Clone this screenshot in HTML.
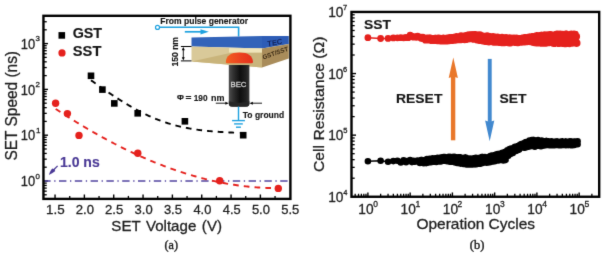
<!DOCTYPE html>
<html><head><meta charset="utf-8"><title>Figure</title>
<style>html,body{margin:0;padding:0;background:#fff;} body{width:603px;height:254px;overflow:hidden;} svg{display:block;will-change:transform;}</style>
</head><body><svg width="603" height="254" viewBox="0 0 603 254"><defs><filter id="soft" x="0" y="0" width="1" height="1" filterUnits="objectBoundingBox" color-interpolation-filters="sRGB"><feConvolveMatrix order="3" kernelMatrix="0.0144 0.1200 0.0144 0.1200 1.0000 0.1200 0.0144 0.1200 0.0144" divisor="1.5376" edgeMode="duplicate"/></filter></defs><g filter="url(#soft)"><rect x="0" y="0" width="603" height="254" fill="#fff"/><line x1="55.05" y1="198.4" x2="55.05" y2="194.5" stroke="#000" stroke-width="1.4" />
<line x1="84.38" y1="198.4" x2="84.38" y2="194.5" stroke="#000" stroke-width="1.4" />
<line x1="113.72" y1="198.4" x2="113.72" y2="194.5" stroke="#000" stroke-width="1.4" />
<line x1="143.06" y1="198.4" x2="143.06" y2="194.5" stroke="#000" stroke-width="1.4" />
<line x1="172.39" y1="198.4" x2="172.39" y2="194.5" stroke="#000" stroke-width="1.4" />
<line x1="201.73" y1="198.4" x2="201.73" y2="194.5" stroke="#000" stroke-width="1.4" />
<line x1="231.06" y1="198.4" x2="231.06" y2="194.5" stroke="#000" stroke-width="1.4" />
<line x1="260.39" y1="198.4" x2="260.39" y2="194.5" stroke="#000" stroke-width="1.4" />
<line x1="69.72" y1="198.4" x2="69.72" y2="195.9" stroke="#000" stroke-width="1.3" />
<line x1="99.05" y1="198.4" x2="99.05" y2="195.9" stroke="#000" stroke-width="1.3" />
<line x1="128.39" y1="198.4" x2="128.39" y2="195.9" stroke="#000" stroke-width="1.3" />
<line x1="157.72" y1="198.4" x2="157.72" y2="195.9" stroke="#000" stroke-width="1.3" />
<line x1="187.06" y1="198.4" x2="187.06" y2="195.9" stroke="#000" stroke-width="1.3" />
<line x1="216.39" y1="198.4" x2="216.39" y2="195.9" stroke="#000" stroke-width="1.3" />
<line x1="245.73" y1="198.4" x2="245.73" y2="195.9" stroke="#000" stroke-width="1.3" />
<line x1="275.06" y1="198.4" x2="275.06" y2="195.9" stroke="#000" stroke-width="1.3" />
<line x1="43.95" y1="194.79" x2="46.75" y2="194.79" stroke="#000" stroke-width="1.3" />
<line x1="43.95" y1="191.16" x2="46.75" y2="191.16" stroke="#000" stroke-width="1.3" />
<line x1="43.95" y1="188.09" x2="46.75" y2="188.09" stroke="#000" stroke-width="1.3" />
<line x1="43.95" y1="185.44" x2="46.75" y2="185.44" stroke="#000" stroke-width="1.3" />
<line x1="43.95" y1="183.1" x2="46.75" y2="183.1" stroke="#000" stroke-width="1.3" />
<line x1="43.95" y1="181" x2="47.95" y2="181" stroke="#000" stroke-width="1.4" />
<line x1="43.95" y1="167.21" x2="46.75" y2="167.21" stroke="#000" stroke-width="1.3" />
<line x1="43.95" y1="159.15" x2="46.75" y2="159.15" stroke="#000" stroke-width="1.3" />
<line x1="43.95" y1="153.43" x2="46.75" y2="153.43" stroke="#000" stroke-width="1.3" />
<line x1="43.95" y1="148.99" x2="46.75" y2="148.99" stroke="#000" stroke-width="1.3" />
<line x1="43.95" y1="145.36" x2="46.75" y2="145.36" stroke="#000" stroke-width="1.3" />
<line x1="43.95" y1="142.29" x2="46.75" y2="142.29" stroke="#000" stroke-width="1.3" />
<line x1="43.95" y1="139.64" x2="46.75" y2="139.64" stroke="#000" stroke-width="1.3" />
<line x1="43.95" y1="137.3" x2="46.75" y2="137.3" stroke="#000" stroke-width="1.3" />
<line x1="43.95" y1="135.2" x2="47.95" y2="135.2" stroke="#000" stroke-width="1.4" />
<line x1="43.95" y1="121.41" x2="46.75" y2="121.41" stroke="#000" stroke-width="1.3" />
<line x1="43.95" y1="113.35" x2="46.75" y2="113.35" stroke="#000" stroke-width="1.3" />
<line x1="43.95" y1="107.63" x2="46.75" y2="107.63" stroke="#000" stroke-width="1.3" />
<line x1="43.95" y1="103.19" x2="46.75" y2="103.19" stroke="#000" stroke-width="1.3" />
<line x1="43.95" y1="99.56" x2="46.75" y2="99.56" stroke="#000" stroke-width="1.3" />
<line x1="43.95" y1="96.49" x2="46.75" y2="96.49" stroke="#000" stroke-width="1.3" />
<line x1="43.95" y1="93.84" x2="46.75" y2="93.84" stroke="#000" stroke-width="1.3" />
<line x1="43.95" y1="91.5" x2="46.75" y2="91.5" stroke="#000" stroke-width="1.3" />
<line x1="43.95" y1="89.4" x2="47.95" y2="89.4" stroke="#000" stroke-width="1.4" />
<line x1="43.95" y1="75.61" x2="46.75" y2="75.61" stroke="#000" stroke-width="1.3" />
<line x1="43.95" y1="67.55" x2="46.75" y2="67.55" stroke="#000" stroke-width="1.3" />
<line x1="43.95" y1="61.83" x2="46.75" y2="61.83" stroke="#000" stroke-width="1.3" />
<line x1="43.95" y1="57.39" x2="46.75" y2="57.39" stroke="#000" stroke-width="1.3" />
<line x1="43.95" y1="53.76" x2="46.75" y2="53.76" stroke="#000" stroke-width="1.3" />
<line x1="43.95" y1="50.69" x2="46.75" y2="50.69" stroke="#000" stroke-width="1.3" />
<line x1="43.95" y1="48.04" x2="46.75" y2="48.04" stroke="#000" stroke-width="1.3" />
<line x1="43.95" y1="45.7" x2="46.75" y2="45.7" stroke="#000" stroke-width="1.3" />
<line x1="43.95" y1="43.6" x2="47.95" y2="43.6" stroke="#000" stroke-width="1.4" />
<line x1="43.95" y1="29.81" x2="46.75" y2="29.81" stroke="#000" stroke-width="1.3" />
<line x1="43.95" y1="21.75" x2="46.75" y2="21.75" stroke="#000" stroke-width="1.3" />
<line x1="43.2" y1="181" x2="289.5" y2="181" stroke="#5244a0" stroke-width="1.45" stroke-dasharray="7.4 3.6 1.3 3.5"/>
<path d="M90.2 79.7 L91.2 80.42 L92.2 81.14 L93.2 81.85 L94.2 82.57 L95.2 83.28 L96.2 83.99 L97.2 84.69 L98.2 85.4 L99.2 86.1 L100.2 86.8 L101.2 87.49 L102.2 88.19 L103.2 88.88 L104.2 89.57 L105.2 90.25 L106.2 90.94 L107.2 91.62 L108.2 92.29 L109.2 92.97 L110.2 93.64 L111.2 94.3 L112.2 94.96 L113.2 95.62 L114.2 96.28 L115.2 96.93 L116.2 97.58 L117.2 98.22 L118.2 98.86 L119.2 99.5 L120.2 100.13 L121.2 100.75 L122.2 101.37 L123.2 101.99 L124.2 102.6 L125.2 103.21 L126.2 103.81 L127.2 104.41 L128.2 105 L129.2 105.59 L130.2 106.17 L131.2 106.74 L132.2 107.31 L133.2 107.87 L134.2 108.43 L135.2 108.98 L136.2 109.53 L137.2 110.07 L138.2 110.6 L139.2 111.13 L140.2 111.64 L141.2 112.16 L142.2 112.66 L143.2 113.16 L144.2 113.66 L145.2 114.14 L146.2 114.62 L147.2 115.09 L148.2 115.56 L149.2 116.02 L150.2 116.47 L151.2 116.91 L152.2 117.34 L153.2 117.77 L154.2 118.19 L155.2 118.61 L156.2 119.01 L157.2 119.41 L158.2 119.8 L159.2 120.19 L160.2 120.56 L161.2 120.93 L162.2 121.29 L163.2 121.65 L164.2 121.99 L165.2 122.33 L166.2 122.66 L167.2 122.99 L168.2 123.3 L169.2 123.61 L170.2 123.92 L171.2 124.21 L172.2 124.5 L173.2 124.78 L174.2 125.06 L175.2 125.32 L176.2 125.59 L177.2 125.84 L178.2 126.09 L179.2 126.33 L180.2 126.56 L181.2 126.79 L182.2 127.02 L183.2 127.23 L184.2 127.44 L185.2 127.65 L186.2 127.85 L187.2 128.04 L188.2 128.23 L189.2 128.41 L190.2 128.59 L191.2 128.76 L192.2 128.93 L193.2 129.09 L194.2 129.24 L195.2 129.4 L196.2 129.54 L197.2 129.68 L198.2 129.82 L199.2 129.96 L200.2 130.09 L201.2 130.21 L202.2 130.33 L203.2 130.45 L204.2 130.56 L205.2 130.67 L206.2 130.78 L207.2 130.88 L208.2 130.98 L209.2 131.08 L210.2 131.17 L211.2 131.26 L212.2 131.35 L213.2 131.43 L214.2 131.51 L215.2 131.59 L216.2 131.67 L217.2 131.74 L218.2 131.81 L219.2 131.88 L220.2 131.95 L221.2 132.01 L222.2 132.07 L223.2 132.13 L224.2 132.19 L225.2 132.24 L226.2 132.29 L227.2 132.34 L228.2 132.39 L229.2 132.44 L230.2 132.49 L231.2 132.53 L232.2 132.57 L233.2 132.61 L234.2 132.65 L235.2 132.69 L236.2 132.73 L237.2 132.76 L238.2 132.8 L239.2 132.83" fill="none" stroke="#000" stroke-width="1.9" stroke-dasharray="5.7 5.0" stroke-dashoffset="-1"/>
<path d="M54 107.81 L55.5 108.81 L57 109.8 L58.5 110.78 L60 111.76 L61.5 112.74 L63 113.71 L64.5 114.67 L66 115.63 L67.5 116.59 L69 117.54 L70.5 118.48 L72 119.42 L73.5 120.35 L75 121.28 L76.5 122.2 L78 123.12 L79.5 124.03 L81 124.94 L82.5 125.84 L84 126.74 L85.5 127.63 L87 128.51 L88.5 129.39 L90 130.27 L91.5 131.13 L93 132 L94.5 132.85 L96 133.7 L97.5 134.55 L99 135.39 L100.5 136.22 L102 137.05 L103.5 137.88 L105 138.69 L106.5 139.5 L108 140.31 L109.5 141.11 L111 141.9 L112.5 142.69 L114 143.47 L115.5 144.25 L117 145.02 L118.5 145.78 L120 146.54 L121.5 147.29 L123 148.04 L124.5 148.78 L126 149.51 L127.5 150.24 L129 150.96 L130.5 151.68 L132 152.38 L133.5 153.09 L135 153.78 L136.5 154.47 L138 155.16 L139.5 155.84 L141 156.51 L142.5 157.17 L144 157.83 L145.5 158.48 L147 159.13 L148.5 159.77 L150 160.4 L151.5 161.03 L153 161.65 L154.5 162.26 L156 162.87 L157.5 163.47 L159 164.06 L160.5 164.65 L162 165.23 L163.5 165.8 L165 166.37 L166.5 166.93 L168 167.49 L169.5 168.03 L171 168.57 L172.5 169.11 L174 169.63 L175.5 170.15 L177 170.66 L178.5 171.17 L180 171.67 L181.5 172.16 L183 172.65 L184.5 173.12 L186 173.59 L187.5 174.06 L189 174.51 L190.5 174.96 L192 175.41 L193.5 175.84 L195 176.27 L196.5 176.69 L198 177.1 L199.5 177.51 L201 177.91 L202.5 178.3 L204 178.69 L205.5 179.06 L207 179.43 L208.5 179.8 L210 180.15 L211.5 180.5 L213 180.84 L214.5 181.17 L216 181.5 L217.5 181.82 L219 182.13 L220.5 182.43 L222 182.72 L223.5 183.01 L225 183.29 L226.5 183.56 L228 183.83 L229.5 184.09 L231 184.34 L232.5 184.58 L234 184.81 L235.5 185.04 L237 185.25 L238.5 185.46 L240 185.67 L241.5 185.86 L243 186.05 L244.5 186.23 L246 186.4 L247.5 186.56 L249 186.71 L250.5 186.86 L252 187 L253.5 187.13 L255 187.25 L256.5 187.37 L258 187.47 L259.5 187.57 L261 187.66 L262.5 187.74 L264 187.82 L265.5 187.88 L267 187.94 L268.5 187.99 L270 188.03 L271.5 188.06 L273 188.08 L274.5 188.1 L276 188.11 L277.5 188.1" fill="none" stroke="#e5211d" stroke-width="1.9" stroke-dasharray="5.7 5.1" stroke-dashoffset="-2"/>
<rect x="87.7" y="72.5" width="6.6" height="6.6" fill="#000"/>
<rect x="99.1" y="86.3" width="6.6" height="6.6" fill="#000"/>
<rect x="111" y="100.1" width="6.6" height="6.6" fill="#000"/>
<rect x="134.4" y="110" width="6.6" height="6.6" fill="#000"/>
<rect x="181.6" y="118" width="6.6" height="6.6" fill="#000"/>
<rect x="239.9" y="131.9" width="6.6" height="6.6" fill="#000"/>
<circle cx="55.6" cy="103.2" r="3.7" fill="#e5211d"/>
<circle cx="67.4" cy="113.6" r="3.7" fill="#e5211d"/>
<circle cx="79" cy="135.4" r="3.7" fill="#e5211d"/>
<circle cx="137.8" cy="153.2" r="3.7" fill="#e5211d"/>
<circle cx="219.7" cy="180.8" r="3.7" fill="#e5211d"/>
<circle cx="278.3" cy="188.4" r="3.7" fill="#e5211d"/>
<rect x="58.5" y="32.1" width="6.6" height="6.6" fill="#000"/>
<circle cx="62" cy="52.9" r="3.6" fill="#e5211d"/>
<text transform="translate(72.66 37.87) scale(1.04 1)" font-family="&quot;Liberation Sans&quot;, sans-serif" font-size="13.77" font-weight="bold" fill="#161616" stroke="#161616" stroke-width="0.15" stroke-linejoin="round" >GST</text>
<text transform="translate(72.83 55.76) scale(1.06 1)" font-family="&quot;Liberation Sans&quot;, sans-serif" font-size="13.84" font-weight="bold" fill="#161616" stroke="#161616" stroke-width="0.15" stroke-linejoin="round" >SST</text>
<line x1="57.6" y1="165.9" x2="53.8" y2="169.8" stroke="#4b3a96" stroke-width="1.3"/>
<path d="M48.9 174.9 Q50.6 169.6 52.5 168.5 Q54.6 168.6 55.3 171.1 Q52.7 173.4 48.9 174.9 Z" fill="#4b3a96"/>
<text transform="translate(59.91 167.05) scale(0.94 1)" font-family="&quot;Liberation Sans&quot;, sans-serif" font-size="14.97" font-weight="bold" fill="#4b3a96" stroke="#4b3a96" stroke-width="0.15" stroke-linejoin="round" >1.0 ns</text>
<rect x="43.45" y="15.8" width="246.95" height="183.1" fill="none" stroke="#000" stroke-width="2.4"/>
<text transform="translate(46.03 213.75) scale(1 1)" font-family="&quot;Liberation Sans&quot;, sans-serif" font-size="13.4" font-weight="normal" fill="#1e1e1e" stroke="#1e1e1e" stroke-width="0.3" stroke-linejoin="round" >1.5</text>
<text transform="translate(75.73 213.75) scale(0.98 1)" font-family="&quot;Liberation Sans&quot;, sans-serif" font-size="13.4" font-weight="normal" fill="#1e1e1e" stroke="#1e1e1e" stroke-width="0.3" stroke-linejoin="round" >2.0</text>
<text transform="translate(105.06 213.75) scale(0.98 1)" font-family="&quot;Liberation Sans&quot;, sans-serif" font-size="13.4" font-weight="normal" fill="#1e1e1e" stroke="#1e1e1e" stroke-width="0.3" stroke-linejoin="round" >2.5</text>
<text transform="translate(134.56 213.75) scale(0.97 1)" font-family="&quot;Liberation Sans&quot;, sans-serif" font-size="13.4" font-weight="normal" fill="#1e1e1e" stroke="#1e1e1e" stroke-width="0.3" stroke-linejoin="round" >3.0</text>
<text transform="translate(163.9 213.75) scale(0.97 1)" font-family="&quot;Liberation Sans&quot;, sans-serif" font-size="13.4" font-weight="normal" fill="#1e1e1e" stroke="#1e1e1e" stroke-width="0.3" stroke-linejoin="round" >3.5</text>
<text transform="translate(193.43 213.75) scale(0.96 1)" font-family="&quot;Liberation Sans&quot;, sans-serif" font-size="13.4" font-weight="normal" fill="#1e1e1e" stroke="#1e1e1e" stroke-width="0.3" stroke-linejoin="round" >4.0</text>
<text transform="translate(222.77 213.75) scale(0.96 1)" font-family="&quot;Liberation Sans&quot;, sans-serif" font-size="13.4" font-weight="normal" fill="#1e1e1e" stroke="#1e1e1e" stroke-width="0.3" stroke-linejoin="round" >4.5</text>
<text transform="translate(251.88 213.75) scale(0.97 1)" font-family="&quot;Liberation Sans&quot;, sans-serif" font-size="13.4" font-weight="normal" fill="#1e1e1e" stroke="#1e1e1e" stroke-width="0.3" stroke-linejoin="round" >5.0</text>
<text transform="translate(281.21 213.75) scale(0.97 1)" font-family="&quot;Liberation Sans&quot;, sans-serif" font-size="13.4" font-weight="normal" fill="#1e1e1e" stroke="#1e1e1e" stroke-width="0.3" stroke-linejoin="round" >5.5</text>
<text transform="translate(20.71 186.22) scale(0.94 1)" font-family="&quot;Liberation Sans&quot;, sans-serif" font-size="13.77" font-weight="normal" fill="#1e1e1e" stroke="#1e1e1e" stroke-width="0.3" stroke-linejoin="round" >10</text>
<text transform="translate(35.49 178.75) scale(1 1)" font-family="&quot;Liberation Sans&quot;, sans-serif" font-size="7.95" font-weight="normal" fill="#1e1e1e" stroke="#1e1e1e" stroke-width="0.3" stroke-linejoin="round" >0</text>
<text transform="translate(20.71 140.42) scale(0.94 1)" font-family="&quot;Liberation Sans&quot;, sans-serif" font-size="13.77" font-weight="normal" fill="#1e1e1e" stroke="#1e1e1e" stroke-width="0.3" stroke-linejoin="round" >10</text>
<text transform="translate(35.89 132.95) scale(1 1)" font-family="&quot;Liberation Sans&quot;, sans-serif" font-size="8.07" font-weight="normal" fill="#1e1e1e" stroke="#1e1e1e" stroke-width="0.3" stroke-linejoin="round" >1</text>
<text transform="translate(20.71 94.62) scale(0.94 1)" font-family="&quot;Liberation Sans&quot;, sans-serif" font-size="13.77" font-weight="normal" fill="#1e1e1e" stroke="#1e1e1e" stroke-width="0.3" stroke-linejoin="round" >10</text>
<text transform="translate(35.4 87.15) scale(1 1)" font-family="&quot;Liberation Sans&quot;, sans-serif" font-size="7.95" font-weight="normal" fill="#1e1e1e" stroke="#1e1e1e" stroke-width="0.3" stroke-linejoin="round" >2</text>
<text transform="translate(20.71 48.82) scale(0.94 1)" font-family="&quot;Liberation Sans&quot;, sans-serif" font-size="13.77" font-weight="normal" fill="#1e1e1e" stroke="#1e1e1e" stroke-width="0.3" stroke-linejoin="round" >10</text>
<text transform="translate(35.5 41.35) scale(1 1)" font-family="&quot;Liberation Sans&quot;, sans-serif" font-size="7.95" font-weight="normal" fill="#1e1e1e" stroke="#1e1e1e" stroke-width="0.3" stroke-linejoin="round" >3</text>
<text transform="translate(111.32 230.75) scale(0.98 1)" font-family="&quot;Liberation Sans&quot;, sans-serif" font-size="15.4" font-weight="normal" fill="#1e1e1e" stroke="#1e1e1e" stroke-width="0.3" stroke-linejoin="round" word-spacing="1.43" >SET Voltage (V)</text>
<text transform="translate(16.55 160.5) rotate(-90) scale(0.97 1)" font-family="&quot;Liberation Sans&quot;, sans-serif" font-size="15.92" font-weight="normal" fill="#1e1e1e" stroke="#1e1e1e" stroke-width="0.3" stroke-linejoin="round">SET Speed (ns)</text>
<text transform="translate(164.57 248.64) scale(1.01 1)" font-family="&quot;Liberation Serif&quot;, serif" font-size="12.02" font-weight="normal" fill="#1e1e1e" stroke="#1e1e1e" stroke-width="0.4" stroke-linejoin="round" >(a)</text>
<text transform="translate(160.33 23.8) scale(1.03 1)" font-family="&quot;Liberation Sans&quot;, sans-serif" font-size="8.29" font-weight="bold" fill="#161616" stroke="#161616" stroke-width="0.15" stroke-linejoin="round" >From pulse generator</text>
<polyline points="159.6,27.3 238.6,27.3 238.6,36.4" fill="none" stroke="#1ea1df" stroke-width="1.6"/>
<circle cx="157.5" cy="27.4" r="2.0" fill="#fff" stroke="#1ea1df" stroke-width="1.2"/>
<line x1="184.8" y1="31.8" x2="202" y2="31.8" stroke="#1ea1df" stroke-width="1.7"/>
<polygon points="208.8,31.8 200.5,29.2 200.5,34.4" fill="#1ea1df"/>
<polygon points="191.5,37.6 262,36.0 262,48.4 191.5,46.5" fill="#3263b9"/>
<polygon points="191.5,46.5 262,48.4 262,67.6 191.5,61.5" fill="#d9c999"/>
<polygon points="191.5,61.5 229,53.2 262,52.5 262,67.6" fill="#c9b47b"/>
<polygon points="229,48.0 262,48.4 262,52.4 229,52.4" fill="#efe5ba"/>
<polygon points="262,36.0 288.8,36.0 288.8,44.0 262,48.6" fill="#2d5cb6"/>
<polygon points="262,48.6 288.8,44.0 288.8,58.4 262,67.4" fill="#a98c5a"/>
<text transform="translate(267.6 46.6) rotate(-11) skewX(-6)" font-family="&quot;Liberation Sans&quot;, sans-serif" font-size="7.6" font-weight="bold" fill="#15245c">TEC</text>
<text transform="translate(263.2 59.6) rotate(-19.5) skewX(-4)" font-family="&quot;Liberation Sans&quot;, sans-serif" font-size="6.3" font-weight="bold" fill="#3a2a14">GST/SST</text>
<line x1="180.9" y1="46.5" x2="191.5" y2="46.5" stroke="#000" stroke-width="1" />
<line x1="180.9" y1="60.9" x2="191.5" y2="60.9" stroke="#000" stroke-width="1" />
<line x1="183.3" y1="48.5" x2="183.3" y2="58.9" stroke="#000" stroke-width="0.9" />
<polygon points="183.3,47 181.8,50.2 184.8,50.2" fill="#000"/>
<polygon points="183.3,60.4 181.8,57.2 184.8,57.2" fill="#000"/>
<text transform="translate(178 66.44) rotate(-90) scale(1.05 1)" font-family="&quot;Liberation Sans&quot;, sans-serif" font-size="8.14" font-weight="bold" fill="#161616" stroke="#161616" stroke-width="0.15" stroke-linejoin="round">150 nm</text>
<defs><linearGradient id="pg" x1="0" x2="1" y1="0" y2="0"><stop offset="0" stop-color="#505050"/><stop offset="0.2" stop-color="#333"/><stop offset="0.55" stop-color="#0e0e0e"/><stop offset="0.85" stop-color="#222"/><stop offset="1" stop-color="#3a3a3a"/></linearGradient><linearGradient id="dg" x1="0" x2="1" y1="0" y2="0"><stop offset="0" stop-color="#f2601f"/><stop offset="0.5" stop-color="#ec4420"/><stop offset="1" stop-color="#e5301c"/></linearGradient></defs>
<path d="M228.8 65.1 L249.4 65.1 L249.4 103.5 Q249.4 106.6 246 106.6 L232.2 106.6 Q228.8 106.6 228.8 103.5 Z" fill="url(#pg)"/>
<path d="M228.8 101.3 Q239.1 104.2 249.4 101.3 L249.4 103.6 Q249.4 106.8 245.6 106.8 L232.6 106.8 Q228.8 106.8 228.8 103.6 Z" fill="#262626"/>
<path d="M225.8 62 Q226.3 52.4 239.4 52.4 Q252.5 52.4 253 62 Q253 63.2 251.6 63.2 L227.2 63.2 Q225.8 63.2 225.8 62 Z" fill="url(#dg)"/>
<text transform="translate(230.46 87.2) scale(1.01 1)" font-family="&quot;Liberation Sans&quot;, sans-serif" font-size="7.7" font-weight="normal" fill="#cfcfcf" stroke="#cfcfcf" stroke-width="0.3" stroke-linejoin="round" >BEC</text>
<line x1="215.8" y1="103.2" x2="226.2" y2="103.2" stroke="#000" stroke-width="0.9" />
<polygon points="228.7,103.2 225.4,101.7 225.4,104.7" fill="#000"/>
<line x1="252" y1="103.2" x2="262" y2="103.2" stroke="#000" stroke-width="0.9" />
<polygon points="249.5,103.2 252.8,101.7 252.8,104.7" fill="#000"/>
<text transform="translate(177.04 100.46) scale(1.15 1)" font-family="&quot;Liberation Sans&quot;, sans-serif" font-size="7.3" font-weight="bold" fill="#161616" stroke="#161616" stroke-width="0.15" stroke-linejoin="round" >Φ</text>
<text transform="translate(185.58 100.8) scale(1.2 1)" font-family="&quot;Liberation Sans&quot;, sans-serif" font-size="8.5" font-weight="bold" fill="#161616" stroke="#161616" stroke-width="0.15" stroke-linejoin="round" >=</text>
<text transform="translate(193.78 100.8) scale(0.98 1)" font-family="&quot;Liberation Sans&quot;, sans-serif" font-size="8.43" font-weight="bold" fill="#161616" stroke="#161616" stroke-width="0.15" stroke-linejoin="round" >190</text>
<text transform="translate(211.1 100.8) scale(1.06 1)" font-family="&quot;Liberation Sans&quot;, sans-serif" font-size="8.5" font-weight="bold" fill="#161616" stroke="#161616" stroke-width="0.15" stroke-linejoin="round" >nm</text>
<line x1="238.5" y1="106.6" x2="238.5" y2="120.6" stroke="#1ea1df" stroke-width="1.4"/>
<line x1="232.1" y1="120.6" x2="244.9" y2="120.6" stroke="#1ea1df" stroke-width="1.4" />
<line x1="234.1" y1="123.9" x2="242.8" y2="123.9" stroke="#1ea1df" stroke-width="1.4" />
<line x1="236" y1="127.2" x2="240.9" y2="127.2" stroke="#1ea1df" stroke-width="1.4" />
<text transform="translate(242.8 118.3) scale(0.93 1)" font-family="&quot;Liberation Sans&quot;, sans-serif" font-size="9.16" font-weight="bold" fill="#161616" stroke="#161616" stroke-width="0.15" stroke-linejoin="round" >To ground</text>
<line x1="355.18" y1="196.25" x2="355.18" y2="193.75" stroke="#000" stroke-width="1.3" />
<line x1="358.53" y1="196.25" x2="358.53" y2="193.75" stroke="#000" stroke-width="1.3" />
<line x1="361.36" y1="196.25" x2="361.36" y2="193.75" stroke="#000" stroke-width="1.3" />
<line x1="363.81" y1="196.25" x2="363.81" y2="193.75" stroke="#000" stroke-width="1.3" />
<line x1="365.97" y1="196.25" x2="365.97" y2="193.75" stroke="#000" stroke-width="1.3" />
<line x1="367.9" y1="196.25" x2="367.9" y2="192.45" stroke="#000" stroke-width="1.4" />
<line x1="380.62" y1="196.25" x2="380.62" y2="193.75" stroke="#000" stroke-width="1.3" />
<line x1="388.06" y1="196.25" x2="388.06" y2="193.75" stroke="#000" stroke-width="1.3" />
<line x1="393.34" y1="196.25" x2="393.34" y2="193.75" stroke="#000" stroke-width="1.3" />
<line x1="397.43" y1="196.25" x2="397.43" y2="193.75" stroke="#000" stroke-width="1.3" />
<line x1="400.78" y1="196.25" x2="400.78" y2="193.75" stroke="#000" stroke-width="1.3" />
<line x1="403.61" y1="196.25" x2="403.61" y2="193.75" stroke="#000" stroke-width="1.3" />
<line x1="406.06" y1="196.25" x2="406.06" y2="193.75" stroke="#000" stroke-width="1.3" />
<line x1="408.22" y1="196.25" x2="408.22" y2="193.75" stroke="#000" stroke-width="1.3" />
<line x1="410.15" y1="196.25" x2="410.15" y2="192.45" stroke="#000" stroke-width="1.4" />
<line x1="422.87" y1="196.25" x2="422.87" y2="193.75" stroke="#000" stroke-width="1.3" />
<line x1="430.31" y1="196.25" x2="430.31" y2="193.75" stroke="#000" stroke-width="1.3" />
<line x1="435.59" y1="196.25" x2="435.59" y2="193.75" stroke="#000" stroke-width="1.3" />
<line x1="439.68" y1="196.25" x2="439.68" y2="193.75" stroke="#000" stroke-width="1.3" />
<line x1="443.03" y1="196.25" x2="443.03" y2="193.75" stroke="#000" stroke-width="1.3" />
<line x1="445.86" y1="196.25" x2="445.86" y2="193.75" stroke="#000" stroke-width="1.3" />
<line x1="448.31" y1="196.25" x2="448.31" y2="193.75" stroke="#000" stroke-width="1.3" />
<line x1="450.47" y1="196.25" x2="450.47" y2="193.75" stroke="#000" stroke-width="1.3" />
<line x1="452.4" y1="196.25" x2="452.4" y2="192.45" stroke="#000" stroke-width="1.4" />
<line x1="465.12" y1="196.25" x2="465.12" y2="193.75" stroke="#000" stroke-width="1.3" />
<line x1="472.56" y1="196.25" x2="472.56" y2="193.75" stroke="#000" stroke-width="1.3" />
<line x1="477.84" y1="196.25" x2="477.84" y2="193.75" stroke="#000" stroke-width="1.3" />
<line x1="481.93" y1="196.25" x2="481.93" y2="193.75" stroke="#000" stroke-width="1.3" />
<line x1="485.28" y1="196.25" x2="485.28" y2="193.75" stroke="#000" stroke-width="1.3" />
<line x1="488.11" y1="196.25" x2="488.11" y2="193.75" stroke="#000" stroke-width="1.3" />
<line x1="490.56" y1="196.25" x2="490.56" y2="193.75" stroke="#000" stroke-width="1.3" />
<line x1="492.72" y1="196.25" x2="492.72" y2="193.75" stroke="#000" stroke-width="1.3" />
<line x1="494.65" y1="196.25" x2="494.65" y2="192.45" stroke="#000" stroke-width="1.4" />
<line x1="507.37" y1="196.25" x2="507.37" y2="193.75" stroke="#000" stroke-width="1.3" />
<line x1="514.81" y1="196.25" x2="514.81" y2="193.75" stroke="#000" stroke-width="1.3" />
<line x1="520.09" y1="196.25" x2="520.09" y2="193.75" stroke="#000" stroke-width="1.3" />
<line x1="524.18" y1="196.25" x2="524.18" y2="193.75" stroke="#000" stroke-width="1.3" />
<line x1="527.53" y1="196.25" x2="527.53" y2="193.75" stroke="#000" stroke-width="1.3" />
<line x1="530.36" y1="196.25" x2="530.36" y2="193.75" stroke="#000" stroke-width="1.3" />
<line x1="532.81" y1="196.25" x2="532.81" y2="193.75" stroke="#000" stroke-width="1.3" />
<line x1="534.97" y1="196.25" x2="534.97" y2="193.75" stroke="#000" stroke-width="1.3" />
<line x1="536.9" y1="196.25" x2="536.9" y2="192.45" stroke="#000" stroke-width="1.4" />
<line x1="549.62" y1="196.25" x2="549.62" y2="193.75" stroke="#000" stroke-width="1.3" />
<line x1="557.06" y1="196.25" x2="557.06" y2="193.75" stroke="#000" stroke-width="1.3" />
<line x1="562.34" y1="196.25" x2="562.34" y2="193.75" stroke="#000" stroke-width="1.3" />
<line x1="566.43" y1="196.25" x2="566.43" y2="193.75" stroke="#000" stroke-width="1.3" />
<line x1="569.78" y1="196.25" x2="569.78" y2="193.75" stroke="#000" stroke-width="1.3" />
<line x1="572.61" y1="196.25" x2="572.61" y2="193.75" stroke="#000" stroke-width="1.3" />
<line x1="575.06" y1="196.25" x2="575.06" y2="193.75" stroke="#000" stroke-width="1.3" />
<line x1="577.22" y1="196.25" x2="577.22" y2="193.75" stroke="#000" stroke-width="1.3" />
<line x1="579.15" y1="196.25" x2="579.15" y2="192.45" stroke="#000" stroke-width="1.4" />
<line x1="591.87" y1="196.25" x2="591.87" y2="193.75" stroke="#000" stroke-width="1.3" />
<line x1="352" y1="178.21" x2="354.7" y2="178.21" stroke="#000" stroke-width="1.3" />
<line x1="352" y1="167.36" x2="354.7" y2="167.36" stroke="#000" stroke-width="1.3" />
<line x1="352" y1="159.66" x2="354.7" y2="159.66" stroke="#000" stroke-width="1.3" />
<line x1="352" y1="153.69" x2="354.7" y2="153.69" stroke="#000" stroke-width="1.3" />
<line x1="352" y1="148.82" x2="354.7" y2="148.82" stroke="#000" stroke-width="1.3" />
<line x1="352" y1="144.69" x2="354.7" y2="144.69" stroke="#000" stroke-width="1.3" />
<line x1="352" y1="141.12" x2="354.7" y2="141.12" stroke="#000" stroke-width="1.3" />
<line x1="352" y1="137.97" x2="354.7" y2="137.97" stroke="#000" stroke-width="1.3" />
<line x1="352" y1="135.15" x2="356" y2="135.15" stroke="#000" stroke-width="1.4" />
<line x1="352" y1="116.61" x2="354.7" y2="116.61" stroke="#000" stroke-width="1.3" />
<line x1="352" y1="105.76" x2="354.7" y2="105.76" stroke="#000" stroke-width="1.3" />
<line x1="352" y1="98.06" x2="354.7" y2="98.06" stroke="#000" stroke-width="1.3" />
<line x1="352" y1="92.09" x2="354.7" y2="92.09" stroke="#000" stroke-width="1.3" />
<line x1="352" y1="87.22" x2="354.7" y2="87.22" stroke="#000" stroke-width="1.3" />
<line x1="352" y1="83.09" x2="354.7" y2="83.09" stroke="#000" stroke-width="1.3" />
<line x1="352" y1="79.52" x2="354.7" y2="79.52" stroke="#000" stroke-width="1.3" />
<line x1="352" y1="76.37" x2="354.7" y2="76.37" stroke="#000" stroke-width="1.3" />
<line x1="352" y1="73.55" x2="356" y2="73.55" stroke="#000" stroke-width="1.4" />
<line x1="352" y1="55.01" x2="354.7" y2="55.01" stroke="#000" stroke-width="1.3" />
<line x1="352" y1="44.16" x2="354.7" y2="44.16" stroke="#000" stroke-width="1.3" />
<line x1="352" y1="36.46" x2="354.7" y2="36.46" stroke="#000" stroke-width="1.3" />
<line x1="352" y1="30.49" x2="354.7" y2="30.49" stroke="#000" stroke-width="1.3" />
<line x1="352" y1="25.62" x2="354.7" y2="25.62" stroke="#000" stroke-width="1.3" />
<line x1="352" y1="21.49" x2="354.7" y2="21.49" stroke="#000" stroke-width="1.3" />
<line x1="352" y1="17.92" x2="354.7" y2="17.92" stroke="#000" stroke-width="1.3" />
<line x1="352" y1="14.77" x2="354.7" y2="14.77" stroke="#000" stroke-width="1.3" />
<polyline points="367.9,37.7 380.62,38.5 388.06,38.4" fill="none" stroke="#e5211d" stroke-width="1.5"/>
<path d="M364.5 37.7a3.4 3.4 0 1 0 6.8 0a3.4 3.4 0 1 0 -6.8 0M377.22 38.5a3.4 3.4 0 1 0 6.8 0a3.4 3.4 0 1 0 -6.8 0M384.66 38.4a3.4 3.4 0 1 0 6.8 0a3.4 3.4 0 1 0 -6.8 0M389.94 37.88a3.4 3.4 0 1 0 6.8 0a3.4 3.4 0 1 0 -6.8 0M394.03 37.78a3.4 3.4 0 1 0 6.8 0a3.4 3.4 0 1 0 -6.8 0M397.38 37.69a3.4 3.4 0 1 0 6.8 0a3.4 3.4 0 1 0 -6.8 0M400.21 37.81a3.4 3.4 0 1 0 6.8 0a3.4 3.4 0 1 0 -6.8 0M402.66 37.51a3.4 3.4 0 1 0 6.8 0a3.4 3.4 0 1 0 -6.8 0M404.82 37.72a3.4 3.4 0 1 0 6.8 0a3.4 3.4 0 1 0 -6.8 0M406.75 35.15a3.4 3.4 0 1 0 6.8 0a3.4 3.4 0 1 0 -6.8 0M408.5 36.05a3.4 3.4 0 1 0 6.8 0a3.4 3.4 0 1 0 -6.8 0M410.1 37.13a3.4 3.4 0 1 0 6.8 0a3.4 3.4 0 1 0 -6.8 0M411.56 36.63a3.4 3.4 0 1 0 6.8 0a3.4 3.4 0 1 0 -6.8 0M412.92 37.28a3.4 3.4 0 1 0 6.8 0a3.4 3.4 0 1 0 -6.8 0M414.19 36.21a3.4 3.4 0 1 0 6.8 0a3.4 3.4 0 1 0 -6.8 0M415.37 37.01a3.4 3.4 0 1 0 6.8 0a3.4 3.4 0 1 0 -6.8 0M416.49 36.84a3.4 3.4 0 1 0 6.8 0a3.4 3.4 0 1 0 -6.8 0M417.54 38.21a3.4 3.4 0 1 0 6.8 0a3.4 3.4 0 1 0 -6.8 0M418.53 38.6a3.4 3.4 0 1 0 6.8 0a3.4 3.4 0 1 0 -6.8 0M419.47 37.19a3.4 3.4 0 1 0 6.8 0a3.4 3.4 0 1 0 -6.8 0M420.36 37.64a3.4 3.4 0 1 0 6.8 0a3.4 3.4 0 1 0 -6.8 0M421.22 37.93a3.4 3.4 0 1 0 6.8 0a3.4 3.4 0 1 0 -6.8 0M422.03 40.21a3.4 3.4 0 1 0 6.8 0a3.4 3.4 0 1 0 -6.8 0M422.81 40.03a3.4 3.4 0 1 0 6.8 0a3.4 3.4 0 1 0 -6.8 0M423.56 37.91a3.4 3.4 0 1 0 6.8 0a3.4 3.4 0 1 0 -6.8 0M424.28 40.15a3.4 3.4 0 1 0 6.8 0a3.4 3.4 0 1 0 -6.8 0M424.98 37.95a3.4 3.4 0 1 0 6.8 0a3.4 3.4 0 1 0 -6.8 0M425.64 39.86a3.4 3.4 0 1 0 6.8 0a3.4 3.4 0 1 0 -6.8 0M426.29 38a3.4 3.4 0 1 0 6.8 0a3.4 3.4 0 1 0 -6.8 0M426.91 37.87a3.4 3.4 0 1 0 6.8 0a3.4 3.4 0 1 0 -6.8 0M427.51 40.43a3.4 3.4 0 1 0 6.8 0a3.4 3.4 0 1 0 -6.8 0M427.96 38.21a3.4 3.4 0 1 0 6.8 0a3.4 3.4 0 1 0 -6.8 0M427.96 38.22a3.4 3.4 0 1 0 6.8 0a3.4 3.4 0 1 0 -6.8 0M428.41 40.62a3.4 3.4 0 1 0 6.8 0a3.4 3.4 0 1 0 -6.8 0M428.41 40.47a3.4 3.4 0 1 0 6.8 0a3.4 3.4 0 1 0 -6.8 0M428.86 38.4a3.4 3.4 0 1 0 6.8 0a3.4 3.4 0 1 0 -6.8 0M428.86 40.62a3.4 3.4 0 1 0 6.8 0a3.4 3.4 0 1 0 -6.8 0M429.31 39.76a3.4 3.4 0 1 0 6.8 0a3.4 3.4 0 1 0 -6.8 0M429.31 40.18a3.4 3.4 0 1 0 6.8 0a3.4 3.4 0 1 0 -6.8 0M429.76 38.29a3.4 3.4 0 1 0 6.8 0a3.4 3.4 0 1 0 -6.8 0M429.76 40.63a3.4 3.4 0 1 0 6.8 0a3.4 3.4 0 1 0 -6.8 0M430.21 40.26a3.4 3.4 0 1 0 6.8 0a3.4 3.4 0 1 0 -6.8 0M430.21 40.69a3.4 3.4 0 1 0 6.8 0a3.4 3.4 0 1 0 -6.8 0M430.66 40.62a3.4 3.4 0 1 0 6.8 0a3.4 3.4 0 1 0 -6.8 0M430.66 38.51a3.4 3.4 0 1 0 6.8 0a3.4 3.4 0 1 0 -6.8 0M431.11 38.67a3.4 3.4 0 1 0 6.8 0a3.4 3.4 0 1 0 -6.8 0M431.11 38.3a3.4 3.4 0 1 0 6.8 0a3.4 3.4 0 1 0 -6.8 0M431.56 38.29a3.4 3.4 0 1 0 6.8 0a3.4 3.4 0 1 0 -6.8 0M431.56 38.18a3.4 3.4 0 1 0 6.8 0a3.4 3.4 0 1 0 -6.8 0M432.01 38.56a3.4 3.4 0 1 0 6.8 0a3.4 3.4 0 1 0 -6.8 0M432.01 40.13a3.4 3.4 0 1 0 6.8 0a3.4 3.4 0 1 0 -6.8 0M432.46 38.1a3.4 3.4 0 1 0 6.8 0a3.4 3.4 0 1 0 -6.8 0M432.46 40.33a3.4 3.4 0 1 0 6.8 0a3.4 3.4 0 1 0 -6.8 0M432.91 38.65a3.4 3.4 0 1 0 6.8 0a3.4 3.4 0 1 0 -6.8 0M432.91 38.59a3.4 3.4 0 1 0 6.8 0a3.4 3.4 0 1 0 -6.8 0M433.36 40.63a3.4 3.4 0 1 0 6.8 0a3.4 3.4 0 1 0 -6.8 0M433.36 39.17a3.4 3.4 0 1 0 6.8 0a3.4 3.4 0 1 0 -6.8 0M433.81 38.61a3.4 3.4 0 1 0 6.8 0a3.4 3.4 0 1 0 -6.8 0M433.81 39.18a3.4 3.4 0 1 0 6.8 0a3.4 3.4 0 1 0 -6.8 0M434.26 40.46a3.4 3.4 0 1 0 6.8 0a3.4 3.4 0 1 0 -6.8 0M434.26 38.18a3.4 3.4 0 1 0 6.8 0a3.4 3.4 0 1 0 -6.8 0M434.71 40.92a3.4 3.4 0 1 0 6.8 0a3.4 3.4 0 1 0 -6.8 0M434.71 38.13a3.4 3.4 0 1 0 6.8 0a3.4 3.4 0 1 0 -6.8 0M435.16 40.59a3.4 3.4 0 1 0 6.8 0a3.4 3.4 0 1 0 -6.8 0M435.16 40.76a3.4 3.4 0 1 0 6.8 0a3.4 3.4 0 1 0 -6.8 0M435.61 38.12a3.4 3.4 0 1 0 6.8 0a3.4 3.4 0 1 0 -6.8 0M435.61 40.68a3.4 3.4 0 1 0 6.8 0a3.4 3.4 0 1 0 -6.8 0M436.06 38.75a3.4 3.4 0 1 0 6.8 0a3.4 3.4 0 1 0 -6.8 0M436.06 40.2a3.4 3.4 0 1 0 6.8 0a3.4 3.4 0 1 0 -6.8 0M436.51 38.11a3.4 3.4 0 1 0 6.8 0a3.4 3.4 0 1 0 -6.8 0M436.51 38.16a3.4 3.4 0 1 0 6.8 0a3.4 3.4 0 1 0 -6.8 0M436.96 38.37a3.4 3.4 0 1 0 6.8 0a3.4 3.4 0 1 0 -6.8 0M436.96 41.01a3.4 3.4 0 1 0 6.8 0a3.4 3.4 0 1 0 -6.8 0M437.41 38.4a3.4 3.4 0 1 0 6.8 0a3.4 3.4 0 1 0 -6.8 0M437.41 40.7a3.4 3.4 0 1 0 6.8 0a3.4 3.4 0 1 0 -6.8 0M437.86 41.01a3.4 3.4 0 1 0 6.8 0a3.4 3.4 0 1 0 -6.8 0M437.86 41.03a3.4 3.4 0 1 0 6.8 0a3.4 3.4 0 1 0 -6.8 0M438.31 38.72a3.4 3.4 0 1 0 6.8 0a3.4 3.4 0 1 0 -6.8 0M438.31 38.75a3.4 3.4 0 1 0 6.8 0a3.4 3.4 0 1 0 -6.8 0M438.76 40.02a3.4 3.4 0 1 0 6.8 0a3.4 3.4 0 1 0 -6.8 0M438.76 40.8a3.4 3.4 0 1 0 6.8 0a3.4 3.4 0 1 0 -6.8 0M439.21 38.26a3.4 3.4 0 1 0 6.8 0a3.4 3.4 0 1 0 -6.8 0M439.21 40.76a3.4 3.4 0 1 0 6.8 0a3.4 3.4 0 1 0 -6.8 0M439.66 40.88a3.4 3.4 0 1 0 6.8 0a3.4 3.4 0 1 0 -6.8 0M439.66 40.99a3.4 3.4 0 1 0 6.8 0a3.4 3.4 0 1 0 -6.8 0M440.11 38.15a3.4 3.4 0 1 0 6.8 0a3.4 3.4 0 1 0 -6.8 0M440.11 41.15a3.4 3.4 0 1 0 6.8 0a3.4 3.4 0 1 0 -6.8 0M440.56 38.24a3.4 3.4 0 1 0 6.8 0a3.4 3.4 0 1 0 -6.8 0M440.56 38.73a3.4 3.4 0 1 0 6.8 0a3.4 3.4 0 1 0 -6.8 0M441.01 40.49a3.4 3.4 0 1 0 6.8 0a3.4 3.4 0 1 0 -6.8 0M441.01 41.15a3.4 3.4 0 1 0 6.8 0a3.4 3.4 0 1 0 -6.8 0M441.46 38.74a3.4 3.4 0 1 0 6.8 0a3.4 3.4 0 1 0 -6.8 0M441.46 41.18a3.4 3.4 0 1 0 6.8 0a3.4 3.4 0 1 0 -6.8 0M441.91 40.21a3.4 3.4 0 1 0 6.8 0a3.4 3.4 0 1 0 -6.8 0M441.91 38.63a3.4 3.4 0 1 0 6.8 0a3.4 3.4 0 1 0 -6.8 0M442.36 38.57a3.4 3.4 0 1 0 6.8 0a3.4 3.4 0 1 0 -6.8 0M442.36 38.28a3.4 3.4 0 1 0 6.8 0a3.4 3.4 0 1 0 -6.8 0M442.81 38.04a3.4 3.4 0 1 0 6.8 0a3.4 3.4 0 1 0 -6.8 0M442.81 38.16a3.4 3.4 0 1 0 6.8 0a3.4 3.4 0 1 0 -6.8 0M443.26 40.55a3.4 3.4 0 1 0 6.8 0a3.4 3.4 0 1 0 -6.8 0M443.26 41.13a3.4 3.4 0 1 0 6.8 0a3.4 3.4 0 1 0 -6.8 0M443.71 38.05a3.4 3.4 0 1 0 6.8 0a3.4 3.4 0 1 0 -6.8 0M443.71 37.86a3.4 3.4 0 1 0 6.8 0a3.4 3.4 0 1 0 -6.8 0M444.16 41.02a3.4 3.4 0 1 0 6.8 0a3.4 3.4 0 1 0 -6.8 0M444.16 39.87a3.4 3.4 0 1 0 6.8 0a3.4 3.4 0 1 0 -6.8 0M444.61 38.53a3.4 3.4 0 1 0 6.8 0a3.4 3.4 0 1 0 -6.8 0M444.61 38.07a3.4 3.4 0 1 0 6.8 0a3.4 3.4 0 1 0 -6.8 0M445.06 40.06a3.4 3.4 0 1 0 6.8 0a3.4 3.4 0 1 0 -6.8 0M445.06 40.66a3.4 3.4 0 1 0 6.8 0a3.4 3.4 0 1 0 -6.8 0M445.51 38.64a3.4 3.4 0 1 0 6.8 0a3.4 3.4 0 1 0 -6.8 0M445.51 38.47a3.4 3.4 0 1 0 6.8 0a3.4 3.4 0 1 0 -6.8 0M445.96 37.53a3.4 3.4 0 1 0 6.8 0a3.4 3.4 0 1 0 -6.8 0M445.96 40.73a3.4 3.4 0 1 0 6.8 0a3.4 3.4 0 1 0 -6.8 0M446.41 37.43a3.4 3.4 0 1 0 6.8 0a3.4 3.4 0 1 0 -6.8 0M446.41 38.86a3.4 3.4 0 1 0 6.8 0a3.4 3.4 0 1 0 -6.8 0M446.86 40.5a3.4 3.4 0 1 0 6.8 0a3.4 3.4 0 1 0 -6.8 0M446.86 37.53a3.4 3.4 0 1 0 6.8 0a3.4 3.4 0 1 0 -6.8 0M447.31 40.22a3.4 3.4 0 1 0 6.8 0a3.4 3.4 0 1 0 -6.8 0M447.31 40.65a3.4 3.4 0 1 0 6.8 0a3.4 3.4 0 1 0 -6.8 0M447.76 39.89a3.4 3.4 0 1 0 6.8 0a3.4 3.4 0 1 0 -6.8 0M447.76 40.3a3.4 3.4 0 1 0 6.8 0a3.4 3.4 0 1 0 -6.8 0M448.21 37.29a3.4 3.4 0 1 0 6.8 0a3.4 3.4 0 1 0 -6.8 0M448.21 38.17a3.4 3.4 0 1 0 6.8 0a3.4 3.4 0 1 0 -6.8 0M448.66 37.3a3.4 3.4 0 1 0 6.8 0a3.4 3.4 0 1 0 -6.8 0M448.66 40.32a3.4 3.4 0 1 0 6.8 0a3.4 3.4 0 1 0 -6.8 0M449.11 37.56a3.4 3.4 0 1 0 6.8 0a3.4 3.4 0 1 0 -6.8 0M449.11 38.15a3.4 3.4 0 1 0 6.8 0a3.4 3.4 0 1 0 -6.8 0M449.56 40.5a3.4 3.4 0 1 0 6.8 0a3.4 3.4 0 1 0 -6.8 0M449.56 40.24a3.4 3.4 0 1 0 6.8 0a3.4 3.4 0 1 0 -6.8 0M450.01 40.42a3.4 3.4 0 1 0 6.8 0a3.4 3.4 0 1 0 -6.8 0M450.01 38.03a3.4 3.4 0 1 0 6.8 0a3.4 3.4 0 1 0 -6.8 0M450.46 38.25a3.4 3.4 0 1 0 6.8 0a3.4 3.4 0 1 0 -6.8 0M450.46 39.88a3.4 3.4 0 1 0 6.8 0a3.4 3.4 0 1 0 -6.8 0M450.91 38.1a3.4 3.4 0 1 0 6.8 0a3.4 3.4 0 1 0 -6.8 0M450.91 37.3a3.4 3.4 0 1 0 6.8 0a3.4 3.4 0 1 0 -6.8 0M451.36 37.6a3.4 3.4 0 1 0 6.8 0a3.4 3.4 0 1 0 -6.8 0M451.36 36.9a3.4 3.4 0 1 0 6.8 0a3.4 3.4 0 1 0 -6.8 0M451.81 37.44a3.4 3.4 0 1 0 6.8 0a3.4 3.4 0 1 0 -6.8 0M451.81 40.27a3.4 3.4 0 1 0 6.8 0a3.4 3.4 0 1 0 -6.8 0M452.26 40.2a3.4 3.4 0 1 0 6.8 0a3.4 3.4 0 1 0 -6.8 0M452.26 39.4a3.4 3.4 0 1 0 6.8 0a3.4 3.4 0 1 0 -6.8 0M452.71 38.23a3.4 3.4 0 1 0 6.8 0a3.4 3.4 0 1 0 -6.8 0M452.71 37.18a3.4 3.4 0 1 0 6.8 0a3.4 3.4 0 1 0 -6.8 0M453.16 36.5a3.4 3.4 0 1 0 6.8 0a3.4 3.4 0 1 0 -6.8 0M453.16 36.91a3.4 3.4 0 1 0 6.8 0a3.4 3.4 0 1 0 -6.8 0M453.61 39.75a3.4 3.4 0 1 0 6.8 0a3.4 3.4 0 1 0 -6.8 0M453.61 39.94a3.4 3.4 0 1 0 6.8 0a3.4 3.4 0 1 0 -6.8 0M454.06 37.06a3.4 3.4 0 1 0 6.8 0a3.4 3.4 0 1 0 -6.8 0M454.06 39.73a3.4 3.4 0 1 0 6.8 0a3.4 3.4 0 1 0 -6.8 0M454.51 39.68a3.4 3.4 0 1 0 6.8 0a3.4 3.4 0 1 0 -6.8 0M454.51 39.45a3.4 3.4 0 1 0 6.8 0a3.4 3.4 0 1 0 -6.8 0M454.96 39.32a3.4 3.4 0 1 0 6.8 0a3.4 3.4 0 1 0 -6.8 0M454.96 39.61a3.4 3.4 0 1 0 6.8 0a3.4 3.4 0 1 0 -6.8 0M455.41 36.87a3.4 3.4 0 1 0 6.8 0a3.4 3.4 0 1 0 -6.8 0M455.41 39.42a3.4 3.4 0 1 0 6.8 0a3.4 3.4 0 1 0 -6.8 0M455.86 36.53a3.4 3.4 0 1 0 6.8 0a3.4 3.4 0 1 0 -6.8 0M455.86 37.56a3.4 3.4 0 1 0 6.8 0a3.4 3.4 0 1 0 -6.8 0M456.31 39.55a3.4 3.4 0 1 0 6.8 0a3.4 3.4 0 1 0 -6.8 0M456.31 39.31a3.4 3.4 0 1 0 6.8 0a3.4 3.4 0 1 0 -6.8 0M456.76 36.43a3.4 3.4 0 1 0 6.8 0a3.4 3.4 0 1 0 -6.8 0M456.76 39.93a3.4 3.4 0 1 0 6.8 0a3.4 3.4 0 1 0 -6.8 0M457.21 39.1a3.4 3.4 0 1 0 6.8 0a3.4 3.4 0 1 0 -6.8 0M457.21 38.8a3.4 3.4 0 1 0 6.8 0a3.4 3.4 0 1 0 -6.8 0M457.66 35.59a3.4 3.4 0 1 0 6.8 0a3.4 3.4 0 1 0 -6.8 0M457.66 38.55a3.4 3.4 0 1 0 6.8 0a3.4 3.4 0 1 0 -6.8 0M458.11 36.1a3.4 3.4 0 1 0 6.8 0a3.4 3.4 0 1 0 -6.8 0M458.11 39.12a3.4 3.4 0 1 0 6.8 0a3.4 3.4 0 1 0 -6.8 0M458.56 36.98a3.4 3.4 0 1 0 6.8 0a3.4 3.4 0 1 0 -6.8 0M458.56 39.53a3.4 3.4 0 1 0 6.8 0a3.4 3.4 0 1 0 -6.8 0M459.01 38.96a3.4 3.4 0 1 0 6.8 0a3.4 3.4 0 1 0 -6.8 0M459.01 39.45a3.4 3.4 0 1 0 6.8 0a3.4 3.4 0 1 0 -6.8 0M459.46 36.23a3.4 3.4 0 1 0 6.8 0a3.4 3.4 0 1 0 -6.8 0M459.46 38.91a3.4 3.4 0 1 0 6.8 0a3.4 3.4 0 1 0 -6.8 0M459.91 39.22a3.4 3.4 0 1 0 6.8 0a3.4 3.4 0 1 0 -6.8 0M459.91 39.48a3.4 3.4 0 1 0 6.8 0a3.4 3.4 0 1 0 -6.8 0M460.36 36.1a3.4 3.4 0 1 0 6.8 0a3.4 3.4 0 1 0 -6.8 0M460.36 39.49a3.4 3.4 0 1 0 6.8 0a3.4 3.4 0 1 0 -6.8 0M460.81 39.53a3.4 3.4 0 1 0 6.8 0a3.4 3.4 0 1 0 -6.8 0M460.81 38.99a3.4 3.4 0 1 0 6.8 0a3.4 3.4 0 1 0 -6.8 0M461.26 39.76a3.4 3.4 0 1 0 6.8 0a3.4 3.4 0 1 0 -6.8 0M461.26 39.72a3.4 3.4 0 1 0 6.8 0a3.4 3.4 0 1 0 -6.8 0M461.71 37.9a3.4 3.4 0 1 0 6.8 0a3.4 3.4 0 1 0 -6.8 0M461.71 38.03a3.4 3.4 0 1 0 6.8 0a3.4 3.4 0 1 0 -6.8 0M462.16 35.28a3.4 3.4 0 1 0 6.8 0a3.4 3.4 0 1 0 -6.8 0M462.16 39.39a3.4 3.4 0 1 0 6.8 0a3.4 3.4 0 1 0 -6.8 0M462.61 39.65a3.4 3.4 0 1 0 6.8 0a3.4 3.4 0 1 0 -6.8 0M462.61 36.7a3.4 3.4 0 1 0 6.8 0a3.4 3.4 0 1 0 -6.8 0M463.06 38.91a3.4 3.4 0 1 0 6.8 0a3.4 3.4 0 1 0 -6.8 0M463.06 39.02a3.4 3.4 0 1 0 6.8 0a3.4 3.4 0 1 0 -6.8 0M463.51 39.05a3.4 3.4 0 1 0 6.8 0a3.4 3.4 0 1 0 -6.8 0M463.51 35.22a3.4 3.4 0 1 0 6.8 0a3.4 3.4 0 1 0 -6.8 0M463.96 39.2a3.4 3.4 0 1 0 6.8 0a3.4 3.4 0 1 0 -6.8 0M463.96 38.37a3.4 3.4 0 1 0 6.8 0a3.4 3.4 0 1 0 -6.8 0M464.41 38.78a3.4 3.4 0 1 0 6.8 0a3.4 3.4 0 1 0 -6.8 0M464.41 36.15a3.4 3.4 0 1 0 6.8 0a3.4 3.4 0 1 0 -6.8 0M464.86 38.59a3.4 3.4 0 1 0 6.8 0a3.4 3.4 0 1 0 -6.8 0M464.86 39.17a3.4 3.4 0 1 0 6.8 0a3.4 3.4 0 1 0 -6.8 0M465.31 38.64a3.4 3.4 0 1 0 6.8 0a3.4 3.4 0 1 0 -6.8 0M465.31 38.98a3.4 3.4 0 1 0 6.8 0a3.4 3.4 0 1 0 -6.8 0M465.76 34.71a3.4 3.4 0 1 0 6.8 0a3.4 3.4 0 1 0 -6.8 0M465.76 35.06a3.4 3.4 0 1 0 6.8 0a3.4 3.4 0 1 0 -6.8 0M466.21 36.21a3.4 3.4 0 1 0 6.8 0a3.4 3.4 0 1 0 -6.8 0M466.21 38.68a3.4 3.4 0 1 0 6.8 0a3.4 3.4 0 1 0 -6.8 0M466.66 35.19a3.4 3.4 0 1 0 6.8 0a3.4 3.4 0 1 0 -6.8 0M466.66 38.82a3.4 3.4 0 1 0 6.8 0a3.4 3.4 0 1 0 -6.8 0M467.11 38.57a3.4 3.4 0 1 0 6.8 0a3.4 3.4 0 1 0 -6.8 0M467.11 34.67a3.4 3.4 0 1 0 6.8 0a3.4 3.4 0 1 0 -6.8 0M467.56 36.43a3.4 3.4 0 1 0 6.8 0a3.4 3.4 0 1 0 -6.8 0M467.56 35.16a3.4 3.4 0 1 0 6.8 0a3.4 3.4 0 1 0 -6.8 0M468.01 34.65a3.4 3.4 0 1 0 6.8 0a3.4 3.4 0 1 0 -6.8 0M468.01 34.86a3.4 3.4 0 1 0 6.8 0a3.4 3.4 0 1 0 -6.8 0M468.46 35.44a3.4 3.4 0 1 0 6.8 0a3.4 3.4 0 1 0 -6.8 0M468.46 34.97a3.4 3.4 0 1 0 6.8 0a3.4 3.4 0 1 0 -6.8 0M468.91 34.98a3.4 3.4 0 1 0 6.8 0a3.4 3.4 0 1 0 -6.8 0M468.91 34.55a3.4 3.4 0 1 0 6.8 0a3.4 3.4 0 1 0 -6.8 0M469.36 36.28a3.4 3.4 0 1 0 6.8 0a3.4 3.4 0 1 0 -6.8 0M469.36 35.69a3.4 3.4 0 1 0 6.8 0a3.4 3.4 0 1 0 -6.8 0M469.81 38.42a3.4 3.4 0 1 0 6.8 0a3.4 3.4 0 1 0 -6.8 0M469.81 38.29a3.4 3.4 0 1 0 6.8 0a3.4 3.4 0 1 0 -6.8 0M470.26 35.05a3.4 3.4 0 1 0 6.8 0a3.4 3.4 0 1 0 -6.8 0M470.26 39.47a3.4 3.4 0 1 0 6.8 0a3.4 3.4 0 1 0 -6.8 0M470.71 34.35a3.4 3.4 0 1 0 6.8 0a3.4 3.4 0 1 0 -6.8 0M470.71 35.77a3.4 3.4 0 1 0 6.8 0a3.4 3.4 0 1 0 -6.8 0M471.16 35.15a3.4 3.4 0 1 0 6.8 0a3.4 3.4 0 1 0 -6.8 0M471.16 35.77a3.4 3.4 0 1 0 6.8 0a3.4 3.4 0 1 0 -6.8 0M471.61 34.6a3.4 3.4 0 1 0 6.8 0a3.4 3.4 0 1 0 -6.8 0M471.61 39.25a3.4 3.4 0 1 0 6.8 0a3.4 3.4 0 1 0 -6.8 0M472.06 35.59a3.4 3.4 0 1 0 6.8 0a3.4 3.4 0 1 0 -6.8 0M472.06 34.42a3.4 3.4 0 1 0 6.8 0a3.4 3.4 0 1 0 -6.8 0M472.51 38.55a3.4 3.4 0 1 0 6.8 0a3.4 3.4 0 1 0 -6.8 0M472.51 34.6a3.4 3.4 0 1 0 6.8 0a3.4 3.4 0 1 0 -6.8 0M472.96 38.14a3.4 3.4 0 1 0 6.8 0a3.4 3.4 0 1 0 -6.8 0M472.96 35.51a3.4 3.4 0 1 0 6.8 0a3.4 3.4 0 1 0 -6.8 0M473.41 38.51a3.4 3.4 0 1 0 6.8 0a3.4 3.4 0 1 0 -6.8 0M473.41 39.99a3.4 3.4 0 1 0 6.8 0a3.4 3.4 0 1 0 -6.8 0M473.86 39.67a3.4 3.4 0 1 0 6.8 0a3.4 3.4 0 1 0 -6.8 0M473.86 36.05a3.4 3.4 0 1 0 6.8 0a3.4 3.4 0 1 0 -6.8 0M474.31 39.74a3.4 3.4 0 1 0 6.8 0a3.4 3.4 0 1 0 -6.8 0M474.31 39.04a3.4 3.4 0 1 0 6.8 0a3.4 3.4 0 1 0 -6.8 0M474.76 35.83a3.4 3.4 0 1 0 6.8 0a3.4 3.4 0 1 0 -6.8 0M474.76 34.9a3.4 3.4 0 1 0 6.8 0a3.4 3.4 0 1 0 -6.8 0M475.21 38.93a3.4 3.4 0 1 0 6.8 0a3.4 3.4 0 1 0 -6.8 0M475.21 38.69a3.4 3.4 0 1 0 6.8 0a3.4 3.4 0 1 0 -6.8 0M475.66 40.47a3.4 3.4 0 1 0 6.8 0a3.4 3.4 0 1 0 -6.8 0M475.66 40.5a3.4 3.4 0 1 0 6.8 0a3.4 3.4 0 1 0 -6.8 0M476.11 39.17a3.4 3.4 0 1 0 6.8 0a3.4 3.4 0 1 0 -6.8 0M476.11 35.86a3.4 3.4 0 1 0 6.8 0a3.4 3.4 0 1 0 -6.8 0M476.56 40.47a3.4 3.4 0 1 0 6.8 0a3.4 3.4 0 1 0 -6.8 0M476.56 34.6a3.4 3.4 0 1 0 6.8 0a3.4 3.4 0 1 0 -6.8 0M477.01 34.98a3.4 3.4 0 1 0 6.8 0a3.4 3.4 0 1 0 -6.8 0M477.01 39.01a3.4 3.4 0 1 0 6.8 0a3.4 3.4 0 1 0 -6.8 0M477.46 39.43a3.4 3.4 0 1 0 6.8 0a3.4 3.4 0 1 0 -6.8 0M477.46 35.16a3.4 3.4 0 1 0 6.8 0a3.4 3.4 0 1 0 -6.8 0M477.91 39.58a3.4 3.4 0 1 0 6.8 0a3.4 3.4 0 1 0 -6.8 0M477.91 40.67a3.4 3.4 0 1 0 6.8 0a3.4 3.4 0 1 0 -6.8 0M478.36 36.31a3.4 3.4 0 1 0 6.8 0a3.4 3.4 0 1 0 -6.8 0M478.36 36.7a3.4 3.4 0 1 0 6.8 0a3.4 3.4 0 1 0 -6.8 0M478.81 35.67a3.4 3.4 0 1 0 6.8 0a3.4 3.4 0 1 0 -6.8 0M478.81 35.94a3.4 3.4 0 1 0 6.8 0a3.4 3.4 0 1 0 -6.8 0M479.26 41.12a3.4 3.4 0 1 0 6.8 0a3.4 3.4 0 1 0 -6.8 0M479.26 36.47a3.4 3.4 0 1 0 6.8 0a3.4 3.4 0 1 0 -6.8 0M479.71 41.16a3.4 3.4 0 1 0 6.8 0a3.4 3.4 0 1 0 -6.8 0M479.71 41.01a3.4 3.4 0 1 0 6.8 0a3.4 3.4 0 1 0 -6.8 0M480.16 39.71a3.4 3.4 0 1 0 6.8 0a3.4 3.4 0 1 0 -6.8 0M480.16 36.01a3.4 3.4 0 1 0 6.8 0a3.4 3.4 0 1 0 -6.8 0M480.61 41.35a3.4 3.4 0 1 0 6.8 0a3.4 3.4 0 1 0 -6.8 0M480.61 37.96a3.4 3.4 0 1 0 6.8 0a3.4 3.4 0 1 0 -6.8 0M481.06 36.98a3.4 3.4 0 1 0 6.8 0a3.4 3.4 0 1 0 -6.8 0M481.06 36.41a3.4 3.4 0 1 0 6.8 0a3.4 3.4 0 1 0 -6.8 0M481.51 41.49a3.4 3.4 0 1 0 6.8 0a3.4 3.4 0 1 0 -6.8 0M481.51 37.95a3.4 3.4 0 1 0 6.8 0a3.4 3.4 0 1 0 -6.8 0M481.96 36.39a3.4 3.4 0 1 0 6.8 0a3.4 3.4 0 1 0 -6.8 0M481.96 37.73a3.4 3.4 0 1 0 6.8 0a3.4 3.4 0 1 0 -6.8 0M482.41 35.84a3.4 3.4 0 1 0 6.8 0a3.4 3.4 0 1 0 -6.8 0M482.41 40.21a3.4 3.4 0 1 0 6.8 0a3.4 3.4 0 1 0 -6.8 0M482.86 37.48a3.4 3.4 0 1 0 6.8 0a3.4 3.4 0 1 0 -6.8 0M482.86 36.55a3.4 3.4 0 1 0 6.8 0a3.4 3.4 0 1 0 -6.8 0M483.31 41.1a3.4 3.4 0 1 0 6.8 0a3.4 3.4 0 1 0 -6.8 0M483.31 41.27a3.4 3.4 0 1 0 6.8 0a3.4 3.4 0 1 0 -6.8 0M483.76 35.71a3.4 3.4 0 1 0 6.8 0a3.4 3.4 0 1 0 -6.8 0M483.76 39.68a3.4 3.4 0 1 0 6.8 0a3.4 3.4 0 1 0 -6.8 0M484.21 36.67a3.4 3.4 0 1 0 6.8 0a3.4 3.4 0 1 0 -6.8 0M484.21 41.75a3.4 3.4 0 1 0 6.8 0a3.4 3.4 0 1 0 -6.8 0M484.66 41.3a3.4 3.4 0 1 0 6.8 0a3.4 3.4 0 1 0 -6.8 0M484.66 36.62a3.4 3.4 0 1 0 6.8 0a3.4 3.4 0 1 0 -6.8 0M485.11 36.78a3.4 3.4 0 1 0 6.8 0a3.4 3.4 0 1 0 -6.8 0M485.11 36.35a3.4 3.4 0 1 0 6.8 0a3.4 3.4 0 1 0 -6.8 0M485.56 42.11a3.4 3.4 0 1 0 6.8 0a3.4 3.4 0 1 0 -6.8 0M485.56 36.96a3.4 3.4 0 1 0 6.8 0a3.4 3.4 0 1 0 -6.8 0M486.01 40.67a3.4 3.4 0 1 0 6.8 0a3.4 3.4 0 1 0 -6.8 0M486.01 38.3a3.4 3.4 0 1 0 6.8 0a3.4 3.4 0 1 0 -6.8 0M486.46 40.95a3.4 3.4 0 1 0 6.8 0a3.4 3.4 0 1 0 -6.8 0M486.46 40.71a3.4 3.4 0 1 0 6.8 0a3.4 3.4 0 1 0 -6.8 0M486.91 41.46a3.4 3.4 0 1 0 6.8 0a3.4 3.4 0 1 0 -6.8 0M486.91 36.48a3.4 3.4 0 1 0 6.8 0a3.4 3.4 0 1 0 -6.8 0M487.36 41.55a3.4 3.4 0 1 0 6.8 0a3.4 3.4 0 1 0 -6.8 0M487.36 37.22a3.4 3.4 0 1 0 6.8 0a3.4 3.4 0 1 0 -6.8 0M487.81 40.2a3.4 3.4 0 1 0 6.8 0a3.4 3.4 0 1 0 -6.8 0M487.81 37.43a3.4 3.4 0 1 0 6.8 0a3.4 3.4 0 1 0 -6.8 0M488.26 37.29a3.4 3.4 0 1 0 6.8 0a3.4 3.4 0 1 0 -6.8 0M488.26 40.19a3.4 3.4 0 1 0 6.8 0a3.4 3.4 0 1 0 -6.8 0M488.71 38.43a3.4 3.4 0 1 0 6.8 0a3.4 3.4 0 1 0 -6.8 0M488.71 37.65a3.4 3.4 0 1 0 6.8 0a3.4 3.4 0 1 0 -6.8 0M489.16 41.59a3.4 3.4 0 1 0 6.8 0a3.4 3.4 0 1 0 -6.8 0M489.16 40.8a3.4 3.4 0 1 0 6.8 0a3.4 3.4 0 1 0 -6.8 0M489.61 36.5a3.4 3.4 0 1 0 6.8 0a3.4 3.4 0 1 0 -6.8 0M489.61 37.22a3.4 3.4 0 1 0 6.8 0a3.4 3.4 0 1 0 -6.8 0M490.06 38.45a3.4 3.4 0 1 0 6.8 0a3.4 3.4 0 1 0 -6.8 0M490.06 42.24a3.4 3.4 0 1 0 6.8 0a3.4 3.4 0 1 0 -6.8 0M490.51 42.17a3.4 3.4 0 1 0 6.8 0a3.4 3.4 0 1 0 -6.8 0M490.51 40.52a3.4 3.4 0 1 0 6.8 0a3.4 3.4 0 1 0 -6.8 0M490.96 36.58a3.4 3.4 0 1 0 6.8 0a3.4 3.4 0 1 0 -6.8 0M490.96 41.83a3.4 3.4 0 1 0 6.8 0a3.4 3.4 0 1 0 -6.8 0M491.41 38.31a3.4 3.4 0 1 0 6.8 0a3.4 3.4 0 1 0 -6.8 0M491.41 40.83a3.4 3.4 0 1 0 6.8 0a3.4 3.4 0 1 0 -6.8 0M491.86 41.6a3.4 3.4 0 1 0 6.8 0a3.4 3.4 0 1 0 -6.8 0M491.86 41.23a3.4 3.4 0 1 0 6.8 0a3.4 3.4 0 1 0 -6.8 0M492.31 38.96a3.4 3.4 0 1 0 6.8 0a3.4 3.4 0 1 0 -6.8 0M492.31 42.34a3.4 3.4 0 1 0 6.8 0a3.4 3.4 0 1 0 -6.8 0M492.76 38.14a3.4 3.4 0 1 0 6.8 0a3.4 3.4 0 1 0 -6.8 0M492.76 38.18a3.4 3.4 0 1 0 6.8 0a3.4 3.4 0 1 0 -6.8 0M493.21 42.2a3.4 3.4 0 1 0 6.8 0a3.4 3.4 0 1 0 -6.8 0M493.21 37.35a3.4 3.4 0 1 0 6.8 0a3.4 3.4 0 1 0 -6.8 0M493.66 37.78a3.4 3.4 0 1 0 6.8 0a3.4 3.4 0 1 0 -6.8 0M493.66 42.15a3.4 3.4 0 1 0 6.8 0a3.4 3.4 0 1 0 -6.8 0M494.11 37.03a3.4 3.4 0 1 0 6.8 0a3.4 3.4 0 1 0 -6.8 0M494.11 42.2a3.4 3.4 0 1 0 6.8 0a3.4 3.4 0 1 0 -6.8 0M494.56 41.69a3.4 3.4 0 1 0 6.8 0a3.4 3.4 0 1 0 -6.8 0M494.56 38.62a3.4 3.4 0 1 0 6.8 0a3.4 3.4 0 1 0 -6.8 0M495.01 37.86a3.4 3.4 0 1 0 6.8 0a3.4 3.4 0 1 0 -6.8 0M495.01 42.06a3.4 3.4 0 1 0 6.8 0a3.4 3.4 0 1 0 -6.8 0M495.46 42.5a3.4 3.4 0 1 0 6.8 0a3.4 3.4 0 1 0 -6.8 0M495.46 37.39a3.4 3.4 0 1 0 6.8 0a3.4 3.4 0 1 0 -6.8 0M495.91 39.2a3.4 3.4 0 1 0 6.8 0a3.4 3.4 0 1 0 -6.8 0M495.91 40.91a3.4 3.4 0 1 0 6.8 0a3.4 3.4 0 1 0 -6.8 0M496.36 39.68a3.4 3.4 0 1 0 6.8 0a3.4 3.4 0 1 0 -6.8 0M496.36 38.18a3.4 3.4 0 1 0 6.8 0a3.4 3.4 0 1 0 -6.8 0M496.81 37.54a3.4 3.4 0 1 0 6.8 0a3.4 3.4 0 1 0 -6.8 0M496.81 41.25a3.4 3.4 0 1 0 6.8 0a3.4 3.4 0 1 0 -6.8 0M497.26 42.29a3.4 3.4 0 1 0 6.8 0a3.4 3.4 0 1 0 -6.8 0M497.26 37.32a3.4 3.4 0 1 0 6.8 0a3.4 3.4 0 1 0 -6.8 0M497.71 37.85a3.4 3.4 0 1 0 6.8 0a3.4 3.4 0 1 0 -6.8 0M497.71 42.34a3.4 3.4 0 1 0 6.8 0a3.4 3.4 0 1 0 -6.8 0M498.16 42.26a3.4 3.4 0 1 0 6.8 0a3.4 3.4 0 1 0 -6.8 0M498.16 41.75a3.4 3.4 0 1 0 6.8 0a3.4 3.4 0 1 0 -6.8 0M498.61 37.27a3.4 3.4 0 1 0 6.8 0a3.4 3.4 0 1 0 -6.8 0M498.61 42.03a3.4 3.4 0 1 0 6.8 0a3.4 3.4 0 1 0 -6.8 0M499.06 42.87a3.4 3.4 0 1 0 6.8 0a3.4 3.4 0 1 0 -6.8 0M499.06 42.92a3.4 3.4 0 1 0 6.8 0a3.4 3.4 0 1 0 -6.8 0M499.51 41.99a3.4 3.4 0 1 0 6.8 0a3.4 3.4 0 1 0 -6.8 0M499.51 37.37a3.4 3.4 0 1 0 6.8 0a3.4 3.4 0 1 0 -6.8 0M499.96 42.52a3.4 3.4 0 1 0 6.8 0a3.4 3.4 0 1 0 -6.8 0M499.96 37.92a3.4 3.4 0 1 0 6.8 0a3.4 3.4 0 1 0 -6.8 0M500.41 41.78a3.4 3.4 0 1 0 6.8 0a3.4 3.4 0 1 0 -6.8 0M500.41 42.86a3.4 3.4 0 1 0 6.8 0a3.4 3.4 0 1 0 -6.8 0M500.86 42.1a3.4 3.4 0 1 0 6.8 0a3.4 3.4 0 1 0 -6.8 0M500.86 37.69a3.4 3.4 0 1 0 6.8 0a3.4 3.4 0 1 0 -6.8 0M501.31 38.27a3.4 3.4 0 1 0 6.8 0a3.4 3.4 0 1 0 -6.8 0M501.31 42.81a3.4 3.4 0 1 0 6.8 0a3.4 3.4 0 1 0 -6.8 0M501.76 37.78a3.4 3.4 0 1 0 6.8 0a3.4 3.4 0 1 0 -6.8 0M501.76 41.65a3.4 3.4 0 1 0 6.8 0a3.4 3.4 0 1 0 -6.8 0M502.21 38.94a3.4 3.4 0 1 0 6.8 0a3.4 3.4 0 1 0 -6.8 0M502.21 37.84a3.4 3.4 0 1 0 6.8 0a3.4 3.4 0 1 0 -6.8 0M502.66 41.77a3.4 3.4 0 1 0 6.8 0a3.4 3.4 0 1 0 -6.8 0M502.66 37.52a3.4 3.4 0 1 0 6.8 0a3.4 3.4 0 1 0 -6.8 0M503.11 37.72a3.4 3.4 0 1 0 6.8 0a3.4 3.4 0 1 0 -6.8 0M503.11 38.77a3.4 3.4 0 1 0 6.8 0a3.4 3.4 0 1 0 -6.8 0M503.56 37.64a3.4 3.4 0 1 0 6.8 0a3.4 3.4 0 1 0 -6.8 0M503.56 37.6a3.4 3.4 0 1 0 6.8 0a3.4 3.4 0 1 0 -6.8 0M504.01 41.54a3.4 3.4 0 1 0 6.8 0a3.4 3.4 0 1 0 -6.8 0M504.01 42.38a3.4 3.4 0 1 0 6.8 0a3.4 3.4 0 1 0 -6.8 0M504.46 42.86a3.4 3.4 0 1 0 6.8 0a3.4 3.4 0 1 0 -6.8 0M504.46 37.87a3.4 3.4 0 1 0 6.8 0a3.4 3.4 0 1 0 -6.8 0M504.91 39.2a3.4 3.4 0 1 0 6.8 0a3.4 3.4 0 1 0 -6.8 0M504.91 38.54a3.4 3.4 0 1 0 6.8 0a3.4 3.4 0 1 0 -6.8 0M505.36 41.77a3.4 3.4 0 1 0 6.8 0a3.4 3.4 0 1 0 -6.8 0M505.36 39.89a3.4 3.4 0 1 0 6.8 0a3.4 3.4 0 1 0 -6.8 0M505.81 43.1a3.4 3.4 0 1 0 6.8 0a3.4 3.4 0 1 0 -6.8 0M505.81 38.88a3.4 3.4 0 1 0 6.8 0a3.4 3.4 0 1 0 -6.8 0M506.26 37.73a3.4 3.4 0 1 0 6.8 0a3.4 3.4 0 1 0 -6.8 0M506.26 42.31a3.4 3.4 0 1 0 6.8 0a3.4 3.4 0 1 0 -6.8 0M506.71 38.03a3.4 3.4 0 1 0 6.8 0a3.4 3.4 0 1 0 -6.8 0M506.71 42.01a3.4 3.4 0 1 0 6.8 0a3.4 3.4 0 1 0 -6.8 0M507.16 40.83a3.4 3.4 0 1 0 6.8 0a3.4 3.4 0 1 0 -6.8 0M507.16 43.03a3.4 3.4 0 1 0 6.8 0a3.4 3.4 0 1 0 -6.8 0M507.61 41.49a3.4 3.4 0 1 0 6.8 0a3.4 3.4 0 1 0 -6.8 0M507.61 41.93a3.4 3.4 0 1 0 6.8 0a3.4 3.4 0 1 0 -6.8 0M508.06 38.47a3.4 3.4 0 1 0 6.8 0a3.4 3.4 0 1 0 -6.8 0M508.06 41.45a3.4 3.4 0 1 0 6.8 0a3.4 3.4 0 1 0 -6.8 0M508.51 38.45a3.4 3.4 0 1 0 6.8 0a3.4 3.4 0 1 0 -6.8 0M508.51 42.47a3.4 3.4 0 1 0 6.8 0a3.4 3.4 0 1 0 -6.8 0M508.96 41.05a3.4 3.4 0 1 0 6.8 0a3.4 3.4 0 1 0 -6.8 0M508.96 38.08a3.4 3.4 0 1 0 6.8 0a3.4 3.4 0 1 0 -6.8 0M509.41 38.41a3.4 3.4 0 1 0 6.8 0a3.4 3.4 0 1 0 -6.8 0M509.41 38.98a3.4 3.4 0 1 0 6.8 0a3.4 3.4 0 1 0 -6.8 0M509.86 42.37a3.4 3.4 0 1 0 6.8 0a3.4 3.4 0 1 0 -6.8 0M509.86 38.25a3.4 3.4 0 1 0 6.8 0a3.4 3.4 0 1 0 -6.8 0M510.31 42.27a3.4 3.4 0 1 0 6.8 0a3.4 3.4 0 1 0 -6.8 0M510.31 42.02a3.4 3.4 0 1 0 6.8 0a3.4 3.4 0 1 0 -6.8 0M510.76 38.02a3.4 3.4 0 1 0 6.8 0a3.4 3.4 0 1 0 -6.8 0M510.76 42.07a3.4 3.4 0 1 0 6.8 0a3.4 3.4 0 1 0 -6.8 0M511.21 38.06a3.4 3.4 0 1 0 6.8 0a3.4 3.4 0 1 0 -6.8 0M511.21 38.15a3.4 3.4 0 1 0 6.8 0a3.4 3.4 0 1 0 -6.8 0M511.66 41.67a3.4 3.4 0 1 0 6.8 0a3.4 3.4 0 1 0 -6.8 0M511.66 38.51a3.4 3.4 0 1 0 6.8 0a3.4 3.4 0 1 0 -6.8 0M512.11 42.72a3.4 3.4 0 1 0 6.8 0a3.4 3.4 0 1 0 -6.8 0M512.11 39.85a3.4 3.4 0 1 0 6.8 0a3.4 3.4 0 1 0 -6.8 0M512.56 38.85a3.4 3.4 0 1 0 6.8 0a3.4 3.4 0 1 0 -6.8 0M512.56 42.47a3.4 3.4 0 1 0 6.8 0a3.4 3.4 0 1 0 -6.8 0M513.01 37.99a3.4 3.4 0 1 0 6.8 0a3.4 3.4 0 1 0 -6.8 0M513.01 42.22a3.4 3.4 0 1 0 6.8 0a3.4 3.4 0 1 0 -6.8 0M513.46 38.07a3.4 3.4 0 1 0 6.8 0a3.4 3.4 0 1 0 -6.8 0M513.46 38.32a3.4 3.4 0 1 0 6.8 0a3.4 3.4 0 1 0 -6.8 0M513.91 42.82a3.4 3.4 0 1 0 6.8 0a3.4 3.4 0 1 0 -6.8 0M513.91 42.02a3.4 3.4 0 1 0 6.8 0a3.4 3.4 0 1 0 -6.8 0M514.36 38.56a3.4 3.4 0 1 0 6.8 0a3.4 3.4 0 1 0 -6.8 0M514.36 38.26a3.4 3.4 0 1 0 6.8 0a3.4 3.4 0 1 0 -6.8 0M514.81 42.83a3.4 3.4 0 1 0 6.8 0a3.4 3.4 0 1 0 -6.8 0M514.81 41.93a3.4 3.4 0 1 0 6.8 0a3.4 3.4 0 1 0 -6.8 0M515.26 42.43a3.4 3.4 0 1 0 6.8 0a3.4 3.4 0 1 0 -6.8 0M515.26 38.36a3.4 3.4 0 1 0 6.8 0a3.4 3.4 0 1 0 -6.8 0M515.71 41.73a3.4 3.4 0 1 0 6.8 0a3.4 3.4 0 1 0 -6.8 0M515.71 39.08a3.4 3.4 0 1 0 6.8 0a3.4 3.4 0 1 0 -6.8 0M516.16 38.67a3.4 3.4 0 1 0 6.8 0a3.4 3.4 0 1 0 -6.8 0M516.16 39a3.4 3.4 0 1 0 6.8 0a3.4 3.4 0 1 0 -6.8 0M516.61 41.66a3.4 3.4 0 1 0 6.8 0a3.4 3.4 0 1 0 -6.8 0M516.61 39.08a3.4 3.4 0 1 0 6.8 0a3.4 3.4 0 1 0 -6.8 0M517.06 39.18a3.4 3.4 0 1 0 6.8 0a3.4 3.4 0 1 0 -6.8 0M517.06 38.35a3.4 3.4 0 1 0 6.8 0a3.4 3.4 0 1 0 -6.8 0M517.51 42.31a3.4 3.4 0 1 0 6.8 0a3.4 3.4 0 1 0 -6.8 0M517.51 41.71a3.4 3.4 0 1 0 6.8 0a3.4 3.4 0 1 0 -6.8 0M517.96 42.19a3.4 3.4 0 1 0 6.8 0a3.4 3.4 0 1 0 -6.8 0M517.96 39.32a3.4 3.4 0 1 0 6.8 0a3.4 3.4 0 1 0 -6.8 0M518.41 42.27a3.4 3.4 0 1 0 6.8 0a3.4 3.4 0 1 0 -6.8 0M518.41 40.75a3.4 3.4 0 1 0 6.8 0a3.4 3.4 0 1 0 -6.8 0M518.86 41.29a3.4 3.4 0 1 0 6.8 0a3.4 3.4 0 1 0 -6.8 0M518.86 41.18a3.4 3.4 0 1 0 6.8 0a3.4 3.4 0 1 0 -6.8 0M519.31 41.85a3.4 3.4 0 1 0 6.8 0a3.4 3.4 0 1 0 -6.8 0M519.31 38.92a3.4 3.4 0 1 0 6.8 0a3.4 3.4 0 1 0 -6.8 0M519.76 37.85a3.4 3.4 0 1 0 6.8 0a3.4 3.4 0 1 0 -6.8 0M519.76 37.7a3.4 3.4 0 1 0 6.8 0a3.4 3.4 0 1 0 -6.8 0M520.21 38.07a3.4 3.4 0 1 0 6.8 0a3.4 3.4 0 1 0 -6.8 0M520.21 37.65a3.4 3.4 0 1 0 6.8 0a3.4 3.4 0 1 0 -6.8 0M520.66 42.13a3.4 3.4 0 1 0 6.8 0a3.4 3.4 0 1 0 -6.8 0M520.66 39.38a3.4 3.4 0 1 0 6.8 0a3.4 3.4 0 1 0 -6.8 0M521.11 41.72a3.4 3.4 0 1 0 6.8 0a3.4 3.4 0 1 0 -6.8 0M521.11 37.42a3.4 3.4 0 1 0 6.8 0a3.4 3.4 0 1 0 -6.8 0M521.56 39.13a3.4 3.4 0 1 0 6.8 0a3.4 3.4 0 1 0 -6.8 0M521.56 42.04a3.4 3.4 0 1 0 6.8 0a3.4 3.4 0 1 0 -6.8 0M522.01 41.08a3.4 3.4 0 1 0 6.8 0a3.4 3.4 0 1 0 -6.8 0M522.01 38.74a3.4 3.4 0 1 0 6.8 0a3.4 3.4 0 1 0 -6.8 0M522.46 38.97a3.4 3.4 0 1 0 6.8 0a3.4 3.4 0 1 0 -6.8 0M522.46 37.46a3.4 3.4 0 1 0 6.8 0a3.4 3.4 0 1 0 -6.8 0M522.91 37.54a3.4 3.4 0 1 0 6.8 0a3.4 3.4 0 1 0 -6.8 0M522.91 37.55a3.4 3.4 0 1 0 6.8 0a3.4 3.4 0 1 0 -6.8 0M523.36 38.25a3.4 3.4 0 1 0 6.8 0a3.4 3.4 0 1 0 -6.8 0M523.36 38.31a3.4 3.4 0 1 0 6.8 0a3.4 3.4 0 1 0 -6.8 0M523.81 41.79a3.4 3.4 0 1 0 6.8 0a3.4 3.4 0 1 0 -6.8 0M523.81 37.4a3.4 3.4 0 1 0 6.8 0a3.4 3.4 0 1 0 -6.8 0M524.26 37.65a3.4 3.4 0 1 0 6.8 0a3.4 3.4 0 1 0 -6.8 0M524.26 37.73a3.4 3.4 0 1 0 6.8 0a3.4 3.4 0 1 0 -6.8 0M524.71 37.29a3.4 3.4 0 1 0 6.8 0a3.4 3.4 0 1 0 -6.8 0M524.71 37.7a3.4 3.4 0 1 0 6.8 0a3.4 3.4 0 1 0 -6.8 0M525.16 37.45a3.4 3.4 0 1 0 6.8 0a3.4 3.4 0 1 0 -6.8 0M525.16 38.81a3.4 3.4 0 1 0 6.8 0a3.4 3.4 0 1 0 -6.8 0M525.61 36.82a3.4 3.4 0 1 0 6.8 0a3.4 3.4 0 1 0 -6.8 0M525.61 41.72a3.4 3.4 0 1 0 6.8 0a3.4 3.4 0 1 0 -6.8 0M526.06 37.85a3.4 3.4 0 1 0 6.8 0a3.4 3.4 0 1 0 -6.8 0M526.06 41.7a3.4 3.4 0 1 0 6.8 0a3.4 3.4 0 1 0 -6.8 0M526.51 40.88a3.4 3.4 0 1 0 6.8 0a3.4 3.4 0 1 0 -6.8 0M526.51 40.83a3.4 3.4 0 1 0 6.8 0a3.4 3.4 0 1 0 -6.8 0M526.96 38.48a3.4 3.4 0 1 0 6.8 0a3.4 3.4 0 1 0 -6.8 0M526.96 41.76a3.4 3.4 0 1 0 6.8 0a3.4 3.4 0 1 0 -6.8 0M527.41 36.77a3.4 3.4 0 1 0 6.8 0a3.4 3.4 0 1 0 -6.8 0M527.41 40.94a3.4 3.4 0 1 0 6.8 0a3.4 3.4 0 1 0 -6.8 0M527.86 37.31a3.4 3.4 0 1 0 6.8 0a3.4 3.4 0 1 0 -6.8 0M527.86 41.04a3.4 3.4 0 1 0 6.8 0a3.4 3.4 0 1 0 -6.8 0M528.31 41.36a3.4 3.4 0 1 0 6.8 0a3.4 3.4 0 1 0 -6.8 0M528.31 36.78a3.4 3.4 0 1 0 6.8 0a3.4 3.4 0 1 0 -6.8 0M528.76 36.85a3.4 3.4 0 1 0 6.8 0a3.4 3.4 0 1 0 -6.8 0M528.76 36.28a3.4 3.4 0 1 0 6.8 0a3.4 3.4 0 1 0 -6.8 0M529.21 36.9a3.4 3.4 0 1 0 6.8 0a3.4 3.4 0 1 0 -6.8 0M529.21 36.36a3.4 3.4 0 1 0 6.8 0a3.4 3.4 0 1 0 -6.8 0M529.66 37.74a3.4 3.4 0 1 0 6.8 0a3.4 3.4 0 1 0 -6.8 0M529.66 42.52a3.4 3.4 0 1 0 6.8 0a3.4 3.4 0 1 0 -6.8 0M530.11 37.46a3.4 3.4 0 1 0 6.8 0a3.4 3.4 0 1 0 -6.8 0M530.11 37.17a3.4 3.4 0 1 0 6.8 0a3.4 3.4 0 1 0 -6.8 0M530.56 38.35a3.4 3.4 0 1 0 6.8 0a3.4 3.4 0 1 0 -6.8 0M530.56 36.97a3.4 3.4 0 1 0 6.8 0a3.4 3.4 0 1 0 -6.8 0M531.01 41.91a3.4 3.4 0 1 0 6.8 0a3.4 3.4 0 1 0 -6.8 0M531.01 41.83a3.4 3.4 0 1 0 6.8 0a3.4 3.4 0 1 0 -6.8 0M531.46 36.32a3.4 3.4 0 1 0 6.8 0a3.4 3.4 0 1 0 -6.8 0M531.46 36.66a3.4 3.4 0 1 0 6.8 0a3.4 3.4 0 1 0 -6.8 0M531.91 41.7a3.4 3.4 0 1 0 6.8 0a3.4 3.4 0 1 0 -6.8 0M531.91 42.91a3.4 3.4 0 1 0 6.8 0a3.4 3.4 0 1 0 -6.8 0M532.36 41.54a3.4 3.4 0 1 0 6.8 0a3.4 3.4 0 1 0 -6.8 0M532.36 37.83a3.4 3.4 0 1 0 6.8 0a3.4 3.4 0 1 0 -6.8 0M532.81 43.09a3.4 3.4 0 1 0 6.8 0a3.4 3.4 0 1 0 -6.8 0M532.81 35.58a3.4 3.4 0 1 0 6.8 0a3.4 3.4 0 1 0 -6.8 0M533.26 35.72a3.4 3.4 0 1 0 6.8 0a3.4 3.4 0 1 0 -6.8 0M533.26 42.31a3.4 3.4 0 1 0 6.8 0a3.4 3.4 0 1 0 -6.8 0M533.71 37.54a3.4 3.4 0 1 0 6.8 0a3.4 3.4 0 1 0 -6.8 0M533.71 35.61a3.4 3.4 0 1 0 6.8 0a3.4 3.4 0 1 0 -6.8 0M534.16 40.7a3.4 3.4 0 1 0 6.8 0a3.4 3.4 0 1 0 -6.8 0M534.16 43.22a3.4 3.4 0 1 0 6.8 0a3.4 3.4 0 1 0 -6.8 0M534.61 40.22a3.4 3.4 0 1 0 6.8 0a3.4 3.4 0 1 0 -6.8 0M534.61 37a3.4 3.4 0 1 0 6.8 0a3.4 3.4 0 1 0 -6.8 0M535.06 35.64a3.4 3.4 0 1 0 6.8 0a3.4 3.4 0 1 0 -6.8 0M535.06 35.55a3.4 3.4 0 1 0 6.8 0a3.4 3.4 0 1 0 -6.8 0M535.51 42.94a3.4 3.4 0 1 0 6.8 0a3.4 3.4 0 1 0 -6.8 0M535.51 38.62a3.4 3.4 0 1 0 6.8 0a3.4 3.4 0 1 0 -6.8 0M535.96 43.12a3.4 3.4 0 1 0 6.8 0a3.4 3.4 0 1 0 -6.8 0M535.96 35.38a3.4 3.4 0 1 0 6.8 0a3.4 3.4 0 1 0 -6.8 0M536.41 36.19a3.4 3.4 0 1 0 6.8 0a3.4 3.4 0 1 0 -6.8 0M536.41 35.32a3.4 3.4 0 1 0 6.8 0a3.4 3.4 0 1 0 -6.8 0M536.86 37.2a3.4 3.4 0 1 0 6.8 0a3.4 3.4 0 1 0 -6.8 0M536.86 35.3a3.4 3.4 0 1 0 6.8 0a3.4 3.4 0 1 0 -6.8 0M537.31 36.17a3.4 3.4 0 1 0 6.8 0a3.4 3.4 0 1 0 -6.8 0M537.31 37.26a3.4 3.4 0 1 0 6.8 0a3.4 3.4 0 1 0 -6.8 0M537.76 36.44a3.4 3.4 0 1 0 6.8 0a3.4 3.4 0 1 0 -6.8 0M537.76 35.16a3.4 3.4 0 1 0 6.8 0a3.4 3.4 0 1 0 -6.8 0M538.21 35.06a3.4 3.4 0 1 0 6.8 0a3.4 3.4 0 1 0 -6.8 0M538.21 43.39a3.4 3.4 0 1 0 6.8 0a3.4 3.4 0 1 0 -6.8 0M538.66 35.64a3.4 3.4 0 1 0 6.8 0a3.4 3.4 0 1 0 -6.8 0M538.66 39.89a3.4 3.4 0 1 0 6.8 0a3.4 3.4 0 1 0 -6.8 0M539.11 37.08a3.4 3.4 0 1 0 6.8 0a3.4 3.4 0 1 0 -6.8 0M539.11 40.43a3.4 3.4 0 1 0 6.8 0a3.4 3.4 0 1 0 -6.8 0M539.56 35.1a3.4 3.4 0 1 0 6.8 0a3.4 3.4 0 1 0 -6.8 0M539.56 36.33a3.4 3.4 0 1 0 6.8 0a3.4 3.4 0 1 0 -6.8 0M540.01 35.15a3.4 3.4 0 1 0 6.8 0a3.4 3.4 0 1 0 -6.8 0M540.01 40.61a3.4 3.4 0 1 0 6.8 0a3.4 3.4 0 1 0 -6.8 0M540.46 43.3a3.4 3.4 0 1 0 6.8 0a3.4 3.4 0 1 0 -6.8 0M540.46 41.3a3.4 3.4 0 1 0 6.8 0a3.4 3.4 0 1 0 -6.8 0M540.91 43.02a3.4 3.4 0 1 0 6.8 0a3.4 3.4 0 1 0 -6.8 0M540.91 35.59a3.4 3.4 0 1 0 6.8 0a3.4 3.4 0 1 0 -6.8 0M541.36 34.6a3.4 3.4 0 1 0 6.8 0a3.4 3.4 0 1 0 -6.8 0M541.36 40.57a3.4 3.4 0 1 0 6.8 0a3.4 3.4 0 1 0 -6.8 0M541.81 38.19a3.4 3.4 0 1 0 6.8 0a3.4 3.4 0 1 0 -6.8 0M541.81 41.02a3.4 3.4 0 1 0 6.8 0a3.4 3.4 0 1 0 -6.8 0M542.26 36.63a3.4 3.4 0 1 0 6.8 0a3.4 3.4 0 1 0 -6.8 0M542.26 41.57a3.4 3.4 0 1 0 6.8 0a3.4 3.4 0 1 0 -6.8 0M542.71 42.33a3.4 3.4 0 1 0 6.8 0a3.4 3.4 0 1 0 -6.8 0M542.71 43.34a3.4 3.4 0 1 0 6.8 0a3.4 3.4 0 1 0 -6.8 0M543.16 36.05a3.4 3.4 0 1 0 6.8 0a3.4 3.4 0 1 0 -6.8 0M543.16 37.41a3.4 3.4 0 1 0 6.8 0a3.4 3.4 0 1 0 -6.8 0M543.61 42.92a3.4 3.4 0 1 0 6.8 0a3.4 3.4 0 1 0 -6.8 0M543.61 35.5a3.4 3.4 0 1 0 6.8 0a3.4 3.4 0 1 0 -6.8 0M544.06 34.9a3.4 3.4 0 1 0 6.8 0a3.4 3.4 0 1 0 -6.8 0M544.06 36.04a3.4 3.4 0 1 0 6.8 0a3.4 3.4 0 1 0 -6.8 0M544.51 34.75a3.4 3.4 0 1 0 6.8 0a3.4 3.4 0 1 0 -6.8 0M544.51 42.63a3.4 3.4 0 1 0 6.8 0a3.4 3.4 0 1 0 -6.8 0M544.96 42.91a3.4 3.4 0 1 0 6.8 0a3.4 3.4 0 1 0 -6.8 0M544.96 36.02a3.4 3.4 0 1 0 6.8 0a3.4 3.4 0 1 0 -6.8 0M545.41 34.91a3.4 3.4 0 1 0 6.8 0a3.4 3.4 0 1 0 -6.8 0M545.41 34.68a3.4 3.4 0 1 0 6.8 0a3.4 3.4 0 1 0 -6.8 0M545.86 35.53a3.4 3.4 0 1 0 6.8 0a3.4 3.4 0 1 0 -6.8 0M545.86 34.67a3.4 3.4 0 1 0 6.8 0a3.4 3.4 0 1 0 -6.8 0M546.31 37.05a3.4 3.4 0 1 0 6.8 0a3.4 3.4 0 1 0 -6.8 0M546.31 41.08a3.4 3.4 0 1 0 6.8 0a3.4 3.4 0 1 0 -6.8 0M546.76 35.49a3.4 3.4 0 1 0 6.8 0a3.4 3.4 0 1 0 -6.8 0M546.76 34.52a3.4 3.4 0 1 0 6.8 0a3.4 3.4 0 1 0 -6.8 0M547.21 42.2a3.4 3.4 0 1 0 6.8 0a3.4 3.4 0 1 0 -6.8 0M547.21 34.43a3.4 3.4 0 1 0 6.8 0a3.4 3.4 0 1 0 -6.8 0M547.66 35.18a3.4 3.4 0 1 0 6.8 0a3.4 3.4 0 1 0 -6.8 0M547.66 35.72a3.4 3.4 0 1 0 6.8 0a3.4 3.4 0 1 0 -6.8 0M548.11 36.4a3.4 3.4 0 1 0 6.8 0a3.4 3.4 0 1 0 -6.8 0M548.11 34.63a3.4 3.4 0 1 0 6.8 0a3.4 3.4 0 1 0 -6.8 0M548.56 36.88a3.4 3.4 0 1 0 6.8 0a3.4 3.4 0 1 0 -6.8 0M548.56 35.89a3.4 3.4 0 1 0 6.8 0a3.4 3.4 0 1 0 -6.8 0M549.01 42.56a3.4 3.4 0 1 0 6.8 0a3.4 3.4 0 1 0 -6.8 0M549.01 40.8a3.4 3.4 0 1 0 6.8 0a3.4 3.4 0 1 0 -6.8 0M549.46 43.37a3.4 3.4 0 1 0 6.8 0a3.4 3.4 0 1 0 -6.8 0M549.46 41.85a3.4 3.4 0 1 0 6.8 0a3.4 3.4 0 1 0 -6.8 0M549.91 42.62a3.4 3.4 0 1 0 6.8 0a3.4 3.4 0 1 0 -6.8 0M549.91 41.05a3.4 3.4 0 1 0 6.8 0a3.4 3.4 0 1 0 -6.8 0M550.36 37.11a3.4 3.4 0 1 0 6.8 0a3.4 3.4 0 1 0 -6.8 0M550.36 42.96a3.4 3.4 0 1 0 6.8 0a3.4 3.4 0 1 0 -6.8 0M550.81 41.87a3.4 3.4 0 1 0 6.8 0a3.4 3.4 0 1 0 -6.8 0M550.81 43.68a3.4 3.4 0 1 0 6.8 0a3.4 3.4 0 1 0 -6.8 0M551.26 42.42a3.4 3.4 0 1 0 6.8 0a3.4 3.4 0 1 0 -6.8 0M551.26 42.23a3.4 3.4 0 1 0 6.8 0a3.4 3.4 0 1 0 -6.8 0M551.71 35.44a3.4 3.4 0 1 0 6.8 0a3.4 3.4 0 1 0 -6.8 0M551.71 42.95a3.4 3.4 0 1 0 6.8 0a3.4 3.4 0 1 0 -6.8 0M552.16 36.35a3.4 3.4 0 1 0 6.8 0a3.4 3.4 0 1 0 -6.8 0M552.16 34.61a3.4 3.4 0 1 0 6.8 0a3.4 3.4 0 1 0 -6.8 0M552.61 34.27a3.4 3.4 0 1 0 6.8 0a3.4 3.4 0 1 0 -6.8 0M552.61 34.8a3.4 3.4 0 1 0 6.8 0a3.4 3.4 0 1 0 -6.8 0M553.06 35.36a3.4 3.4 0 1 0 6.8 0a3.4 3.4 0 1 0 -6.8 0M553.06 42.03a3.4 3.4 0 1 0 6.8 0a3.4 3.4 0 1 0 -6.8 0M553.51 35.5a3.4 3.4 0 1 0 6.8 0a3.4 3.4 0 1 0 -6.8 0M553.51 34.22a3.4 3.4 0 1 0 6.8 0a3.4 3.4 0 1 0 -6.8 0M553.96 42.65a3.4 3.4 0 1 0 6.8 0a3.4 3.4 0 1 0 -6.8 0M553.96 40.79a3.4 3.4 0 1 0 6.8 0a3.4 3.4 0 1 0 -6.8 0M554.41 34.01a3.4 3.4 0 1 0 6.8 0a3.4 3.4 0 1 0 -6.8 0M554.41 34.12a3.4 3.4 0 1 0 6.8 0a3.4 3.4 0 1 0 -6.8 0M554.86 34.51a3.4 3.4 0 1 0 6.8 0a3.4 3.4 0 1 0 -6.8 0M554.86 36.03a3.4 3.4 0 1 0 6.8 0a3.4 3.4 0 1 0 -6.8 0M555.31 43.21a3.4 3.4 0 1 0 6.8 0a3.4 3.4 0 1 0 -6.8 0M555.31 43.66a3.4 3.4 0 1 0 6.8 0a3.4 3.4 0 1 0 -6.8 0M555.76 41.43a3.4 3.4 0 1 0 6.8 0a3.4 3.4 0 1 0 -6.8 0M555.76 35.06a3.4 3.4 0 1 0 6.8 0a3.4 3.4 0 1 0 -6.8 0M556.21 36.76a3.4 3.4 0 1 0 6.8 0a3.4 3.4 0 1 0 -6.8 0M556.21 36.04a3.4 3.4 0 1 0 6.8 0a3.4 3.4 0 1 0 -6.8 0M556.66 35.74a3.4 3.4 0 1 0 6.8 0a3.4 3.4 0 1 0 -6.8 0M556.66 33.85a3.4 3.4 0 1 0 6.8 0a3.4 3.4 0 1 0 -6.8 0M557.11 41.11a3.4 3.4 0 1 0 6.8 0a3.4 3.4 0 1 0 -6.8 0M557.11 43.02a3.4 3.4 0 1 0 6.8 0a3.4 3.4 0 1 0 -6.8 0M557.56 42.38a3.4 3.4 0 1 0 6.8 0a3.4 3.4 0 1 0 -6.8 0M557.56 34.22a3.4 3.4 0 1 0 6.8 0a3.4 3.4 0 1 0 -6.8 0M558.01 40.26a3.4 3.4 0 1 0 6.8 0a3.4 3.4 0 1 0 -6.8 0M558.01 34.62a3.4 3.4 0 1 0 6.8 0a3.4 3.4 0 1 0 -6.8 0M558.46 42.25a3.4 3.4 0 1 0 6.8 0a3.4 3.4 0 1 0 -6.8 0M558.46 36.95a3.4 3.4 0 1 0 6.8 0a3.4 3.4 0 1 0 -6.8 0M558.91 43.61a3.4 3.4 0 1 0 6.8 0a3.4 3.4 0 1 0 -6.8 0M558.91 42.82a3.4 3.4 0 1 0 6.8 0a3.4 3.4 0 1 0 -6.8 0M559.36 34.27a3.4 3.4 0 1 0 6.8 0a3.4 3.4 0 1 0 -6.8 0M559.36 35.55a3.4 3.4 0 1 0 6.8 0a3.4 3.4 0 1 0 -6.8 0M559.81 43.49a3.4 3.4 0 1 0 6.8 0a3.4 3.4 0 1 0 -6.8 0M559.81 37.16a3.4 3.4 0 1 0 6.8 0a3.4 3.4 0 1 0 -6.8 0M560.26 36.72a3.4 3.4 0 1 0 6.8 0a3.4 3.4 0 1 0 -6.8 0M560.26 36.82a3.4 3.4 0 1 0 6.8 0a3.4 3.4 0 1 0 -6.8 0M560.71 42.64a3.4 3.4 0 1 0 6.8 0a3.4 3.4 0 1 0 -6.8 0M560.71 43.59a3.4 3.4 0 1 0 6.8 0a3.4 3.4 0 1 0 -6.8 0M561.16 40.26a3.4 3.4 0 1 0 6.8 0a3.4 3.4 0 1 0 -6.8 0M561.16 43.76a3.4 3.4 0 1 0 6.8 0a3.4 3.4 0 1 0 -6.8 0M561.61 41.2a3.4 3.4 0 1 0 6.8 0a3.4 3.4 0 1 0 -6.8 0M561.61 34.11a3.4 3.4 0 1 0 6.8 0a3.4 3.4 0 1 0 -6.8 0M562.06 42.92a3.4 3.4 0 1 0 6.8 0a3.4 3.4 0 1 0 -6.8 0M562.06 36.5a3.4 3.4 0 1 0 6.8 0a3.4 3.4 0 1 0 -6.8 0M562.51 33.88a3.4 3.4 0 1 0 6.8 0a3.4 3.4 0 1 0 -6.8 0M562.51 43.78a3.4 3.4 0 1 0 6.8 0a3.4 3.4 0 1 0 -6.8 0M562.96 33.81a3.4 3.4 0 1 0 6.8 0a3.4 3.4 0 1 0 -6.8 0M562.96 40.97a3.4 3.4 0 1 0 6.8 0a3.4 3.4 0 1 0 -6.8 0M563.41 37.63a3.4 3.4 0 1 0 6.8 0a3.4 3.4 0 1 0 -6.8 0M563.41 43.28a3.4 3.4 0 1 0 6.8 0a3.4 3.4 0 1 0 -6.8 0M563.86 36.23a3.4 3.4 0 1 0 6.8 0a3.4 3.4 0 1 0 -6.8 0M563.86 34.83a3.4 3.4 0 1 0 6.8 0a3.4 3.4 0 1 0 -6.8 0M564.31 35.25a3.4 3.4 0 1 0 6.8 0a3.4 3.4 0 1 0 -6.8 0M564.31 34.76a3.4 3.4 0 1 0 6.8 0a3.4 3.4 0 1 0 -6.8 0M564.76 40.76a3.4 3.4 0 1 0 6.8 0a3.4 3.4 0 1 0 -6.8 0M564.76 35.9a3.4 3.4 0 1 0 6.8 0a3.4 3.4 0 1 0 -6.8 0M565.21 42.48a3.4 3.4 0 1 0 6.8 0a3.4 3.4 0 1 0 -6.8 0M565.21 35.04a3.4 3.4 0 1 0 6.8 0a3.4 3.4 0 1 0 -6.8 0M565.66 35.88a3.4 3.4 0 1 0 6.8 0a3.4 3.4 0 1 0 -6.8 0M565.66 35.1a3.4 3.4 0 1 0 6.8 0a3.4 3.4 0 1 0 -6.8 0M566.11 43.73a3.4 3.4 0 1 0 6.8 0a3.4 3.4 0 1 0 -6.8 0M566.11 43.01a3.4 3.4 0 1 0 6.8 0a3.4 3.4 0 1 0 -6.8 0M566.56 43.06a3.4 3.4 0 1 0 6.8 0a3.4 3.4 0 1 0 -6.8 0M566.56 41.41a3.4 3.4 0 1 0 6.8 0a3.4 3.4 0 1 0 -6.8 0M567.01 36.4a3.4 3.4 0 1 0 6.8 0a3.4 3.4 0 1 0 -6.8 0M567.01 34.52a3.4 3.4 0 1 0 6.8 0a3.4 3.4 0 1 0 -6.8 0M567.46 42.94a3.4 3.4 0 1 0 6.8 0a3.4 3.4 0 1 0 -6.8 0M567.46 37.96a3.4 3.4 0 1 0 6.8 0a3.4 3.4 0 1 0 -6.8 0M567.91 34.02a3.4 3.4 0 1 0 6.8 0a3.4 3.4 0 1 0 -6.8 0M567.91 34.7a3.4 3.4 0 1 0 6.8 0a3.4 3.4 0 1 0 -6.8 0M568.36 34.34a3.4 3.4 0 1 0 6.8 0a3.4 3.4 0 1 0 -6.8 0M568.36 42.22a3.4 3.4 0 1 0 6.8 0a3.4 3.4 0 1 0 -6.8 0M568.81 43.29a3.4 3.4 0 1 0 6.8 0a3.4 3.4 0 1 0 -6.8 0M568.81 34.9a3.4 3.4 0 1 0 6.8 0a3.4 3.4 0 1 0 -6.8 0M569.26 42.72a3.4 3.4 0 1 0 6.8 0a3.4 3.4 0 1 0 -6.8 0M569.26 35.75a3.4 3.4 0 1 0 6.8 0a3.4 3.4 0 1 0 -6.8 0M569.71 41.95a3.4 3.4 0 1 0 6.8 0a3.4 3.4 0 1 0 -6.8 0M569.71 43.08a3.4 3.4 0 1 0 6.8 0a3.4 3.4 0 1 0 -6.8 0M570.16 41.44a3.4 3.4 0 1 0 6.8 0a3.4 3.4 0 1 0 -6.8 0M570.16 42.73a3.4 3.4 0 1 0 6.8 0a3.4 3.4 0 1 0 -6.8 0M570.61 36.24a3.4 3.4 0 1 0 6.8 0a3.4 3.4 0 1 0 -6.8 0M570.61 34a3.4 3.4 0 1 0 6.8 0a3.4 3.4 0 1 0 -6.8 0M571.06 39.74a3.4 3.4 0 1 0 6.8 0a3.4 3.4 0 1 0 -6.8 0M571.06 41.06a3.4 3.4 0 1 0 6.8 0a3.4 3.4 0 1 0 -6.8 0M571.51 34.91a3.4 3.4 0 1 0 6.8 0a3.4 3.4 0 1 0 -6.8 0M571.51 36.38a3.4 3.4 0 1 0 6.8 0a3.4 3.4 0 1 0 -6.8 0M571.96 35.77a3.4 3.4 0 1 0 6.8 0a3.4 3.4 0 1 0 -6.8 0M571.96 34.12a3.4 3.4 0 1 0 6.8 0a3.4 3.4 0 1 0 -6.8 0M572.41 35.73a3.4 3.4 0 1 0 6.8 0a3.4 3.4 0 1 0 -6.8 0M572.41 36.33a3.4 3.4 0 1 0 6.8 0a3.4 3.4 0 1 0 -6.8 0M572.86 37.62a3.4 3.4 0 1 0 6.8 0a3.4 3.4 0 1 0 -6.8 0M572.86 42.09a3.4 3.4 0 1 0 6.8 0a3.4 3.4 0 1 0 -6.8 0M573.31 36.49a3.4 3.4 0 1 0 6.8 0a3.4 3.4 0 1 0 -6.8 0M573.31 43.62a3.4 3.4 0 1 0 6.8 0a3.4 3.4 0 1 0 -6.8 0M573.7 42.79a3.4 3.4 0 1 0 6.8 0a3.4 3.4 0 1 0 -6.8 0M573.7 43.35a3.4 3.4 0 1 0 6.8 0a3.4 3.4 0 1 0 -6.8 0" fill="#e5211d"/>
<polyline points="367.9,161.3 380.62,160.7 388.06,161.8" fill="none" stroke="#000" stroke-width="1.5"/>
<path d="M364.6 161.3a3.3 3.3 0 1 0 6.6 0a3.3 3.3 0 1 0 -6.6 0M377.32 160.7a3.3 3.3 0 1 0 6.6 0a3.3 3.3 0 1 0 -6.6 0M384.76 161.8a3.3 3.3 0 1 0 6.6 0a3.3 3.3 0 1 0 -6.6 0M390.04 161.08a3.3 3.3 0 1 0 6.6 0a3.3 3.3 0 1 0 -6.6 0M394.13 160.77a3.3 3.3 0 1 0 6.6 0a3.3 3.3 0 1 0 -6.6 0M397.48 162.42a3.3 3.3 0 1 0 6.6 0a3.3 3.3 0 1 0 -6.6 0M400.31 160.41a3.3 3.3 0 1 0 6.6 0a3.3 3.3 0 1 0 -6.6 0M402.76 162.16a3.3 3.3 0 1 0 6.6 0a3.3 3.3 0 1 0 -6.6 0M404.92 160.81a3.3 3.3 0 1 0 6.6 0a3.3 3.3 0 1 0 -6.6 0M406.85 160.12a3.3 3.3 0 1 0 6.6 0a3.3 3.3 0 1 0 -6.6 0M408.6 162.1a3.3 3.3 0 1 0 6.6 0a3.3 3.3 0 1 0 -6.6 0M410.2 160.74a3.3 3.3 0 1 0 6.6 0a3.3 3.3 0 1 0 -6.6 0M411.66 161.68a3.3 3.3 0 1 0 6.6 0a3.3 3.3 0 1 0 -6.6 0M413.02 160.84a3.3 3.3 0 1 0 6.6 0a3.3 3.3 0 1 0 -6.6 0M414.29 160.65a3.3 3.3 0 1 0 6.6 0a3.3 3.3 0 1 0 -6.6 0M415.47 161.17a3.3 3.3 0 1 0 6.6 0a3.3 3.3 0 1 0 -6.6 0M416.59 163.02a3.3 3.3 0 1 0 6.6 0a3.3 3.3 0 1 0 -6.6 0M417.64 160.13a3.3 3.3 0 1 0 6.6 0a3.3 3.3 0 1 0 -6.6 0M418.63 160.17a3.3 3.3 0 1 0 6.6 0a3.3 3.3 0 1 0 -6.6 0M419.57 162.45a3.3 3.3 0 1 0 6.6 0a3.3 3.3 0 1 0 -6.6 0M420.46 163.21a3.3 3.3 0 1 0 6.6 0a3.3 3.3 0 1 0 -6.6 0M421.32 162.15a3.3 3.3 0 1 0 6.6 0a3.3 3.3 0 1 0 -6.6 0M422.13 160.19a3.3 3.3 0 1 0 6.6 0a3.3 3.3 0 1 0 -6.6 0M422.91 163.11a3.3 3.3 0 1 0 6.6 0a3.3 3.3 0 1 0 -6.6 0M423.66 159.05a3.3 3.3 0 1 0 6.6 0a3.3 3.3 0 1 0 -6.6 0M424.38 162.69a3.3 3.3 0 1 0 6.6 0a3.3 3.3 0 1 0 -6.6 0M425.08 159.46a3.3 3.3 0 1 0 6.6 0a3.3 3.3 0 1 0 -6.6 0M425.74 159.01a3.3 3.3 0 1 0 6.6 0a3.3 3.3 0 1 0 -6.6 0M426.39 158.87a3.3 3.3 0 1 0 6.6 0a3.3 3.3 0 1 0 -6.6 0M427.01 159.28a3.3 3.3 0 1 0 6.6 0a3.3 3.3 0 1 0 -6.6 0M427.61 162.21a3.3 3.3 0 1 0 6.6 0a3.3 3.3 0 1 0 -6.6 0M428.06 158.81a3.3 3.3 0 1 0 6.6 0a3.3 3.3 0 1 0 -6.6 0M428.06 161.39a3.3 3.3 0 1 0 6.6 0a3.3 3.3 0 1 0 -6.6 0M428.51 161.58a3.3 3.3 0 1 0 6.6 0a3.3 3.3 0 1 0 -6.6 0M428.51 159.32a3.3 3.3 0 1 0 6.6 0a3.3 3.3 0 1 0 -6.6 0M428.96 161.09a3.3 3.3 0 1 0 6.6 0a3.3 3.3 0 1 0 -6.6 0M428.96 158.45a3.3 3.3 0 1 0 6.6 0a3.3 3.3 0 1 0 -6.6 0M429.41 158.39a3.3 3.3 0 1 0 6.6 0a3.3 3.3 0 1 0 -6.6 0M429.41 158.71a3.3 3.3 0 1 0 6.6 0a3.3 3.3 0 1 0 -6.6 0M429.86 161.57a3.3 3.3 0 1 0 6.6 0a3.3 3.3 0 1 0 -6.6 0M429.86 159.41a3.3 3.3 0 1 0 6.6 0a3.3 3.3 0 1 0 -6.6 0M430.31 158.9a3.3 3.3 0 1 0 6.6 0a3.3 3.3 0 1 0 -6.6 0M430.31 161.14a3.3 3.3 0 1 0 6.6 0a3.3 3.3 0 1 0 -6.6 0M430.76 159.46a3.3 3.3 0 1 0 6.6 0a3.3 3.3 0 1 0 -6.6 0M430.76 158.8a3.3 3.3 0 1 0 6.6 0a3.3 3.3 0 1 0 -6.6 0M431.21 161.72a3.3 3.3 0 1 0 6.6 0a3.3 3.3 0 1 0 -6.6 0M431.21 161.46a3.3 3.3 0 1 0 6.6 0a3.3 3.3 0 1 0 -6.6 0M431.66 158.54a3.3 3.3 0 1 0 6.6 0a3.3 3.3 0 1 0 -6.6 0M431.66 160.92a3.3 3.3 0 1 0 6.6 0a3.3 3.3 0 1 0 -6.6 0M432.11 160.54a3.3 3.3 0 1 0 6.6 0a3.3 3.3 0 1 0 -6.6 0M432.11 161.8a3.3 3.3 0 1 0 6.6 0a3.3 3.3 0 1 0 -6.6 0M432.56 161.39a3.3 3.3 0 1 0 6.6 0a3.3 3.3 0 1 0 -6.6 0M432.56 158.56a3.3 3.3 0 1 0 6.6 0a3.3 3.3 0 1 0 -6.6 0M433.01 161.91a3.3 3.3 0 1 0 6.6 0a3.3 3.3 0 1 0 -6.6 0M433.01 158.09a3.3 3.3 0 1 0 6.6 0a3.3 3.3 0 1 0 -6.6 0M433.46 158.94a3.3 3.3 0 1 0 6.6 0a3.3 3.3 0 1 0 -6.6 0M433.46 161.36a3.3 3.3 0 1 0 6.6 0a3.3 3.3 0 1 0 -6.6 0M433.91 158.06a3.3 3.3 0 1 0 6.6 0a3.3 3.3 0 1 0 -6.6 0M433.91 159.43a3.3 3.3 0 1 0 6.6 0a3.3 3.3 0 1 0 -6.6 0M434.36 157.78a3.3 3.3 0 1 0 6.6 0a3.3 3.3 0 1 0 -6.6 0M434.36 160.99a3.3 3.3 0 1 0 6.6 0a3.3 3.3 0 1 0 -6.6 0M434.81 161.22a3.3 3.3 0 1 0 6.6 0a3.3 3.3 0 1 0 -6.6 0M434.81 160.55a3.3 3.3 0 1 0 6.6 0a3.3 3.3 0 1 0 -6.6 0M435.26 161.43a3.3 3.3 0 1 0 6.6 0a3.3 3.3 0 1 0 -6.6 0M435.26 158.34a3.3 3.3 0 1 0 6.6 0a3.3 3.3 0 1 0 -6.6 0M435.71 160.92a3.3 3.3 0 1 0 6.6 0a3.3 3.3 0 1 0 -6.6 0M435.71 160.55a3.3 3.3 0 1 0 6.6 0a3.3 3.3 0 1 0 -6.6 0M436.16 160.43a3.3 3.3 0 1 0 6.6 0a3.3 3.3 0 1 0 -6.6 0M436.16 158.86a3.3 3.3 0 1 0 6.6 0a3.3 3.3 0 1 0 -6.6 0M436.61 161.19a3.3 3.3 0 1 0 6.6 0a3.3 3.3 0 1 0 -6.6 0M436.61 161.41a3.3 3.3 0 1 0 6.6 0a3.3 3.3 0 1 0 -6.6 0M437.06 158.9a3.3 3.3 0 1 0 6.6 0a3.3 3.3 0 1 0 -6.6 0M437.06 160.66a3.3 3.3 0 1 0 6.6 0a3.3 3.3 0 1 0 -6.6 0M437.51 157.48a3.3 3.3 0 1 0 6.6 0a3.3 3.3 0 1 0 -6.6 0M437.51 160.72a3.3 3.3 0 1 0 6.6 0a3.3 3.3 0 1 0 -6.6 0M437.96 160.49a3.3 3.3 0 1 0 6.6 0a3.3 3.3 0 1 0 -6.6 0M437.96 161.34a3.3 3.3 0 1 0 6.6 0a3.3 3.3 0 1 0 -6.6 0M438.41 160.93a3.3 3.3 0 1 0 6.6 0a3.3 3.3 0 1 0 -6.6 0M438.41 157.9a3.3 3.3 0 1 0 6.6 0a3.3 3.3 0 1 0 -6.6 0M438.86 158.19a3.3 3.3 0 1 0 6.6 0a3.3 3.3 0 1 0 -6.6 0M438.86 160.46a3.3 3.3 0 1 0 6.6 0a3.3 3.3 0 1 0 -6.6 0M439.31 157.2a3.3 3.3 0 1 0 6.6 0a3.3 3.3 0 1 0 -6.6 0M439.31 158.54a3.3 3.3 0 1 0 6.6 0a3.3 3.3 0 1 0 -6.6 0M439.76 157.45a3.3 3.3 0 1 0 6.6 0a3.3 3.3 0 1 0 -6.6 0M439.76 157.34a3.3 3.3 0 1 0 6.6 0a3.3 3.3 0 1 0 -6.6 0M440.21 157.17a3.3 3.3 0 1 0 6.6 0a3.3 3.3 0 1 0 -6.6 0M440.21 160.59a3.3 3.3 0 1 0 6.6 0a3.3 3.3 0 1 0 -6.6 0M440.66 157.27a3.3 3.3 0 1 0 6.6 0a3.3 3.3 0 1 0 -6.6 0M440.66 157.55a3.3 3.3 0 1 0 6.6 0a3.3 3.3 0 1 0 -6.6 0M441.11 157.96a3.3 3.3 0 1 0 6.6 0a3.3 3.3 0 1 0 -6.6 0M441.11 160.72a3.3 3.3 0 1 0 6.6 0a3.3 3.3 0 1 0 -6.6 0M441.56 157.07a3.3 3.3 0 1 0 6.6 0a3.3 3.3 0 1 0 -6.6 0M441.56 158.2a3.3 3.3 0 1 0 6.6 0a3.3 3.3 0 1 0 -6.6 0M442.01 159.64a3.3 3.3 0 1 0 6.6 0a3.3 3.3 0 1 0 -6.6 0M442.01 160.73a3.3 3.3 0 1 0 6.6 0a3.3 3.3 0 1 0 -6.6 0M442.46 160.66a3.3 3.3 0 1 0 6.6 0a3.3 3.3 0 1 0 -6.6 0M442.46 160.76a3.3 3.3 0 1 0 6.6 0a3.3 3.3 0 1 0 -6.6 0M442.91 157.55a3.3 3.3 0 1 0 6.6 0a3.3 3.3 0 1 0 -6.6 0M442.91 158.06a3.3 3.3 0 1 0 6.6 0a3.3 3.3 0 1 0 -6.6 0M443.36 157.83a3.3 3.3 0 1 0 6.6 0a3.3 3.3 0 1 0 -6.6 0M443.36 160.96a3.3 3.3 0 1 0 6.6 0a3.3 3.3 0 1 0 -6.6 0M443.81 161.19a3.3 3.3 0 1 0 6.6 0a3.3 3.3 0 1 0 -6.6 0M443.81 157.23a3.3 3.3 0 1 0 6.6 0a3.3 3.3 0 1 0 -6.6 0M444.26 157.3a3.3 3.3 0 1 0 6.6 0a3.3 3.3 0 1 0 -6.6 0M444.26 157.45a3.3 3.3 0 1 0 6.6 0a3.3 3.3 0 1 0 -6.6 0M444.71 157.46a3.3 3.3 0 1 0 6.6 0a3.3 3.3 0 1 0 -6.6 0M444.71 158.7a3.3 3.3 0 1 0 6.6 0a3.3 3.3 0 1 0 -6.6 0M445.16 160.28a3.3 3.3 0 1 0 6.6 0a3.3 3.3 0 1 0 -6.6 0M445.16 157.56a3.3 3.3 0 1 0 6.6 0a3.3 3.3 0 1 0 -6.6 0M445.61 156.91a3.3 3.3 0 1 0 6.6 0a3.3 3.3 0 1 0 -6.6 0M445.61 158.21a3.3 3.3 0 1 0 6.6 0a3.3 3.3 0 1 0 -6.6 0M446.06 157.98a3.3 3.3 0 1 0 6.6 0a3.3 3.3 0 1 0 -6.6 0M446.06 160.26a3.3 3.3 0 1 0 6.6 0a3.3 3.3 0 1 0 -6.6 0M446.51 161.66a3.3 3.3 0 1 0 6.6 0a3.3 3.3 0 1 0 -6.6 0M446.51 160.91a3.3 3.3 0 1 0 6.6 0a3.3 3.3 0 1 0 -6.6 0M446.96 159.89a3.3 3.3 0 1 0 6.6 0a3.3 3.3 0 1 0 -6.6 0M446.96 160.66a3.3 3.3 0 1 0 6.6 0a3.3 3.3 0 1 0 -6.6 0M447.41 160.99a3.3 3.3 0 1 0 6.6 0a3.3 3.3 0 1 0 -6.6 0M447.41 157.03a3.3 3.3 0 1 0 6.6 0a3.3 3.3 0 1 0 -6.6 0M447.86 161.76a3.3 3.3 0 1 0 6.6 0a3.3 3.3 0 1 0 -6.6 0M447.86 161.42a3.3 3.3 0 1 0 6.6 0a3.3 3.3 0 1 0 -6.6 0M448.31 161.77a3.3 3.3 0 1 0 6.6 0a3.3 3.3 0 1 0 -6.6 0M448.31 161.55a3.3 3.3 0 1 0 6.6 0a3.3 3.3 0 1 0 -6.6 0M448.76 158.22a3.3 3.3 0 1 0 6.6 0a3.3 3.3 0 1 0 -6.6 0M448.76 158.25a3.3 3.3 0 1 0 6.6 0a3.3 3.3 0 1 0 -6.6 0M449.21 157.17a3.3 3.3 0 1 0 6.6 0a3.3 3.3 0 1 0 -6.6 0M449.21 161.06a3.3 3.3 0 1 0 6.6 0a3.3 3.3 0 1 0 -6.6 0M449.66 157.06a3.3 3.3 0 1 0 6.6 0a3.3 3.3 0 1 0 -6.6 0M449.66 157.07a3.3 3.3 0 1 0 6.6 0a3.3 3.3 0 1 0 -6.6 0M450.11 157.5a3.3 3.3 0 1 0 6.6 0a3.3 3.3 0 1 0 -6.6 0M450.11 157.35a3.3 3.3 0 1 0 6.6 0a3.3 3.3 0 1 0 -6.6 0M450.56 158.02a3.3 3.3 0 1 0 6.6 0a3.3 3.3 0 1 0 -6.6 0M450.56 157.04a3.3 3.3 0 1 0 6.6 0a3.3 3.3 0 1 0 -6.6 0M451.01 156.9a3.3 3.3 0 1 0 6.6 0a3.3 3.3 0 1 0 -6.6 0M451.01 157.32a3.3 3.3 0 1 0 6.6 0a3.3 3.3 0 1 0 -6.6 0M451.46 157.18a3.3 3.3 0 1 0 6.6 0a3.3 3.3 0 1 0 -6.6 0M451.46 158.17a3.3 3.3 0 1 0 6.6 0a3.3 3.3 0 1 0 -6.6 0M451.91 156.98a3.3 3.3 0 1 0 6.6 0a3.3 3.3 0 1 0 -6.6 0M451.91 162.38a3.3 3.3 0 1 0 6.6 0a3.3 3.3 0 1 0 -6.6 0M452.36 161.38a3.3 3.3 0 1 0 6.6 0a3.3 3.3 0 1 0 -6.6 0M452.36 157.36a3.3 3.3 0 1 0 6.6 0a3.3 3.3 0 1 0 -6.6 0M452.81 157.76a3.3 3.3 0 1 0 6.6 0a3.3 3.3 0 1 0 -6.6 0M452.81 158.18a3.3 3.3 0 1 0 6.6 0a3.3 3.3 0 1 0 -6.6 0M453.26 158.31a3.3 3.3 0 1 0 6.6 0a3.3 3.3 0 1 0 -6.6 0M453.26 157.33a3.3 3.3 0 1 0 6.6 0a3.3 3.3 0 1 0 -6.6 0M453.71 162.59a3.3 3.3 0 1 0 6.6 0a3.3 3.3 0 1 0 -6.6 0M453.71 163.02a3.3 3.3 0 1 0 6.6 0a3.3 3.3 0 1 0 -6.6 0M454.16 159.16a3.3 3.3 0 1 0 6.6 0a3.3 3.3 0 1 0 -6.6 0M454.16 159.42a3.3 3.3 0 1 0 6.6 0a3.3 3.3 0 1 0 -6.6 0M454.61 157.3a3.3 3.3 0 1 0 6.6 0a3.3 3.3 0 1 0 -6.6 0M454.61 157.35a3.3 3.3 0 1 0 6.6 0a3.3 3.3 0 1 0 -6.6 0M455.06 158.33a3.3 3.3 0 1 0 6.6 0a3.3 3.3 0 1 0 -6.6 0M455.06 157.96a3.3 3.3 0 1 0 6.6 0a3.3 3.3 0 1 0 -6.6 0M455.51 162.81a3.3 3.3 0 1 0 6.6 0a3.3 3.3 0 1 0 -6.6 0M455.51 157.59a3.3 3.3 0 1 0 6.6 0a3.3 3.3 0 1 0 -6.6 0M455.96 157.18a3.3 3.3 0 1 0 6.6 0a3.3 3.3 0 1 0 -6.6 0M455.96 163.28a3.3 3.3 0 1 0 6.6 0a3.3 3.3 0 1 0 -6.6 0M456.41 161.19a3.3 3.3 0 1 0 6.6 0a3.3 3.3 0 1 0 -6.6 0M456.41 157.6a3.3 3.3 0 1 0 6.6 0a3.3 3.3 0 1 0 -6.6 0M456.86 161.43a3.3 3.3 0 1 0 6.6 0a3.3 3.3 0 1 0 -6.6 0M456.86 157.24a3.3 3.3 0 1 0 6.6 0a3.3 3.3 0 1 0 -6.6 0M457.31 161.3a3.3 3.3 0 1 0 6.6 0a3.3 3.3 0 1 0 -6.6 0M457.31 163.59a3.3 3.3 0 1 0 6.6 0a3.3 3.3 0 1 0 -6.6 0M457.76 163.29a3.3 3.3 0 1 0 6.6 0a3.3 3.3 0 1 0 -6.6 0M457.76 162.61a3.3 3.3 0 1 0 6.6 0a3.3 3.3 0 1 0 -6.6 0M458.21 158.16a3.3 3.3 0 1 0 6.6 0a3.3 3.3 0 1 0 -6.6 0M458.21 158.7a3.3 3.3 0 1 0 6.6 0a3.3 3.3 0 1 0 -6.6 0M458.66 157.8a3.3 3.3 0 1 0 6.6 0a3.3 3.3 0 1 0 -6.6 0M458.66 163.09a3.3 3.3 0 1 0 6.6 0a3.3 3.3 0 1 0 -6.6 0M459.11 161.59a3.3 3.3 0 1 0 6.6 0a3.3 3.3 0 1 0 -6.6 0M459.11 163.19a3.3 3.3 0 1 0 6.6 0a3.3 3.3 0 1 0 -6.6 0M459.56 158.59a3.3 3.3 0 1 0 6.6 0a3.3 3.3 0 1 0 -6.6 0M459.56 158.08a3.3 3.3 0 1 0 6.6 0a3.3 3.3 0 1 0 -6.6 0M460.01 163.46a3.3 3.3 0 1 0 6.6 0a3.3 3.3 0 1 0 -6.6 0M460.01 164.07a3.3 3.3 0 1 0 6.6 0a3.3 3.3 0 1 0 -6.6 0M460.46 163.69a3.3 3.3 0 1 0 6.6 0a3.3 3.3 0 1 0 -6.6 0M460.46 163.51a3.3 3.3 0 1 0 6.6 0a3.3 3.3 0 1 0 -6.6 0M460.91 163.63a3.3 3.3 0 1 0 6.6 0a3.3 3.3 0 1 0 -6.6 0M460.91 163.29a3.3 3.3 0 1 0 6.6 0a3.3 3.3 0 1 0 -6.6 0M461.36 158.21a3.3 3.3 0 1 0 6.6 0a3.3 3.3 0 1 0 -6.6 0M461.36 161.64a3.3 3.3 0 1 0 6.6 0a3.3 3.3 0 1 0 -6.6 0M461.81 158.91a3.3 3.3 0 1 0 6.6 0a3.3 3.3 0 1 0 -6.6 0M461.81 157.51a3.3 3.3 0 1 0 6.6 0a3.3 3.3 0 1 0 -6.6 0M462.26 157.58a3.3 3.3 0 1 0 6.6 0a3.3 3.3 0 1 0 -6.6 0M462.26 158.56a3.3 3.3 0 1 0 6.6 0a3.3 3.3 0 1 0 -6.6 0M462.71 158.53a3.3 3.3 0 1 0 6.6 0a3.3 3.3 0 1 0 -6.6 0M462.71 163.27a3.3 3.3 0 1 0 6.6 0a3.3 3.3 0 1 0 -6.6 0M463.16 164.38a3.3 3.3 0 1 0 6.6 0a3.3 3.3 0 1 0 -6.6 0M463.16 159.82a3.3 3.3 0 1 0 6.6 0a3.3 3.3 0 1 0 -6.6 0M463.61 164.35a3.3 3.3 0 1 0 6.6 0a3.3 3.3 0 1 0 -6.6 0M463.61 164.52a3.3 3.3 0 1 0 6.6 0a3.3 3.3 0 1 0 -6.6 0M464.06 164.45a3.3 3.3 0 1 0 6.6 0a3.3 3.3 0 1 0 -6.6 0M464.06 159.29a3.3 3.3 0 1 0 6.6 0a3.3 3.3 0 1 0 -6.6 0M464.51 158.63a3.3 3.3 0 1 0 6.6 0a3.3 3.3 0 1 0 -6.6 0M464.51 158.66a3.3 3.3 0 1 0 6.6 0a3.3 3.3 0 1 0 -6.6 0M464.96 158.6a3.3 3.3 0 1 0 6.6 0a3.3 3.3 0 1 0 -6.6 0M464.96 158.63a3.3 3.3 0 1 0 6.6 0a3.3 3.3 0 1 0 -6.6 0M465.41 163.14a3.3 3.3 0 1 0 6.6 0a3.3 3.3 0 1 0 -6.6 0M465.41 164.38a3.3 3.3 0 1 0 6.6 0a3.3 3.3 0 1 0 -6.6 0M465.86 164.2a3.3 3.3 0 1 0 6.6 0a3.3 3.3 0 1 0 -6.6 0M465.86 160.61a3.3 3.3 0 1 0 6.6 0a3.3 3.3 0 1 0 -6.6 0M466.31 163.4a3.3 3.3 0 1 0 6.6 0a3.3 3.3 0 1 0 -6.6 0M466.31 164.09a3.3 3.3 0 1 0 6.6 0a3.3 3.3 0 1 0 -6.6 0M466.76 158.46a3.3 3.3 0 1 0 6.6 0a3.3 3.3 0 1 0 -6.6 0M466.76 163.47a3.3 3.3 0 1 0 6.6 0a3.3 3.3 0 1 0 -6.6 0M467.21 164.48a3.3 3.3 0 1 0 6.6 0a3.3 3.3 0 1 0 -6.6 0M467.21 164.01a3.3 3.3 0 1 0 6.6 0a3.3 3.3 0 1 0 -6.6 0M467.66 163.84a3.3 3.3 0 1 0 6.6 0a3.3 3.3 0 1 0 -6.6 0M467.66 160.61a3.3 3.3 0 1 0 6.6 0a3.3 3.3 0 1 0 -6.6 0M468.11 158.68a3.3 3.3 0 1 0 6.6 0a3.3 3.3 0 1 0 -6.6 0M468.11 163.97a3.3 3.3 0 1 0 6.6 0a3.3 3.3 0 1 0 -6.6 0M468.56 159.33a3.3 3.3 0 1 0 6.6 0a3.3 3.3 0 1 0 -6.6 0M468.56 163.98a3.3 3.3 0 1 0 6.6 0a3.3 3.3 0 1 0 -6.6 0M469.01 164.53a3.3 3.3 0 1 0 6.6 0a3.3 3.3 0 1 0 -6.6 0M469.01 159.69a3.3 3.3 0 1 0 6.6 0a3.3 3.3 0 1 0 -6.6 0M469.46 159.69a3.3 3.3 0 1 0 6.6 0a3.3 3.3 0 1 0 -6.6 0M469.46 164.42a3.3 3.3 0 1 0 6.6 0a3.3 3.3 0 1 0 -6.6 0M469.91 163.55a3.3 3.3 0 1 0 6.6 0a3.3 3.3 0 1 0 -6.6 0M469.91 158.51a3.3 3.3 0 1 0 6.6 0a3.3 3.3 0 1 0 -6.6 0M470.36 158.32a3.3 3.3 0 1 0 6.6 0a3.3 3.3 0 1 0 -6.6 0M470.36 158.4a3.3 3.3 0 1 0 6.6 0a3.3 3.3 0 1 0 -6.6 0M470.81 164.17a3.3 3.3 0 1 0 6.6 0a3.3 3.3 0 1 0 -6.6 0M470.81 163.82a3.3 3.3 0 1 0 6.6 0a3.3 3.3 0 1 0 -6.6 0M471.26 158.31a3.3 3.3 0 1 0 6.6 0a3.3 3.3 0 1 0 -6.6 0M471.26 163.86a3.3 3.3 0 1 0 6.6 0a3.3 3.3 0 1 0 -6.6 0M471.71 164.34a3.3 3.3 0 1 0 6.6 0a3.3 3.3 0 1 0 -6.6 0M471.71 163.06a3.3 3.3 0 1 0 6.6 0a3.3 3.3 0 1 0 -6.6 0M472.16 159.15a3.3 3.3 0 1 0 6.6 0a3.3 3.3 0 1 0 -6.6 0M472.16 162.22a3.3 3.3 0 1 0 6.6 0a3.3 3.3 0 1 0 -6.6 0M472.61 158.15a3.3 3.3 0 1 0 6.6 0a3.3 3.3 0 1 0 -6.6 0M472.61 157.77a3.3 3.3 0 1 0 6.6 0a3.3 3.3 0 1 0 -6.6 0M473.06 164.2a3.3 3.3 0 1 0 6.6 0a3.3 3.3 0 1 0 -6.6 0M473.06 162.91a3.3 3.3 0 1 0 6.6 0a3.3 3.3 0 1 0 -6.6 0M473.51 161.84a3.3 3.3 0 1 0 6.6 0a3.3 3.3 0 1 0 -6.6 0M473.51 164.05a3.3 3.3 0 1 0 6.6 0a3.3 3.3 0 1 0 -6.6 0M473.96 159.59a3.3 3.3 0 1 0 6.6 0a3.3 3.3 0 1 0 -6.6 0M473.96 163.81a3.3 3.3 0 1 0 6.6 0a3.3 3.3 0 1 0 -6.6 0M474.41 163.61a3.3 3.3 0 1 0 6.6 0a3.3 3.3 0 1 0 -6.6 0M474.41 158.3a3.3 3.3 0 1 0 6.6 0a3.3 3.3 0 1 0 -6.6 0M474.86 158.44a3.3 3.3 0 1 0 6.6 0a3.3 3.3 0 1 0 -6.6 0M474.86 158.63a3.3 3.3 0 1 0 6.6 0a3.3 3.3 0 1 0 -6.6 0M475.31 158.35a3.3 3.3 0 1 0 6.6 0a3.3 3.3 0 1 0 -6.6 0M475.31 162.31a3.3 3.3 0 1 0 6.6 0a3.3 3.3 0 1 0 -6.6 0M475.76 158.4a3.3 3.3 0 1 0 6.6 0a3.3 3.3 0 1 0 -6.6 0M475.76 159.32a3.3 3.3 0 1 0 6.6 0a3.3 3.3 0 1 0 -6.6 0M476.21 157.86a3.3 3.3 0 1 0 6.6 0a3.3 3.3 0 1 0 -6.6 0M476.21 163.76a3.3 3.3 0 1 0 6.6 0a3.3 3.3 0 1 0 -6.6 0M476.66 158.81a3.3 3.3 0 1 0 6.6 0a3.3 3.3 0 1 0 -6.6 0M476.66 159.62a3.3 3.3 0 1 0 6.6 0a3.3 3.3 0 1 0 -6.6 0M477.11 162.11a3.3 3.3 0 1 0 6.6 0a3.3 3.3 0 1 0 -6.6 0M477.11 163.63a3.3 3.3 0 1 0 6.6 0a3.3 3.3 0 1 0 -6.6 0M477.56 159.12a3.3 3.3 0 1 0 6.6 0a3.3 3.3 0 1 0 -6.6 0M477.56 163.61a3.3 3.3 0 1 0 6.6 0a3.3 3.3 0 1 0 -6.6 0M478.01 160.74a3.3 3.3 0 1 0 6.6 0a3.3 3.3 0 1 0 -6.6 0M478.01 161.45a3.3 3.3 0 1 0 6.6 0a3.3 3.3 0 1 0 -6.6 0M478.46 161.25a3.3 3.3 0 1 0 6.6 0a3.3 3.3 0 1 0 -6.6 0M478.46 157.17a3.3 3.3 0 1 0 6.6 0a3.3 3.3 0 1 0 -6.6 0M478.91 159.08a3.3 3.3 0 1 0 6.6 0a3.3 3.3 0 1 0 -6.6 0M478.91 157.66a3.3 3.3 0 1 0 6.6 0a3.3 3.3 0 1 0 -6.6 0M479.36 156.99a3.3 3.3 0 1 0 6.6 0a3.3 3.3 0 1 0 -6.6 0M479.36 162.89a3.3 3.3 0 1 0 6.6 0a3.3 3.3 0 1 0 -6.6 0M479.81 157.47a3.3 3.3 0 1 0 6.6 0a3.3 3.3 0 1 0 -6.6 0M479.81 159.32a3.3 3.3 0 1 0 6.6 0a3.3 3.3 0 1 0 -6.6 0M480.26 162.44a3.3 3.3 0 1 0 6.6 0a3.3 3.3 0 1 0 -6.6 0M480.26 161.37a3.3 3.3 0 1 0 6.6 0a3.3 3.3 0 1 0 -6.6 0M480.71 158.01a3.3 3.3 0 1 0 6.6 0a3.3 3.3 0 1 0 -6.6 0M480.71 160.8a3.3 3.3 0 1 0 6.6 0a3.3 3.3 0 1 0 -6.6 0M481.16 161.21a3.3 3.3 0 1 0 6.6 0a3.3 3.3 0 1 0 -6.6 0M481.16 162.55a3.3 3.3 0 1 0 6.6 0a3.3 3.3 0 1 0 -6.6 0M481.61 156.95a3.3 3.3 0 1 0 6.6 0a3.3 3.3 0 1 0 -6.6 0M481.61 161.19a3.3 3.3 0 1 0 6.6 0a3.3 3.3 0 1 0 -6.6 0M482.06 157.42a3.3 3.3 0 1 0 6.6 0a3.3 3.3 0 1 0 -6.6 0M482.06 157.55a3.3 3.3 0 1 0 6.6 0a3.3 3.3 0 1 0 -6.6 0M482.51 162.28a3.3 3.3 0 1 0 6.6 0a3.3 3.3 0 1 0 -6.6 0M482.51 160.28a3.3 3.3 0 1 0 6.6 0a3.3 3.3 0 1 0 -6.6 0M482.96 160.99a3.3 3.3 0 1 0 6.6 0a3.3 3.3 0 1 0 -6.6 0M482.96 162.16a3.3 3.3 0 1 0 6.6 0a3.3 3.3 0 1 0 -6.6 0M483.41 162.65a3.3 3.3 0 1 0 6.6 0a3.3 3.3 0 1 0 -6.6 0M483.41 158.39a3.3 3.3 0 1 0 6.6 0a3.3 3.3 0 1 0 -6.6 0M483.86 161.24a3.3 3.3 0 1 0 6.6 0a3.3 3.3 0 1 0 -6.6 0M483.86 159.99a3.3 3.3 0 1 0 6.6 0a3.3 3.3 0 1 0 -6.6 0M484.31 160.1a3.3 3.3 0 1 0 6.6 0a3.3 3.3 0 1 0 -6.6 0M484.31 161.63a3.3 3.3 0 1 0 6.6 0a3.3 3.3 0 1 0 -6.6 0M484.76 158.26a3.3 3.3 0 1 0 6.6 0a3.3 3.3 0 1 0 -6.6 0M484.76 160.39a3.3 3.3 0 1 0 6.6 0a3.3 3.3 0 1 0 -6.6 0M485.21 158.53a3.3 3.3 0 1 0 6.6 0a3.3 3.3 0 1 0 -6.6 0M485.21 162.46a3.3 3.3 0 1 0 6.6 0a3.3 3.3 0 1 0 -6.6 0M485.66 161.45a3.3 3.3 0 1 0 6.6 0a3.3 3.3 0 1 0 -6.6 0M485.66 162.17a3.3 3.3 0 1 0 6.6 0a3.3 3.3 0 1 0 -6.6 0M486.11 162.32a3.3 3.3 0 1 0 6.6 0a3.3 3.3 0 1 0 -6.6 0M486.11 156.82a3.3 3.3 0 1 0 6.6 0a3.3 3.3 0 1 0 -6.6 0M486.56 160.39a3.3 3.3 0 1 0 6.6 0a3.3 3.3 0 1 0 -6.6 0M486.56 162.25a3.3 3.3 0 1 0 6.6 0a3.3 3.3 0 1 0 -6.6 0M487.01 161.8a3.3 3.3 0 1 0 6.6 0a3.3 3.3 0 1 0 -6.6 0M487.01 156.17a3.3 3.3 0 1 0 6.6 0a3.3 3.3 0 1 0 -6.6 0M487.46 156.01a3.3 3.3 0 1 0 6.6 0a3.3 3.3 0 1 0 -6.6 0M487.46 157.67a3.3 3.3 0 1 0 6.6 0a3.3 3.3 0 1 0 -6.6 0M487.91 155.75a3.3 3.3 0 1 0 6.6 0a3.3 3.3 0 1 0 -6.6 0M487.91 156.37a3.3 3.3 0 1 0 6.6 0a3.3 3.3 0 1 0 -6.6 0M488.36 155.64a3.3 3.3 0 1 0 6.6 0a3.3 3.3 0 1 0 -6.6 0M488.36 160.75a3.3 3.3 0 1 0 6.6 0a3.3 3.3 0 1 0 -6.6 0M488.81 161.17a3.3 3.3 0 1 0 6.6 0a3.3 3.3 0 1 0 -6.6 0M488.81 161.59a3.3 3.3 0 1 0 6.6 0a3.3 3.3 0 1 0 -6.6 0M489.26 155.72a3.3 3.3 0 1 0 6.6 0a3.3 3.3 0 1 0 -6.6 0M489.26 160.77a3.3 3.3 0 1 0 6.6 0a3.3 3.3 0 1 0 -6.6 0M489.71 160.39a3.3 3.3 0 1 0 6.6 0a3.3 3.3 0 1 0 -6.6 0M489.71 155.57a3.3 3.3 0 1 0 6.6 0a3.3 3.3 0 1 0 -6.6 0M490.16 161.23a3.3 3.3 0 1 0 6.6 0a3.3 3.3 0 1 0 -6.6 0M490.16 161.51a3.3 3.3 0 1 0 6.6 0a3.3 3.3 0 1 0 -6.6 0M490.61 155.66a3.3 3.3 0 1 0 6.6 0a3.3 3.3 0 1 0 -6.6 0M490.61 161.36a3.3 3.3 0 1 0 6.6 0a3.3 3.3 0 1 0 -6.6 0M491.06 156.49a3.3 3.3 0 1 0 6.6 0a3.3 3.3 0 1 0 -6.6 0M491.06 157.46a3.3 3.3 0 1 0 6.6 0a3.3 3.3 0 1 0 -6.6 0M491.51 161.26a3.3 3.3 0 1 0 6.6 0a3.3 3.3 0 1 0 -6.6 0M491.51 160.74a3.3 3.3 0 1 0 6.6 0a3.3 3.3 0 1 0 -6.6 0M491.96 155.12a3.3 3.3 0 1 0 6.6 0a3.3 3.3 0 1 0 -6.6 0M491.96 156.54a3.3 3.3 0 1 0 6.6 0a3.3 3.3 0 1 0 -6.6 0M492.41 158.48a3.3 3.3 0 1 0 6.6 0a3.3 3.3 0 1 0 -6.6 0M492.41 155.81a3.3 3.3 0 1 0 6.6 0a3.3 3.3 0 1 0 -6.6 0M492.86 155.04a3.3 3.3 0 1 0 6.6 0a3.3 3.3 0 1 0 -6.6 0M492.86 155.59a3.3 3.3 0 1 0 6.6 0a3.3 3.3 0 1 0 -6.6 0M493.31 159.87a3.3 3.3 0 1 0 6.6 0a3.3 3.3 0 1 0 -6.6 0M493.31 154.34a3.3 3.3 0 1 0 6.6 0a3.3 3.3 0 1 0 -6.6 0M493.76 158.69a3.3 3.3 0 1 0 6.6 0a3.3 3.3 0 1 0 -6.6 0M493.76 156.21a3.3 3.3 0 1 0 6.6 0a3.3 3.3 0 1 0 -6.6 0M494.21 154.13a3.3 3.3 0 1 0 6.6 0a3.3 3.3 0 1 0 -6.6 0M494.21 155.35a3.3 3.3 0 1 0 6.6 0a3.3 3.3 0 1 0 -6.6 0M494.66 159.03a3.3 3.3 0 1 0 6.6 0a3.3 3.3 0 1 0 -6.6 0M494.66 157.89a3.3 3.3 0 1 0 6.6 0a3.3 3.3 0 1 0 -6.6 0M495.11 154.06a3.3 3.3 0 1 0 6.6 0a3.3 3.3 0 1 0 -6.6 0M495.11 160.42a3.3 3.3 0 1 0 6.6 0a3.3 3.3 0 1 0 -6.6 0M495.56 159.64a3.3 3.3 0 1 0 6.6 0a3.3 3.3 0 1 0 -6.6 0M495.56 160.28a3.3 3.3 0 1 0 6.6 0a3.3 3.3 0 1 0 -6.6 0M496.01 153.99a3.3 3.3 0 1 0 6.6 0a3.3 3.3 0 1 0 -6.6 0M496.01 154.61a3.3 3.3 0 1 0 6.6 0a3.3 3.3 0 1 0 -6.6 0M496.46 153.68a3.3 3.3 0 1 0 6.6 0a3.3 3.3 0 1 0 -6.6 0M496.46 159.39a3.3 3.3 0 1 0 6.6 0a3.3 3.3 0 1 0 -6.6 0M496.91 154.41a3.3 3.3 0 1 0 6.6 0a3.3 3.3 0 1 0 -6.6 0M496.91 153.84a3.3 3.3 0 1 0 6.6 0a3.3 3.3 0 1 0 -6.6 0M497.36 155.22a3.3 3.3 0 1 0 6.6 0a3.3 3.3 0 1 0 -6.6 0M497.36 159.91a3.3 3.3 0 1 0 6.6 0a3.3 3.3 0 1 0 -6.6 0M497.81 159.62a3.3 3.3 0 1 0 6.6 0a3.3 3.3 0 1 0 -6.6 0M497.81 154.08a3.3 3.3 0 1 0 6.6 0a3.3 3.3 0 1 0 -6.6 0M498.26 153.46a3.3 3.3 0 1 0 6.6 0a3.3 3.3 0 1 0 -6.6 0M498.26 160.07a3.3 3.3 0 1 0 6.6 0a3.3 3.3 0 1 0 -6.6 0M498.71 158.17a3.3 3.3 0 1 0 6.6 0a3.3 3.3 0 1 0 -6.6 0M498.71 159.13a3.3 3.3 0 1 0 6.6 0a3.3 3.3 0 1 0 -6.6 0M499.16 152.9a3.3 3.3 0 1 0 6.6 0a3.3 3.3 0 1 0 -6.6 0M499.16 152.78a3.3 3.3 0 1 0 6.6 0a3.3 3.3 0 1 0 -6.6 0M499.61 159.11a3.3 3.3 0 1 0 6.6 0a3.3 3.3 0 1 0 -6.6 0M499.61 154.74a3.3 3.3 0 1 0 6.6 0a3.3 3.3 0 1 0 -6.6 0M500.06 152.51a3.3 3.3 0 1 0 6.6 0a3.3 3.3 0 1 0 -6.6 0M500.06 160.4a3.3 3.3 0 1 0 6.6 0a3.3 3.3 0 1 0 -6.6 0M500.51 158.78a3.3 3.3 0 1 0 6.6 0a3.3 3.3 0 1 0 -6.6 0M500.51 159.83a3.3 3.3 0 1 0 6.6 0a3.3 3.3 0 1 0 -6.6 0M500.96 152.23a3.3 3.3 0 1 0 6.6 0a3.3 3.3 0 1 0 -6.6 0M500.96 160.15a3.3 3.3 0 1 0 6.6 0a3.3 3.3 0 1 0 -6.6 0M501.41 152a3.3 3.3 0 1 0 6.6 0a3.3 3.3 0 1 0 -6.6 0M501.41 160.24a3.3 3.3 0 1 0 6.6 0a3.3 3.3 0 1 0 -6.6 0M501.86 154.53a3.3 3.3 0 1 0 6.6 0a3.3 3.3 0 1 0 -6.6 0M501.86 153.34a3.3 3.3 0 1 0 6.6 0a3.3 3.3 0 1 0 -6.6 0M502.31 157.31a3.3 3.3 0 1 0 6.6 0a3.3 3.3 0 1 0 -6.6 0M502.31 159.83a3.3 3.3 0 1 0 6.6 0a3.3 3.3 0 1 0 -6.6 0M502.76 152.24a3.3 3.3 0 1 0 6.6 0a3.3 3.3 0 1 0 -6.6 0M502.76 151.53a3.3 3.3 0 1 0 6.6 0a3.3 3.3 0 1 0 -6.6 0M503.21 155.97a3.3 3.3 0 1 0 6.6 0a3.3 3.3 0 1 0 -6.6 0M503.21 151.77a3.3 3.3 0 1 0 6.6 0a3.3 3.3 0 1 0 -6.6 0M503.66 150.88a3.3 3.3 0 1 0 6.6 0a3.3 3.3 0 1 0 -6.6 0M503.66 151.1a3.3 3.3 0 1 0 6.6 0a3.3 3.3 0 1 0 -6.6 0M504.11 150.38a3.3 3.3 0 1 0 6.6 0a3.3 3.3 0 1 0 -6.6 0M504.11 151a3.3 3.3 0 1 0 6.6 0a3.3 3.3 0 1 0 -6.6 0M504.56 151.25a3.3 3.3 0 1 0 6.6 0a3.3 3.3 0 1 0 -6.6 0M504.56 151.21a3.3 3.3 0 1 0 6.6 0a3.3 3.3 0 1 0 -6.6 0M505.01 155.83a3.3 3.3 0 1 0 6.6 0a3.3 3.3 0 1 0 -6.6 0M505.01 150.82a3.3 3.3 0 1 0 6.6 0a3.3 3.3 0 1 0 -6.6 0M505.46 152.86a3.3 3.3 0 1 0 6.6 0a3.3 3.3 0 1 0 -6.6 0M505.46 150.02a3.3 3.3 0 1 0 6.6 0a3.3 3.3 0 1 0 -6.6 0M505.91 150.49a3.3 3.3 0 1 0 6.6 0a3.3 3.3 0 1 0 -6.6 0M505.91 149.21a3.3 3.3 0 1 0 6.6 0a3.3 3.3 0 1 0 -6.6 0M506.36 149.72a3.3 3.3 0 1 0 6.6 0a3.3 3.3 0 1 0 -6.6 0M506.36 148.94a3.3 3.3 0 1 0 6.6 0a3.3 3.3 0 1 0 -6.6 0M506.81 153.68a3.3 3.3 0 1 0 6.6 0a3.3 3.3 0 1 0 -6.6 0M506.81 152.65a3.3 3.3 0 1 0 6.6 0a3.3 3.3 0 1 0 -6.6 0M507.26 149.04a3.3 3.3 0 1 0 6.6 0a3.3 3.3 0 1 0 -6.6 0M507.26 150.63a3.3 3.3 0 1 0 6.6 0a3.3 3.3 0 1 0 -6.6 0M507.71 153.86a3.3 3.3 0 1 0 6.6 0a3.3 3.3 0 1 0 -6.6 0M507.71 148.6a3.3 3.3 0 1 0 6.6 0a3.3 3.3 0 1 0 -6.6 0M508.16 153.26a3.3 3.3 0 1 0 6.6 0a3.3 3.3 0 1 0 -6.6 0M508.16 149.81a3.3 3.3 0 1 0 6.6 0a3.3 3.3 0 1 0 -6.6 0M508.61 150.39a3.3 3.3 0 1 0 6.6 0a3.3 3.3 0 1 0 -6.6 0M508.61 153.07a3.3 3.3 0 1 0 6.6 0a3.3 3.3 0 1 0 -6.6 0M509.06 149.16a3.3 3.3 0 1 0 6.6 0a3.3 3.3 0 1 0 -6.6 0M509.06 150.92a3.3 3.3 0 1 0 6.6 0a3.3 3.3 0 1 0 -6.6 0M509.51 152.06a3.3 3.3 0 1 0 6.6 0a3.3 3.3 0 1 0 -6.6 0M509.51 152.98a3.3 3.3 0 1 0 6.6 0a3.3 3.3 0 1 0 -6.6 0M509.96 148.51a3.3 3.3 0 1 0 6.6 0a3.3 3.3 0 1 0 -6.6 0M509.96 152.33a3.3 3.3 0 1 0 6.6 0a3.3 3.3 0 1 0 -6.6 0M510.41 151.66a3.3 3.3 0 1 0 6.6 0a3.3 3.3 0 1 0 -6.6 0M510.41 151.35a3.3 3.3 0 1 0 6.6 0a3.3 3.3 0 1 0 -6.6 0M510.86 148.44a3.3 3.3 0 1 0 6.6 0a3.3 3.3 0 1 0 -6.6 0M510.86 148.15a3.3 3.3 0 1 0 6.6 0a3.3 3.3 0 1 0 -6.6 0M511.31 147.03a3.3 3.3 0 1 0 6.6 0a3.3 3.3 0 1 0 -6.6 0M511.31 147.23a3.3 3.3 0 1 0 6.6 0a3.3 3.3 0 1 0 -6.6 0M511.76 146.89a3.3 3.3 0 1 0 6.6 0a3.3 3.3 0 1 0 -6.6 0M511.76 151.06a3.3 3.3 0 1 0 6.6 0a3.3 3.3 0 1 0 -6.6 0M512.21 147.23a3.3 3.3 0 1 0 6.6 0a3.3 3.3 0 1 0 -6.6 0M512.21 146.96a3.3 3.3 0 1 0 6.6 0a3.3 3.3 0 1 0 -6.6 0M512.66 146.57a3.3 3.3 0 1 0 6.6 0a3.3 3.3 0 1 0 -6.6 0M512.66 150.88a3.3 3.3 0 1 0 6.6 0a3.3 3.3 0 1 0 -6.6 0M513.11 150.71a3.3 3.3 0 1 0 6.6 0a3.3 3.3 0 1 0 -6.6 0M513.11 150.09a3.3 3.3 0 1 0 6.6 0a3.3 3.3 0 1 0 -6.6 0M513.56 146.76a3.3 3.3 0 1 0 6.6 0a3.3 3.3 0 1 0 -6.6 0M513.56 146.63a3.3 3.3 0 1 0 6.6 0a3.3 3.3 0 1 0 -6.6 0M514.01 146.61a3.3 3.3 0 1 0 6.6 0a3.3 3.3 0 1 0 -6.6 0M514.01 147.43a3.3 3.3 0 1 0 6.6 0a3.3 3.3 0 1 0 -6.6 0M514.46 146.03a3.3 3.3 0 1 0 6.6 0a3.3 3.3 0 1 0 -6.6 0M514.46 147.12a3.3 3.3 0 1 0 6.6 0a3.3 3.3 0 1 0 -6.6 0M514.91 146.14a3.3 3.3 0 1 0 6.6 0a3.3 3.3 0 1 0 -6.6 0M514.91 149.92a3.3 3.3 0 1 0 6.6 0a3.3 3.3 0 1 0 -6.6 0M515.36 149.69a3.3 3.3 0 1 0 6.6 0a3.3 3.3 0 1 0 -6.6 0M515.36 148.3a3.3 3.3 0 1 0 6.6 0a3.3 3.3 0 1 0 -6.6 0M515.81 145.71a3.3 3.3 0 1 0 6.6 0a3.3 3.3 0 1 0 -6.6 0M515.81 149.43a3.3 3.3 0 1 0 6.6 0a3.3 3.3 0 1 0 -6.6 0M516.26 145.72a3.3 3.3 0 1 0 6.6 0a3.3 3.3 0 1 0 -6.6 0M516.26 145.89a3.3 3.3 0 1 0 6.6 0a3.3 3.3 0 1 0 -6.6 0M516.71 144.8a3.3 3.3 0 1 0 6.6 0a3.3 3.3 0 1 0 -6.6 0M516.71 145.8a3.3 3.3 0 1 0 6.6 0a3.3 3.3 0 1 0 -6.6 0M517.16 146.18a3.3 3.3 0 1 0 6.6 0a3.3 3.3 0 1 0 -6.6 0M517.16 146.95a3.3 3.3 0 1 0 6.6 0a3.3 3.3 0 1 0 -6.6 0M517.61 144.83a3.3 3.3 0 1 0 6.6 0a3.3 3.3 0 1 0 -6.6 0M517.61 146.85a3.3 3.3 0 1 0 6.6 0a3.3 3.3 0 1 0 -6.6 0M518.06 144.17a3.3 3.3 0 1 0 6.6 0a3.3 3.3 0 1 0 -6.6 0M518.06 144.81a3.3 3.3 0 1 0 6.6 0a3.3 3.3 0 1 0 -6.6 0M518.51 144.15a3.3 3.3 0 1 0 6.6 0a3.3 3.3 0 1 0 -6.6 0M518.51 145.14a3.3 3.3 0 1 0 6.6 0a3.3 3.3 0 1 0 -6.6 0M518.96 143.83a3.3 3.3 0 1 0 6.6 0a3.3 3.3 0 1 0 -6.6 0M518.96 143.79a3.3 3.3 0 1 0 6.6 0a3.3 3.3 0 1 0 -6.6 0M519.41 144.36a3.3 3.3 0 1 0 6.6 0a3.3 3.3 0 1 0 -6.6 0M519.41 144.12a3.3 3.3 0 1 0 6.6 0a3.3 3.3 0 1 0 -6.6 0M519.86 146.91a3.3 3.3 0 1 0 6.6 0a3.3 3.3 0 1 0 -6.6 0M519.86 146.48a3.3 3.3 0 1 0 6.6 0a3.3 3.3 0 1 0 -6.6 0M520.31 147.49a3.3 3.3 0 1 0 6.6 0a3.3 3.3 0 1 0 -6.6 0M520.31 147.14a3.3 3.3 0 1 0 6.6 0a3.3 3.3 0 1 0 -6.6 0M520.76 147.25a3.3 3.3 0 1 0 6.6 0a3.3 3.3 0 1 0 -6.6 0M520.76 147.76a3.3 3.3 0 1 0 6.6 0a3.3 3.3 0 1 0 -6.6 0M521.21 143.98a3.3 3.3 0 1 0 6.6 0a3.3 3.3 0 1 0 -6.6 0M521.21 143.68a3.3 3.3 0 1 0 6.6 0a3.3 3.3 0 1 0 -6.6 0M521.66 147.82a3.3 3.3 0 1 0 6.6 0a3.3 3.3 0 1 0 -6.6 0M521.66 142.87a3.3 3.3 0 1 0 6.6 0a3.3 3.3 0 1 0 -6.6 0M522.11 146.92a3.3 3.3 0 1 0 6.6 0a3.3 3.3 0 1 0 -6.6 0M522.11 146.57a3.3 3.3 0 1 0 6.6 0a3.3 3.3 0 1 0 -6.6 0M522.56 142.16a3.3 3.3 0 1 0 6.6 0a3.3 3.3 0 1 0 -6.6 0M522.56 147.19a3.3 3.3 0 1 0 6.6 0a3.3 3.3 0 1 0 -6.6 0M523.01 147.25a3.3 3.3 0 1 0 6.6 0a3.3 3.3 0 1 0 -6.6 0M523.01 146.24a3.3 3.3 0 1 0 6.6 0a3.3 3.3 0 1 0 -6.6 0M523.46 146.6a3.3 3.3 0 1 0 6.6 0a3.3 3.3 0 1 0 -6.6 0M523.46 146.89a3.3 3.3 0 1 0 6.6 0a3.3 3.3 0 1 0 -6.6 0M523.91 141.82a3.3 3.3 0 1 0 6.6 0a3.3 3.3 0 1 0 -6.6 0M523.91 145.13a3.3 3.3 0 1 0 6.6 0a3.3 3.3 0 1 0 -6.6 0M524.36 144.58a3.3 3.3 0 1 0 6.6 0a3.3 3.3 0 1 0 -6.6 0M524.36 146.74a3.3 3.3 0 1 0 6.6 0a3.3 3.3 0 1 0 -6.6 0M524.81 146.52a3.3 3.3 0 1 0 6.6 0a3.3 3.3 0 1 0 -6.6 0M524.81 146.6a3.3 3.3 0 1 0 6.6 0a3.3 3.3 0 1 0 -6.6 0M525.26 145.31a3.3 3.3 0 1 0 6.6 0a3.3 3.3 0 1 0 -6.6 0M525.26 146.71a3.3 3.3 0 1 0 6.6 0a3.3 3.3 0 1 0 -6.6 0M525.71 145.77a3.3 3.3 0 1 0 6.6 0a3.3 3.3 0 1 0 -6.6 0M525.71 145.82a3.3 3.3 0 1 0 6.6 0a3.3 3.3 0 1 0 -6.6 0M526.16 141.14a3.3 3.3 0 1 0 6.6 0a3.3 3.3 0 1 0 -6.6 0M526.16 140.45a3.3 3.3 0 1 0 6.6 0a3.3 3.3 0 1 0 -6.6 0M526.61 140.57a3.3 3.3 0 1 0 6.6 0a3.3 3.3 0 1 0 -6.6 0M526.61 141.58a3.3 3.3 0 1 0 6.6 0a3.3 3.3 0 1 0 -6.6 0M527.06 140.4a3.3 3.3 0 1 0 6.6 0a3.3 3.3 0 1 0 -6.6 0M527.06 146.16a3.3 3.3 0 1 0 6.6 0a3.3 3.3 0 1 0 -6.6 0M527.51 144.65a3.3 3.3 0 1 0 6.6 0a3.3 3.3 0 1 0 -6.6 0M527.51 145.18a3.3 3.3 0 1 0 6.6 0a3.3 3.3 0 1 0 -6.6 0M527.96 145.17a3.3 3.3 0 1 0 6.6 0a3.3 3.3 0 1 0 -6.6 0M527.96 145.49a3.3 3.3 0 1 0 6.6 0a3.3 3.3 0 1 0 -6.6 0M528.41 142.75a3.3 3.3 0 1 0 6.6 0a3.3 3.3 0 1 0 -6.6 0M528.41 139.97a3.3 3.3 0 1 0 6.6 0a3.3 3.3 0 1 0 -6.6 0M528.86 146.03a3.3 3.3 0 1 0 6.6 0a3.3 3.3 0 1 0 -6.6 0M528.86 145.82a3.3 3.3 0 1 0 6.6 0a3.3 3.3 0 1 0 -6.6 0M529.31 143.66a3.3 3.3 0 1 0 6.6 0a3.3 3.3 0 1 0 -6.6 0M529.31 144.36a3.3 3.3 0 1 0 6.6 0a3.3 3.3 0 1 0 -6.6 0M529.76 145.37a3.3 3.3 0 1 0 6.6 0a3.3 3.3 0 1 0 -6.6 0M529.76 140.07a3.3 3.3 0 1 0 6.6 0a3.3 3.3 0 1 0 -6.6 0M530.21 145.78a3.3 3.3 0 1 0 6.6 0a3.3 3.3 0 1 0 -6.6 0M530.21 140.76a3.3 3.3 0 1 0 6.6 0a3.3 3.3 0 1 0 -6.6 0M530.66 140.03a3.3 3.3 0 1 0 6.6 0a3.3 3.3 0 1 0 -6.6 0M530.66 140.79a3.3 3.3 0 1 0 6.6 0a3.3 3.3 0 1 0 -6.6 0M531.11 145.75a3.3 3.3 0 1 0 6.6 0a3.3 3.3 0 1 0 -6.6 0M531.11 140.49a3.3 3.3 0 1 0 6.6 0a3.3 3.3 0 1 0 -6.6 0M531.56 145.8a3.3 3.3 0 1 0 6.6 0a3.3 3.3 0 1 0 -6.6 0M531.56 146.72a3.3 3.3 0 1 0 6.6 0a3.3 3.3 0 1 0 -6.6 0M532.01 142.78a3.3 3.3 0 1 0 6.6 0a3.3 3.3 0 1 0 -6.6 0M532.01 141.43a3.3 3.3 0 1 0 6.6 0a3.3 3.3 0 1 0 -6.6 0M532.46 142.45a3.3 3.3 0 1 0 6.6 0a3.3 3.3 0 1 0 -6.6 0M532.46 145.51a3.3 3.3 0 1 0 6.6 0a3.3 3.3 0 1 0 -6.6 0M532.91 145.91a3.3 3.3 0 1 0 6.6 0a3.3 3.3 0 1 0 -6.6 0M532.91 145.1a3.3 3.3 0 1 0 6.6 0a3.3 3.3 0 1 0 -6.6 0M533.36 145.27a3.3 3.3 0 1 0 6.6 0a3.3 3.3 0 1 0 -6.6 0M533.36 140.18a3.3 3.3 0 1 0 6.6 0a3.3 3.3 0 1 0 -6.6 0M533.81 140.48a3.3 3.3 0 1 0 6.6 0a3.3 3.3 0 1 0 -6.6 0M533.81 140.91a3.3 3.3 0 1 0 6.6 0a3.3 3.3 0 1 0 -6.6 0M534.26 145.78a3.3 3.3 0 1 0 6.6 0a3.3 3.3 0 1 0 -6.6 0M534.26 141.2a3.3 3.3 0 1 0 6.6 0a3.3 3.3 0 1 0 -6.6 0M534.71 144.73a3.3 3.3 0 1 0 6.6 0a3.3 3.3 0 1 0 -6.6 0M534.71 140.16a3.3 3.3 0 1 0 6.6 0a3.3 3.3 0 1 0 -6.6 0M535.16 140.37a3.3 3.3 0 1 0 6.6 0a3.3 3.3 0 1 0 -6.6 0M535.16 141.13a3.3 3.3 0 1 0 6.6 0a3.3 3.3 0 1 0 -6.6 0M535.61 145.42a3.3 3.3 0 1 0 6.6 0a3.3 3.3 0 1 0 -6.6 0M535.61 145.53a3.3 3.3 0 1 0 6.6 0a3.3 3.3 0 1 0 -6.6 0M536.06 145.44a3.3 3.3 0 1 0 6.6 0a3.3 3.3 0 1 0 -6.6 0M536.06 141.33a3.3 3.3 0 1 0 6.6 0a3.3 3.3 0 1 0 -6.6 0M536.51 144.16a3.3 3.3 0 1 0 6.6 0a3.3 3.3 0 1 0 -6.6 0M536.51 142.54a3.3 3.3 0 1 0 6.6 0a3.3 3.3 0 1 0 -6.6 0M536.96 142.58a3.3 3.3 0 1 0 6.6 0a3.3 3.3 0 1 0 -6.6 0M536.96 140.79a3.3 3.3 0 1 0 6.6 0a3.3 3.3 0 1 0 -6.6 0M537.41 146.13a3.3 3.3 0 1 0 6.6 0a3.3 3.3 0 1 0 -6.6 0M537.41 141.11a3.3 3.3 0 1 0 6.6 0a3.3 3.3 0 1 0 -6.6 0M537.86 146.26a3.3 3.3 0 1 0 6.6 0a3.3 3.3 0 1 0 -6.6 0M537.86 146.15a3.3 3.3 0 1 0 6.6 0a3.3 3.3 0 1 0 -6.6 0M538.31 140.67a3.3 3.3 0 1 0 6.6 0a3.3 3.3 0 1 0 -6.6 0M538.31 142.51a3.3 3.3 0 1 0 6.6 0a3.3 3.3 0 1 0 -6.6 0M538.76 145.61a3.3 3.3 0 1 0 6.6 0a3.3 3.3 0 1 0 -6.6 0M538.76 146.03a3.3 3.3 0 1 0 6.6 0a3.3 3.3 0 1 0 -6.6 0M539.21 142.44a3.3 3.3 0 1 0 6.6 0a3.3 3.3 0 1 0 -6.6 0M539.21 141.52a3.3 3.3 0 1 0 6.6 0a3.3 3.3 0 1 0 -6.6 0M539.66 141.37a3.3 3.3 0 1 0 6.6 0a3.3 3.3 0 1 0 -6.6 0M539.66 145.76a3.3 3.3 0 1 0 6.6 0a3.3 3.3 0 1 0 -6.6 0M540.11 141.41a3.3 3.3 0 1 0 6.6 0a3.3 3.3 0 1 0 -6.6 0M540.11 144.41a3.3 3.3 0 1 0 6.6 0a3.3 3.3 0 1 0 -6.6 0M540.56 141.27a3.3 3.3 0 1 0 6.6 0a3.3 3.3 0 1 0 -6.6 0M540.56 143.91a3.3 3.3 0 1 0 6.6 0a3.3 3.3 0 1 0 -6.6 0M541.01 145.47a3.3 3.3 0 1 0 6.6 0a3.3 3.3 0 1 0 -6.6 0M541.01 141.3a3.3 3.3 0 1 0 6.6 0a3.3 3.3 0 1 0 -6.6 0M541.46 145.06a3.3 3.3 0 1 0 6.6 0a3.3 3.3 0 1 0 -6.6 0M541.46 143.62a3.3 3.3 0 1 0 6.6 0a3.3 3.3 0 1 0 -6.6 0M541.91 145.16a3.3 3.3 0 1 0 6.6 0a3.3 3.3 0 1 0 -6.6 0M541.91 144.68a3.3 3.3 0 1 0 6.6 0a3.3 3.3 0 1 0 -6.6 0M542.36 141.64a3.3 3.3 0 1 0 6.6 0a3.3 3.3 0 1 0 -6.6 0M542.36 145.18a3.3 3.3 0 1 0 6.6 0a3.3 3.3 0 1 0 -6.6 0M542.81 142.83a3.3 3.3 0 1 0 6.6 0a3.3 3.3 0 1 0 -6.6 0M542.81 141.18a3.3 3.3 0 1 0 6.6 0a3.3 3.3 0 1 0 -6.6 0M543.26 141.15a3.3 3.3 0 1 0 6.6 0a3.3 3.3 0 1 0 -6.6 0M543.26 142.92a3.3 3.3 0 1 0 6.6 0a3.3 3.3 0 1 0 -6.6 0M543.71 142.52a3.3 3.3 0 1 0 6.6 0a3.3 3.3 0 1 0 -6.6 0M543.71 141.88a3.3 3.3 0 1 0 6.6 0a3.3 3.3 0 1 0 -6.6 0M544.16 141.46a3.3 3.3 0 1 0 6.6 0a3.3 3.3 0 1 0 -6.6 0M544.16 142.03a3.3 3.3 0 1 0 6.6 0a3.3 3.3 0 1 0 -6.6 0M544.61 141.94a3.3 3.3 0 1 0 6.6 0a3.3 3.3 0 1 0 -6.6 0M544.61 145.01a3.3 3.3 0 1 0 6.6 0a3.3 3.3 0 1 0 -6.6 0M545.06 141.2a3.3 3.3 0 1 0 6.6 0a3.3 3.3 0 1 0 -6.6 0M545.06 144.78a3.3 3.3 0 1 0 6.6 0a3.3 3.3 0 1 0 -6.6 0M545.51 144.99a3.3 3.3 0 1 0 6.6 0a3.3 3.3 0 1 0 -6.6 0M545.51 141.45a3.3 3.3 0 1 0 6.6 0a3.3 3.3 0 1 0 -6.6 0M545.96 145.17a3.3 3.3 0 1 0 6.6 0a3.3 3.3 0 1 0 -6.6 0M545.96 144.66a3.3 3.3 0 1 0 6.6 0a3.3 3.3 0 1 0 -6.6 0M546.41 145.11a3.3 3.3 0 1 0 6.6 0a3.3 3.3 0 1 0 -6.6 0M546.41 141.9a3.3 3.3 0 1 0 6.6 0a3.3 3.3 0 1 0 -6.6 0M546.86 142.18a3.3 3.3 0 1 0 6.6 0a3.3 3.3 0 1 0 -6.6 0M546.86 142.27a3.3 3.3 0 1 0 6.6 0a3.3 3.3 0 1 0 -6.6 0M547.31 145.29a3.3 3.3 0 1 0 6.6 0a3.3 3.3 0 1 0 -6.6 0M547.31 144.2a3.3 3.3 0 1 0 6.6 0a3.3 3.3 0 1 0 -6.6 0M547.76 142.16a3.3 3.3 0 1 0 6.6 0a3.3 3.3 0 1 0 -6.6 0M547.76 142.45a3.3 3.3 0 1 0 6.6 0a3.3 3.3 0 1 0 -6.6 0M548.21 141.9a3.3 3.3 0 1 0 6.6 0a3.3 3.3 0 1 0 -6.6 0M548.21 141.38a3.3 3.3 0 1 0 6.6 0a3.3 3.3 0 1 0 -6.6 0M548.66 141.5a3.3 3.3 0 1 0 6.6 0a3.3 3.3 0 1 0 -6.6 0M548.66 144.93a3.3 3.3 0 1 0 6.6 0a3.3 3.3 0 1 0 -6.6 0M549.11 141.94a3.3 3.3 0 1 0 6.6 0a3.3 3.3 0 1 0 -6.6 0M549.11 145.13a3.3 3.3 0 1 0 6.6 0a3.3 3.3 0 1 0 -6.6 0M549.56 141.86a3.3 3.3 0 1 0 6.6 0a3.3 3.3 0 1 0 -6.6 0M549.56 141.9a3.3 3.3 0 1 0 6.6 0a3.3 3.3 0 1 0 -6.6 0M550.01 143.64a3.3 3.3 0 1 0 6.6 0a3.3 3.3 0 1 0 -6.6 0M550.01 141.72a3.3 3.3 0 1 0 6.6 0a3.3 3.3 0 1 0 -6.6 0M550.46 142.25a3.3 3.3 0 1 0 6.6 0a3.3 3.3 0 1 0 -6.6 0M550.46 145.15a3.3 3.3 0 1 0 6.6 0a3.3 3.3 0 1 0 -6.6 0M550.91 145a3.3 3.3 0 1 0 6.6 0a3.3 3.3 0 1 0 -6.6 0M550.91 144.85a3.3 3.3 0 1 0 6.6 0a3.3 3.3 0 1 0 -6.6 0M551.36 144.34a3.3 3.3 0 1 0 6.6 0a3.3 3.3 0 1 0 -6.6 0M551.36 145.05a3.3 3.3 0 1 0 6.6 0a3.3 3.3 0 1 0 -6.6 0M551.81 145.1a3.3 3.3 0 1 0 6.6 0a3.3 3.3 0 1 0 -6.6 0M551.81 143.97a3.3 3.3 0 1 0 6.6 0a3.3 3.3 0 1 0 -6.6 0M552.26 144.61a3.3 3.3 0 1 0 6.6 0a3.3 3.3 0 1 0 -6.6 0M552.26 141.49a3.3 3.3 0 1 0 6.6 0a3.3 3.3 0 1 0 -6.6 0M552.71 144.65a3.3 3.3 0 1 0 6.6 0a3.3 3.3 0 1 0 -6.6 0M552.71 142.63a3.3 3.3 0 1 0 6.6 0a3.3 3.3 0 1 0 -6.6 0M553.16 144.7a3.3 3.3 0 1 0 6.6 0a3.3 3.3 0 1 0 -6.6 0M553.16 144.39a3.3 3.3 0 1 0 6.6 0a3.3 3.3 0 1 0 -6.6 0M553.61 142a3.3 3.3 0 1 0 6.6 0a3.3 3.3 0 1 0 -6.6 0M553.61 141.49a3.3 3.3 0 1 0 6.6 0a3.3 3.3 0 1 0 -6.6 0M554.06 145.07a3.3 3.3 0 1 0 6.6 0a3.3 3.3 0 1 0 -6.6 0M554.06 141.64a3.3 3.3 0 1 0 6.6 0a3.3 3.3 0 1 0 -6.6 0M554.51 142.78a3.3 3.3 0 1 0 6.6 0a3.3 3.3 0 1 0 -6.6 0M554.51 142.17a3.3 3.3 0 1 0 6.6 0a3.3 3.3 0 1 0 -6.6 0M554.96 142.04a3.3 3.3 0 1 0 6.6 0a3.3 3.3 0 1 0 -6.6 0M554.96 144.66a3.3 3.3 0 1 0 6.6 0a3.3 3.3 0 1 0 -6.6 0M555.41 145.16a3.3 3.3 0 1 0 6.6 0a3.3 3.3 0 1 0 -6.6 0M555.41 141.93a3.3 3.3 0 1 0 6.6 0a3.3 3.3 0 1 0 -6.6 0M555.86 144.42a3.3 3.3 0 1 0 6.6 0a3.3 3.3 0 1 0 -6.6 0M555.86 142.04a3.3 3.3 0 1 0 6.6 0a3.3 3.3 0 1 0 -6.6 0M556.31 144.02a3.3 3.3 0 1 0 6.6 0a3.3 3.3 0 1 0 -6.6 0M556.31 142.36a3.3 3.3 0 1 0 6.6 0a3.3 3.3 0 1 0 -6.6 0M556.76 141.72a3.3 3.3 0 1 0 6.6 0a3.3 3.3 0 1 0 -6.6 0M556.76 141.71a3.3 3.3 0 1 0 6.6 0a3.3 3.3 0 1 0 -6.6 0M557.21 141.81a3.3 3.3 0 1 0 6.6 0a3.3 3.3 0 1 0 -6.6 0M557.21 145.03a3.3 3.3 0 1 0 6.6 0a3.3 3.3 0 1 0 -6.6 0M557.66 143.11a3.3 3.3 0 1 0 6.6 0a3.3 3.3 0 1 0 -6.6 0M557.66 141.84a3.3 3.3 0 1 0 6.6 0a3.3 3.3 0 1 0 -6.6 0M558.11 145.03a3.3 3.3 0 1 0 6.6 0a3.3 3.3 0 1 0 -6.6 0M558.11 145.19a3.3 3.3 0 1 0 6.6 0a3.3 3.3 0 1 0 -6.6 0M558.56 142.63a3.3 3.3 0 1 0 6.6 0a3.3 3.3 0 1 0 -6.6 0M558.56 141.66a3.3 3.3 0 1 0 6.6 0a3.3 3.3 0 1 0 -6.6 0M559.01 141.77a3.3 3.3 0 1 0 6.6 0a3.3 3.3 0 1 0 -6.6 0M559.01 141.56a3.3 3.3 0 1 0 6.6 0a3.3 3.3 0 1 0 -6.6 0M559.46 142.17a3.3 3.3 0 1 0 6.6 0a3.3 3.3 0 1 0 -6.6 0M559.46 141.56a3.3 3.3 0 1 0 6.6 0a3.3 3.3 0 1 0 -6.6 0M559.91 141.88a3.3 3.3 0 1 0 6.6 0a3.3 3.3 0 1 0 -6.6 0M559.91 141.93a3.3 3.3 0 1 0 6.6 0a3.3 3.3 0 1 0 -6.6 0M560.36 144.08a3.3 3.3 0 1 0 6.6 0a3.3 3.3 0 1 0 -6.6 0M560.36 144.99a3.3 3.3 0 1 0 6.6 0a3.3 3.3 0 1 0 -6.6 0M560.81 144.69a3.3 3.3 0 1 0 6.6 0a3.3 3.3 0 1 0 -6.6 0M560.81 142.43a3.3 3.3 0 1 0 6.6 0a3.3 3.3 0 1 0 -6.6 0M561.26 142.44a3.3 3.3 0 1 0 6.6 0a3.3 3.3 0 1 0 -6.6 0M561.26 143.79a3.3 3.3 0 1 0 6.6 0a3.3 3.3 0 1 0 -6.6 0M561.71 142.29a3.3 3.3 0 1 0 6.6 0a3.3 3.3 0 1 0 -6.6 0M561.71 142.16a3.3 3.3 0 1 0 6.6 0a3.3 3.3 0 1 0 -6.6 0M562.16 141.51a3.3 3.3 0 1 0 6.6 0a3.3 3.3 0 1 0 -6.6 0M562.16 141.98a3.3 3.3 0 1 0 6.6 0a3.3 3.3 0 1 0 -6.6 0M562.61 145.14a3.3 3.3 0 1 0 6.6 0a3.3 3.3 0 1 0 -6.6 0M562.61 141.63a3.3 3.3 0 1 0 6.6 0a3.3 3.3 0 1 0 -6.6 0M563.06 143.5a3.3 3.3 0 1 0 6.6 0a3.3 3.3 0 1 0 -6.6 0M563.06 144.33a3.3 3.3 0 1 0 6.6 0a3.3 3.3 0 1 0 -6.6 0M563.51 144.94a3.3 3.3 0 1 0 6.6 0a3.3 3.3 0 1 0 -6.6 0M563.51 141.83a3.3 3.3 0 1 0 6.6 0a3.3 3.3 0 1 0 -6.6 0M563.96 141.96a3.3 3.3 0 1 0 6.6 0a3.3 3.3 0 1 0 -6.6 0M563.96 141.91a3.3 3.3 0 1 0 6.6 0a3.3 3.3 0 1 0 -6.6 0M564.41 142.38a3.3 3.3 0 1 0 6.6 0a3.3 3.3 0 1 0 -6.6 0M564.41 142.6a3.3 3.3 0 1 0 6.6 0a3.3 3.3 0 1 0 -6.6 0M564.86 145.12a3.3 3.3 0 1 0 6.6 0a3.3 3.3 0 1 0 -6.6 0M564.86 144.92a3.3 3.3 0 1 0 6.6 0a3.3 3.3 0 1 0 -6.6 0M565.31 144.97a3.3 3.3 0 1 0 6.6 0a3.3 3.3 0 1 0 -6.6 0M565.31 141.44a3.3 3.3 0 1 0 6.6 0a3.3 3.3 0 1 0 -6.6 0M565.76 141.46a3.3 3.3 0 1 0 6.6 0a3.3 3.3 0 1 0 -6.6 0M565.76 144.58a3.3 3.3 0 1 0 6.6 0a3.3 3.3 0 1 0 -6.6 0M566.21 145.01a3.3 3.3 0 1 0 6.6 0a3.3 3.3 0 1 0 -6.6 0M566.21 142.79a3.3 3.3 0 1 0 6.6 0a3.3 3.3 0 1 0 -6.6 0M566.66 144.17a3.3 3.3 0 1 0 6.6 0a3.3 3.3 0 1 0 -6.6 0M566.66 141.4a3.3 3.3 0 1 0 6.6 0a3.3 3.3 0 1 0 -6.6 0M567.11 142.34a3.3 3.3 0 1 0 6.6 0a3.3 3.3 0 1 0 -6.6 0M567.11 145.07a3.3 3.3 0 1 0 6.6 0a3.3 3.3 0 1 0 -6.6 0M567.56 144.87a3.3 3.3 0 1 0 6.6 0a3.3 3.3 0 1 0 -6.6 0M567.56 144.93a3.3 3.3 0 1 0 6.6 0a3.3 3.3 0 1 0 -6.6 0M568.01 145.15a3.3 3.3 0 1 0 6.6 0a3.3 3.3 0 1 0 -6.6 0M568.01 141.91a3.3 3.3 0 1 0 6.6 0a3.3 3.3 0 1 0 -6.6 0M568.46 141.6a3.3 3.3 0 1 0 6.6 0a3.3 3.3 0 1 0 -6.6 0M568.46 141.69a3.3 3.3 0 1 0 6.6 0a3.3 3.3 0 1 0 -6.6 0M568.91 143.77a3.3 3.3 0 1 0 6.6 0a3.3 3.3 0 1 0 -6.6 0M568.91 144.51a3.3 3.3 0 1 0 6.6 0a3.3 3.3 0 1 0 -6.6 0M569.36 145.1a3.3 3.3 0 1 0 6.6 0a3.3 3.3 0 1 0 -6.6 0M569.36 144.62a3.3 3.3 0 1 0 6.6 0a3.3 3.3 0 1 0 -6.6 0M569.81 144.4a3.3 3.3 0 1 0 6.6 0a3.3 3.3 0 1 0 -6.6 0M569.81 144.73a3.3 3.3 0 1 0 6.6 0a3.3 3.3 0 1 0 -6.6 0M570.26 142.67a3.3 3.3 0 1 0 6.6 0a3.3 3.3 0 1 0 -6.6 0M570.26 143.98a3.3 3.3 0 1 0 6.6 0a3.3 3.3 0 1 0 -6.6 0M570.71 141.47a3.3 3.3 0 1 0 6.6 0a3.3 3.3 0 1 0 -6.6 0M570.71 144.77a3.3 3.3 0 1 0 6.6 0a3.3 3.3 0 1 0 -6.6 0M571.16 141.87a3.3 3.3 0 1 0 6.6 0a3.3 3.3 0 1 0 -6.6 0M571.16 145.06a3.3 3.3 0 1 0 6.6 0a3.3 3.3 0 1 0 -6.6 0M571.61 144.39a3.3 3.3 0 1 0 6.6 0a3.3 3.3 0 1 0 -6.6 0M571.61 142.05a3.3 3.3 0 1 0 6.6 0a3.3 3.3 0 1 0 -6.6 0M572.06 141.64a3.3 3.3 0 1 0 6.6 0a3.3 3.3 0 1 0 -6.6 0M572.06 141.91a3.3 3.3 0 1 0 6.6 0a3.3 3.3 0 1 0 -6.6 0M572.51 144.36a3.3 3.3 0 1 0 6.6 0a3.3 3.3 0 1 0 -6.6 0M572.51 144.55a3.3 3.3 0 1 0 6.6 0a3.3 3.3 0 1 0 -6.6 0M572.96 141.61a3.3 3.3 0 1 0 6.6 0a3.3 3.3 0 1 0 -6.6 0M572.96 141.53a3.3 3.3 0 1 0 6.6 0a3.3 3.3 0 1 0 -6.6 0M573.41 143.79a3.3 3.3 0 1 0 6.6 0a3.3 3.3 0 1 0 -6.6 0M573.41 144.15a3.3 3.3 0 1 0 6.6 0a3.3 3.3 0 1 0 -6.6 0M573.86 142.33a3.3 3.3 0 1 0 6.6 0a3.3 3.3 0 1 0 -6.6 0M573.86 141.84a3.3 3.3 0 1 0 6.6 0a3.3 3.3 0 1 0 -6.6 0M574.3 144.23a3.3 3.3 0 1 0 6.6 0a3.3 3.3 0 1 0 -6.6 0M574.3 141.42a3.3 3.3 0 1 0 6.6 0a3.3 3.3 0 1 0 -6.6 0" fill="#000"/>
<rect x="450.9" y="76" width="4.4" height="64.3" fill="#e9772a"/>
<path d="M453.3 57.5 L457.9 78 Q453.3 76 448.7 78 Z" fill="#e9772a"/>
<rect x="487.8" y="58.9" width="3.9" height="63" fill="#4289cf"/>
<path d="M489.7 141.3 L485.1 120.5 Q489.7 122.5 494.3 120.5 Z" fill="#4289cf"/>
<text transform="translate(396.07 102.57) scale(1.07 1)" font-family="&quot;Liberation Sans&quot;, sans-serif" font-size="12.99" font-weight="bold" fill="#161616" stroke="#161616" stroke-width="0.15" stroke-linejoin="round" >RESET</text>
<text transform="translate(499.5 102.57) scale(1.06 1)" font-family="&quot;Liberation Sans&quot;, sans-serif" font-size="13.14" font-weight="bold" fill="#161616" stroke="#161616" stroke-width="0.15" stroke-linejoin="round" >SET</text>
<text transform="translate(364 28.78) scale(1.09 1)" font-family="&quot;Liberation Sans&quot;, sans-serif" font-size="12.71" font-weight="bold" fill="#161616" stroke="#161616" stroke-width="0.15" stroke-linejoin="round" >SST</text>
<rect x="351.5" y="11.95" width="247.7" height="184.8" fill="none" stroke="#000" stroke-width="2.4"/>
<text transform="translate(358.36 213.96) scale(0.99 1)" font-family="&quot;Liberation Sans&quot;, sans-serif" font-size="13.84" font-weight="normal" fill="#1e1e1e" stroke="#1e1e1e" stroke-width="0.3" stroke-linejoin="round" >10</text>
<text transform="translate(373.17 206.7) scale(1 1)" font-family="&quot;Liberation Sans&quot;, sans-serif" font-size="8.45" font-weight="normal" fill="#1e1e1e" stroke="#1e1e1e" stroke-width="0.3" stroke-linejoin="round" >0</text>
<text transform="translate(400.61 213.96) scale(0.99 1)" font-family="&quot;Liberation Sans&quot;, sans-serif" font-size="13.84" font-weight="normal" fill="#1e1e1e" stroke="#1e1e1e" stroke-width="0.3" stroke-linejoin="round" >10</text>
<text transform="translate(415.6 206.7) scale(1 1)" font-family="&quot;Liberation Sans&quot;, sans-serif" font-size="8.58" font-weight="normal" fill="#1e1e1e" stroke="#1e1e1e" stroke-width="0.3" stroke-linejoin="round" >1</text>
<text transform="translate(442.86 213.96) scale(0.99 1)" font-family="&quot;Liberation Sans&quot;, sans-serif" font-size="13.84" font-weight="normal" fill="#1e1e1e" stroke="#1e1e1e" stroke-width="0.3" stroke-linejoin="round" >10</text>
<text transform="translate(457.58 206.7) scale(1 1)" font-family="&quot;Liberation Sans&quot;, sans-serif" font-size="8.45" font-weight="normal" fill="#1e1e1e" stroke="#1e1e1e" stroke-width="0.3" stroke-linejoin="round" >2</text>
<text transform="translate(485.11 213.96) scale(0.99 1)" font-family="&quot;Liberation Sans&quot;, sans-serif" font-size="13.84" font-weight="normal" fill="#1e1e1e" stroke="#1e1e1e" stroke-width="0.3" stroke-linejoin="round" >10</text>
<text transform="translate(499.93 206.7) scale(1 1)" font-family="&quot;Liberation Sans&quot;, sans-serif" font-size="8.45" font-weight="normal" fill="#1e1e1e" stroke="#1e1e1e" stroke-width="0.3" stroke-linejoin="round" >3</text>
<text transform="translate(527.36 213.96) scale(0.99 1)" font-family="&quot;Liberation Sans&quot;, sans-serif" font-size="13.84" font-weight="normal" fill="#1e1e1e" stroke="#1e1e1e" stroke-width="0.3" stroke-linejoin="round" >10</text>
<text transform="translate(542.3 206.7) scale(1 1)" font-family="&quot;Liberation Sans&quot;, sans-serif" font-size="8.58" font-weight="normal" fill="#1e1e1e" stroke="#1e1e1e" stroke-width="0.3" stroke-linejoin="round" >4</text>
<text transform="translate(569.61 213.96) scale(0.99 1)" font-family="&quot;Liberation Sans&quot;, sans-serif" font-size="13.84" font-weight="normal" fill="#1e1e1e" stroke="#1e1e1e" stroke-width="0.3" stroke-linejoin="round" >10</text>
<text transform="translate(584.41 206.7) scale(1 1)" font-family="&quot;Liberation Sans&quot;, sans-serif" font-size="8.58" font-weight="normal" fill="#1e1e1e" stroke="#1e1e1e" stroke-width="0.3" stroke-linejoin="round" >5</text>
<text transform="translate(328.26 201.86) scale(0.98 1)" font-family="&quot;Liberation Sans&quot;, sans-serif" font-size="13.98" font-weight="normal" fill="#1e1e1e" stroke="#1e1e1e" stroke-width="0.3" stroke-linejoin="round" >10</text>
<text transform="translate(343.33 194.95) scale(1 1)" font-family="&quot;Liberation Sans&quot;, sans-serif" font-size="7.56" font-weight="normal" fill="#1e1e1e" stroke="#1e1e1e" stroke-width="0.3" stroke-linejoin="round" >4</text>
<text transform="translate(328.26 140.26) scale(0.98 1)" font-family="&quot;Liberation Sans&quot;, sans-serif" font-size="13.98" font-weight="normal" fill="#1e1e1e" stroke="#1e1e1e" stroke-width="0.3" stroke-linejoin="round" >10</text>
<text transform="translate(343.2 133.35) scale(1 1)" font-family="&quot;Liberation Sans&quot;, sans-serif" font-size="7.56" font-weight="normal" fill="#1e1e1e" stroke="#1e1e1e" stroke-width="0.3" stroke-linejoin="round" >5</text>
<text transform="translate(328.26 78.66) scale(0.98 1)" font-family="&quot;Liberation Sans&quot;, sans-serif" font-size="13.98" font-weight="normal" fill="#1e1e1e" stroke="#1e1e1e" stroke-width="0.3" stroke-linejoin="round" >10</text>
<text transform="translate(343.12 71.75) scale(1 1)" font-family="&quot;Liberation Sans&quot;, sans-serif" font-size="7.45" font-weight="normal" fill="#1e1e1e" stroke="#1e1e1e" stroke-width="0.3" stroke-linejoin="round" >6</text>
<text transform="translate(328.26 17.06) scale(0.98 1)" font-family="&quot;Liberation Sans&quot;, sans-serif" font-size="13.98" font-weight="normal" fill="#1e1e1e" stroke="#1e1e1e" stroke-width="0.3" stroke-linejoin="round" >10</text>
<text transform="translate(343.11 10.15) scale(1 1)" font-family="&quot;Liberation Sans&quot;, sans-serif" font-size="7.56" font-weight="normal" fill="#1e1e1e" stroke="#1e1e1e" stroke-width="0.3" stroke-linejoin="round" >7</text>
<text transform="translate(416.47 229.2) scale(1.01 1)" font-family="&quot;Liberation Sans&quot;, sans-serif" font-size="15.32" font-weight="normal" fill="#1e1e1e" stroke="#1e1e1e" stroke-width="0.3" stroke-linejoin="round" >Operation Cycles</text>
<text transform="translate(323.55 171.99) rotate(-90) scale(1.01 1)" font-family="&quot;Liberation Sans&quot;, sans-serif" font-size="15.54" font-weight="normal" fill="#1e1e1e" stroke="#1e1e1e" stroke-width="0.3" stroke-linejoin="round">Cell Resistance (Ω)</text>
<text transform="translate(469.85 248.64) scale(1.04 1)" font-family="&quot;Liberation Serif&quot;, serif" font-size="12.02" font-weight="normal" fill="#1e1e1e" stroke="#1e1e1e" stroke-width="0.4" stroke-linejoin="round" >(b)</text></g></svg></body></html>
